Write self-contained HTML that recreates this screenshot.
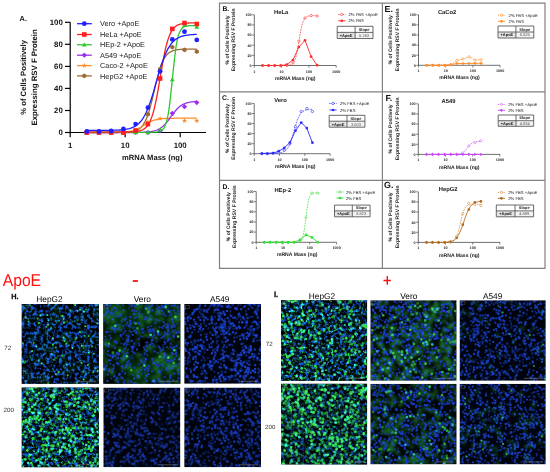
<!DOCTYPE html>
<html><head><meta charset="utf-8"><style>
html,body{margin:0;padding:0;background:#fff;width:550px;height:472px;overflow:hidden}
svg{display:block}
text{font-family:"Liberation Sans", sans-serif;text-rendering:geometricPrecision}
</style></head><body>
<svg width="550" height="472" viewBox="0 0 550 472">
<defs><filter id="bl" x="-5%" y="-5%" width="110%" height="110%"><feGaussianBlur stdDeviation="0.65"/></filter><filter id="tf0" x="0" y="0" width="100%" height="100%" color-interpolation-filters="sRGB"><feTurbulence type="fractalNoise" baseFrequency="0.32" numOctaves="2" seed="3"/><feColorMatrix type="matrix" values="3.6 0 0 0 -1.58 3.6 0 0 0 -1.58 3.6 0 0 0 -1.58 0 0 0 0 1"/><feColorMatrix type="matrix" values="0.08 0 0 0 0 0 0.34 0 0 0 0 0 0.85 0 0 0 0 0 0 1" result="L0"/><feTurbulence type="fractalNoise" baseFrequency="0.1" numOctaves="1" seed="4"/><feColorMatrix type="matrix" values="2 0 0 0 -0.8 2 0 0 0 -0.8 2 0 0 0 -0.8 0 0 0 0 1"/><feColorMatrix type="matrix" values="0.02 0 0 0 0 0 0.16 0 0 0 0 0 0.05 0 0 0 0 0 0 1" result="L1"/><feComposite in="L0" in2="L1" operator="arithmetic" k2="1" k3="1" result="C0"/><feGaussianBlur in="C0" stdDeviation="0.4"/></filter><filter id="tf1" x="0" y="0" width="100%" height="100%" color-interpolation-filters="sRGB"><feTurbulence type="fractalNoise" baseFrequency="0.04" numOctaves="1" seed="5"/><feColorMatrix type="matrix" values="1.4 0 0 0 -0.392 1.4 0 0 0 -0.392 1.4 0 0 0 -0.392 0 0 0 0 1"/><feColorMatrix type="matrix" values="0.04 0 0 0 0 0 0.3 0 0 0 0 0 0.08 0 0 0 0 0 0 1" result="L0"/><feGaussianBlur in="L0" stdDeviation="0.4"/></filter><filter id="tf3" x="0" y="0" width="100%" height="100%" color-interpolation-filters="sRGB"><feTurbulence type="fractalNoise" baseFrequency="0.32" numOctaves="2" seed="7"/><feColorMatrix type="matrix" values="3.6 0 0 0 -1.58 3.6 0 0 0 -1.58 3.6 0 0 0 -1.58 0 0 0 0 1"/><feColorMatrix type="matrix" values="0.08 0 0 0 0 0 0.34 0 0 0 0 0 0.85 0 0 0 0 0 0 1" result="L0"/><feTurbulence type="fractalNoise" baseFrequency="0.1" numOctaves="1" seed="8"/><feColorMatrix type="matrix" values="2 0 0 0 -0.8 2 0 0 0 -0.8 2 0 0 0 -0.8 0 0 0 0 1"/><feColorMatrix type="matrix" values="0.02 0 0 0 0 0 0.16 0 0 0 0 0 0.05 0 0 0 0 0 0 1" result="L1"/><feTurbulence type="fractalNoise" baseFrequency="0.3" numOctaves="2" seed="31"/><feColorMatrix type="matrix" values="4.5 0 0 0 -2.43 4.5 0 0 0 -2.43 4.5 0 0 0 -2.43 0 0 0 0 1"/><feColorMatrix type="matrix" values="0.12 0 0 0 0 0 0.8 0 0 0 0 0 0.18 0 0 0 0 0 0 1" result="L2"/><feComposite in="L0" in2="L1" operator="arithmetic" k2="1" k3="1" result="C0"/><feComposite in="C0" in2="L2" operator="arithmetic" k2="1" k3="1" result="C1"/><feGaussianBlur in="C1" stdDeviation="0.4"/></filter><filter id="tf6" x="0" y="0" width="100%" height="100%" color-interpolation-filters="sRGB"><feTurbulence type="fractalNoise" baseFrequency="0.32" numOctaves="2" seed="9"/><feColorMatrix type="matrix" values="3.6 0 0 0 -1.58 3.6 0 0 0 -1.58 3.6 0 0 0 -1.58 0 0 0 0 1"/><feColorMatrix type="matrix" values="0.08 0 0 0 0 0 0.34 0 0 0 0 0 0.85 0 0 0 0 0 0 1" result="L0"/><feTurbulence type="fractalNoise" baseFrequency="0.1" numOctaves="1" seed="10"/><feColorMatrix type="matrix" values="2 0 0 0 -0.8 2 0 0 0 -0.8 2 0 0 0 -0.8 0 0 0 0 1"/><feColorMatrix type="matrix" values="0.02 0 0 0 0 0 0.16 0 0 0 0 0 0.05 0 0 0 0 0 0 1" result="L1"/><feTurbulence type="fractalNoise" baseFrequency="0.3" numOctaves="2" seed="33"/><feColorMatrix type="matrix" values="4.5 0 0 0 -2.56 4.5 0 0 0 -2.56 4.5 0 0 0 -2.56 0 0 0 0 1"/><feColorMatrix type="matrix" values="0.12 0 0 0 0 0 0.8 0 0 0 0 0 0.18 0 0 0 0 0 0 1" result="L2"/><feComposite in="L0" in2="L1" operator="arithmetic" k2="1" k3="1" result="C0"/><feComposite in="C0" in2="L2" operator="arithmetic" k2="1" k3="1" result="C1"/><feGaussianBlur in="C1" stdDeviation="0.4"/></filter><filter id="tf9" x="0" y="0" width="100%" height="100%" color-interpolation-filters="sRGB"><feTurbulence type="fractalNoise" baseFrequency="0.3" numOctaves="2" seed="21"/><feColorMatrix type="matrix" values="3.4 0 0 0 -1.43 3.4 0 0 0 -1.43 3.4 0 0 0 -1.43 0 0 0 0 1"/><feColorMatrix type="matrix" values="0.06 0 0 0 0 0 0.25 0 0 0 0 0 0.6 0 0 0 0 0 0 1" result="L0"/><feTurbulence type="fractalNoise" baseFrequency="0.1" numOctaves="1" seed="22"/><feColorMatrix type="matrix" values="2 0 0 0 -0.8 2 0 0 0 -0.8 2 0 0 0 -0.8 0 0 0 0 1"/><feColorMatrix type="matrix" values="0.02 0 0 0 0 0 0.16 0 0 0 0 0 0.05 0 0 0 0 0 0 1" result="L1"/><feTurbulence type="fractalNoise" baseFrequency="0.25" numOctaves="2" seed="35"/><feColorMatrix type="matrix" values="4 0 0 0 -2.12 4 0 0 0 -2.12 4 0 0 0 -2.12 0 0 0 0 1"/><feColorMatrix type="matrix" values="0.1 0 0 0 0 0 0.65 0 0 0 0 0 0.15 0 0 0 0 0 0 1" result="L2"/><feComposite in="L0" in2="L1" operator="arithmetic" k2="1" k3="1" result="C0"/><feComposite in="C0" in2="L2" operator="arithmetic" k2="1" k3="1" result="C1"/><feGaussianBlur in="C1" stdDeviation="0.4"/></filter><filter id="bl2" x="-10%" y="-10%" width="120%" height="120%"><feGaussianBlur stdDeviation="1.6"/></filter></defs>
<rect width="550" height="472" fill="#fff"/>
<path d="M70.2 22.3V132.5H206.0" fill="none" stroke="#000" stroke-width="1.2"/>
<path d="M65.0 132.5H70.2" stroke="#000" stroke-width="1.2"/>
<text x="62.8" y="135.3" font-size="7.8" font-weight="bold" text-anchor="end" fill="#111">0</text>
<path d="M65.0 110.5H70.2" stroke="#000" stroke-width="1.2"/>
<text x="62.8" y="113.3" font-size="7.8" font-weight="bold" text-anchor="end" fill="#111">20</text>
<path d="M65.0 88.4H70.2" stroke="#000" stroke-width="1.2"/>
<text x="62.8" y="91.2" font-size="7.8" font-weight="bold" text-anchor="end" fill="#111">40</text>
<path d="M65.0 66.4H70.2" stroke="#000" stroke-width="1.2"/>
<text x="62.8" y="69.2" font-size="7.8" font-weight="bold" text-anchor="end" fill="#111">60</text>
<path d="M65.0 44.3H70.2" stroke="#000" stroke-width="1.2"/>
<text x="62.8" y="47.1" font-size="7.8" font-weight="bold" text-anchor="end" fill="#111">80</text>
<path d="M65.0 22.3H70.2" stroke="#000" stroke-width="1.2"/>
<text x="62.8" y="25.1" font-size="7.8" font-weight="bold" text-anchor="end" fill="#111">100</text>
<path d="M70.2 132.5V137.3" stroke="#000" stroke-width="1.2"/>
<text x="70.2" y="148" font-size="7.8" font-weight="bold" text-anchor="middle" fill="#111">1</text>
<path d="M125.2 132.5V137.3" stroke="#000" stroke-width="1.2"/>
<text x="125.2" y="148" font-size="7.8" font-weight="bold" text-anchor="middle" fill="#111">10</text>
<path d="M180.2 132.5V137.3" stroke="#000" stroke-width="1.2"/>
<text x="180.2" y="148" font-size="7.8" font-weight="bold" text-anchor="middle" fill="#111">100</text>
<text x="152.3" y="160.2" font-size="7.6" font-weight="bold" text-anchor="middle" fill="#111">mRNA Mass (ng)</text>
<g transform="translate(25.8 77.4) rotate(-90)"><text x="0" y="0" font-size="7.7" font-weight="bold" text-anchor="middle" fill="#111">% of Cells Positively</text></g>
<g transform="translate(36.6 77.4) rotate(-90)"><text x="0" y="0" font-size="7.8" font-weight="bold" text-anchor="middle" fill="#111">Expressing RSV F Protein</text></g>
<text x="19.6" y="21.2" font-size="7.4" font-weight="bold" text-anchor="start" fill="#111">A.</text>
<path d="M86.8 132.5L88.1 132.5L89.5 132.5L90.9 132.5L92.3 132.5L93.6 132.5L95.0 132.5L96.4 132.5L97.8 132.5L99.1 132.5L100.5 132.5L101.9 132.5L103.3 132.5L104.6 132.5L106.0 132.5L107.4 132.5L108.8 132.5L110.1 132.5L111.5 132.5L112.9 132.5L114.3 132.5L115.6 132.5L117.0 132.5L118.4 132.4L119.8 132.4L121.1 132.4L122.5 132.4L123.9 132.3L125.3 132.3L126.6 132.2L128.0 132.1L129.4 132.0L130.8 131.8L132.1 131.6L133.5 131.4L134.9 131.0L136.3 130.5L137.6 129.9L139.0 129.1L140.4 128.0L141.8 126.6L143.1 124.9L144.5 122.7L145.9 119.9L147.3 116.5L148.6 112.6L150.0 107.9L151.4 102.7L152.8 97.1L154.1 91.2L155.5 85.3L156.9 79.6L158.3 74.3L159.6 69.6L161.0 65.5L162.4 62.1L163.8 59.2L165.1 57.0L166.5 55.1L167.9 53.7L169.3 52.6L170.6 51.8L172.0 51.1L173.4 50.6L174.8 50.2L176.1 49.9L177.5 49.7L178.9 49.6L180.3 49.4L181.6 49.4L183.0 49.3L184.4 49.2L185.8 49.2L187.1 49.2L188.5 49.1L189.9 49.1L191.3 49.1L192.6 49.1L194.0 49.1L195.4 49.1L196.8 49.1" fill="none" stroke="#9c6a34" stroke-width="1.3"/>
<path d="M86.8 132.5L88.1 132.5L89.5 132.5L90.9 132.5L92.3 132.5L93.6 132.5L95.0 132.5L96.4 132.5L97.8 132.5L99.1 132.5L100.5 132.5L101.9 132.5L103.3 132.5L104.6 132.5L106.0 132.5L107.4 132.5L108.8 132.5L110.1 132.5L111.5 132.5L112.9 132.4L114.3 132.4L115.6 132.4L117.0 132.4L118.4 132.3L119.8 132.3L121.1 132.2L122.5 132.2L123.9 132.1L125.3 132.0L126.6 131.8L128.0 131.7L129.4 131.5L130.8 131.2L132.1 130.9L133.5 130.5L134.9 130.1L136.3 129.5L137.6 128.9L139.0 128.2L140.4 127.5L141.8 126.7L143.1 125.8L144.5 125.0L145.9 124.1L147.3 123.3L148.6 122.5L150.0 121.8L151.4 121.2L152.8 120.7L154.1 120.2L155.5 119.8L156.9 119.5L158.3 119.2L159.6 119.0L161.0 118.8L162.4 118.7L163.8 118.6L165.1 118.5L166.5 118.4L167.9 118.4L169.3 118.3L170.6 118.3L172.0 118.3L173.4 118.3L174.8 118.2L176.1 118.2L177.5 118.2L178.9 118.2L180.3 118.2L181.6 118.2L183.0 118.2L184.4 118.2L185.8 118.2L187.1 118.2L188.5 118.2L189.9 118.2L191.3 118.2L192.6 118.2L194.0 118.2L195.4 118.2L196.8 118.2" fill="none" stroke="#ff8c26" stroke-width="1.3"/>
<path d="M86.8 132.5L88.1 132.5L89.5 132.5L90.9 132.5L92.3 132.5L93.6 132.5L95.0 132.5L96.4 132.5L97.8 132.5L99.1 132.5L100.5 132.5L101.9 132.5L103.3 132.5L104.6 132.5L106.0 132.5L107.4 132.5L108.8 132.5L110.1 132.5L111.5 132.5L112.9 132.5L114.3 132.5L115.6 132.5L117.0 132.5L118.4 132.5L119.8 132.5L121.1 132.5L122.5 132.5L123.9 132.5L125.3 132.5L126.6 132.5L128.0 132.5L129.4 132.5L130.8 132.5L132.1 132.5L133.5 132.5L134.9 132.4L136.3 132.4L137.6 132.4L139.0 132.4L140.4 132.4L141.8 132.3L143.1 132.3L144.5 132.2L145.9 132.1L147.3 132.0L148.6 131.9L150.0 131.7L151.4 131.5L152.8 131.2L154.1 130.9L155.5 130.5L156.9 130.0L158.3 129.4L159.6 128.7L161.0 127.8L162.4 126.7L163.8 125.5L165.1 124.1L166.5 122.5L167.9 120.8L169.3 119.0L170.6 117.1L172.0 115.2L173.4 113.4L174.8 111.6L176.1 110.0L177.5 108.5L178.9 107.2L180.3 106.1L181.6 105.2L183.0 104.4L184.4 103.8L185.8 103.2L187.1 102.8L188.5 102.4L189.9 102.2L191.3 101.9L192.6 101.8L194.0 101.6L195.4 101.5L196.8 101.4" fill="none" stroke="#9a2ff0" stroke-width="1.3"/>
<path d="M86.8 132.3L88.1 132.3L89.5 132.3L90.9 132.3L92.3 132.3L93.6 132.3L95.0 132.3L96.4 132.3L97.8 132.3L99.1 132.3L100.5 132.3L101.9 132.3L103.3 132.3L104.6 132.3L106.0 132.3L107.4 132.3L108.8 132.3L110.1 132.3L111.5 132.3L112.9 132.3L114.3 132.3L115.6 132.3L117.0 132.3L118.4 132.3L119.8 132.3L121.1 132.3L122.5 132.3L123.9 132.3L125.3 132.3L126.6 132.3L128.0 132.3L129.4 132.3L130.8 132.3L132.1 132.3L133.5 132.3L134.9 132.3L136.3 132.3L137.6 132.3L139.0 132.3L140.4 132.3L141.8 132.3L143.1 132.3L144.5 132.3L145.9 132.3L147.3 132.3L148.6 132.2L150.0 132.2L151.4 132.2L152.8 132.2L154.1 132.2L155.5 132.1L156.9 132.0L158.3 131.8L159.6 131.4L161.0 130.9L162.4 129.9L163.8 128.4L165.1 125.8L166.5 121.9L167.9 115.8L169.3 107.2L170.6 95.9L172.0 82.6L173.4 68.8L174.8 56.3L176.1 46.2L177.5 38.9L178.9 33.9L180.3 30.7L181.6 28.7L183.0 27.4L184.4 26.7L185.8 26.3L187.1 26.0L188.5 25.8L189.9 25.7L191.3 25.7L192.6 25.7L194.0 25.6L195.4 25.6L196.8 25.6" fill="none" stroke="#2ec82e" stroke-width="1.3"/>
<path d="M86.8 132.1L88.1 132.1L89.5 132.1L90.9 132.1L92.3 132.1L93.6 132.1L95.0 132.1L96.4 132.1L97.8 132.1L99.1 132.1L100.5 132.1L101.9 132.1L103.3 132.1L104.6 132.1L106.0 132.1L107.4 132.1L108.8 132.1L110.1 132.1L111.5 132.1L112.9 132.1L114.3 132.1L115.6 132.1L117.0 132.1L118.4 132.1L119.8 132.1L121.1 132.0L122.5 132.0L123.9 132.0L125.3 132.0L126.6 132.0L128.0 132.0L129.4 131.9L130.8 131.9L132.1 131.8L133.5 131.7L134.9 131.6L136.3 131.5L137.6 131.3L139.0 131.0L140.4 130.6L141.8 130.1L143.1 129.5L144.5 128.6L145.9 127.5L147.3 125.9L148.6 124.0L150.0 121.4L151.4 118.1L152.8 114.0L154.1 109.1L155.5 103.1L156.9 96.3L158.3 88.8L159.6 80.7L161.0 72.5L162.4 64.5L163.8 57.1L165.1 50.5L166.5 44.7L167.9 39.9L169.3 36.0L170.6 32.9L172.0 30.4L173.4 28.6L174.8 27.1L176.1 26.0L177.5 25.2L178.9 24.6L180.3 24.1L181.6 23.8L183.0 23.5L184.4 23.3L185.8 23.2L187.1 23.1L188.5 23.0L189.9 22.9L191.3 22.9L192.6 22.9L194.0 22.8L195.4 22.8L196.8 22.8" fill="none" stroke="#ff1f1f" stroke-width="1.3"/>
<path d="M86.8 130.4L88.1 130.4L89.5 130.4L90.9 130.4L92.3 130.4L93.6 130.4L95.0 130.4L96.4 130.4L97.8 130.4L99.1 130.4L100.5 130.4L101.9 130.4L103.3 130.4L104.6 130.4L106.0 130.4L107.4 130.4L108.8 130.4L110.1 130.3L111.5 130.3L112.9 130.3L114.3 130.2L115.6 130.2L117.0 130.1L118.4 130.1L119.8 130.0L121.1 129.9L122.5 129.8L123.9 129.6L125.3 129.4L126.6 129.2L128.0 128.9L129.4 128.6L130.8 128.2L132.1 127.7L133.5 127.1L134.9 126.4L136.3 125.5L137.6 124.5L139.0 123.3L140.4 121.8L141.8 120.1L143.1 118.1L144.5 115.8L145.9 113.1L147.3 110.0L148.6 106.6L150.0 102.8L151.4 98.7L152.8 94.3L154.1 89.6L155.5 84.8L156.9 80.0L158.3 75.2L159.6 70.6L161.0 66.1L162.4 62.0L163.8 58.2L165.1 54.7L166.5 51.7L167.9 48.9L169.3 46.6L170.6 44.6L172.0 42.8L173.4 41.4L174.8 40.1L176.1 39.1L177.5 38.2L178.9 37.5L180.3 36.9L181.6 36.4L183.0 36.0L184.4 35.7L185.8 35.4L187.1 35.1L188.5 35.0L189.9 34.8L191.3 34.7L192.6 34.6L194.0 34.5L195.4 34.4L196.8 34.4" fill="none" stroke="#1f1fff" stroke-width="1.3"/>
<path d="M88.9 133.7L86.8 134.9L84.7 133.7L84.7 131.3L86.8 130.1L88.9 131.3Z" fill="#9c6a34"/>
<path d="M101.1 133.7L99.0 134.9L96.9 133.7L96.9 131.3L99.0 130.1L101.1 131.3Z" fill="#9c6a34"/>
<path d="M113.3 133.7L111.2 134.9L109.1 133.7L109.1 131.3L111.2 130.1L113.3 131.3Z" fill="#9c6a34"/>
<path d="M125.5 133.7L123.4 134.9L121.3 133.7L121.3 131.3L123.4 130.1L125.5 131.3Z" fill="#9c6a34"/>
<path d="M137.7 132.1L135.6 133.3L133.5 132.1L133.5 129.6L135.6 128.4L137.7 129.6Z" fill="#9c6a34"/>
<path d="M150.0 115.5L147.9 116.7L145.8 115.5L145.8 113.1L147.9 111.9L150.0 113.1Z" fill="#9c6a34"/>
<path d="M162.2 70.3L160.1 71.6L158.0 70.3L158.0 67.9L160.1 66.7L162.2 67.9Z" fill="#9c6a34"/>
<path d="M174.4 48.3L172.3 49.5L170.2 48.3L170.2 45.9L172.3 44.7L174.4 45.9Z" fill="#9c6a34"/>
<path d="M186.6 51.1L184.5 52.3L182.4 51.1L182.4 48.6L184.5 47.4L186.6 48.6Z" fill="#9c6a34"/>
<path d="M198.9 52.8L196.8 54.0L194.7 52.8L194.7 50.4L196.8 49.2L198.9 50.4Z" fill="#9c6a34"/>
<path d="M86.8 129.8L87.4 131.6L89.4 131.7L87.9 132.9L88.4 134.7L86.8 133.7L85.2 134.7L85.7 132.9L84.2 131.7L86.1 131.6Z" fill="#ff8c26"/>
<path d="M99.0 129.8L99.7 131.6L101.6 131.7L100.1 132.9L100.6 134.7L99.0 133.7L97.4 134.7L97.9 132.9L96.4 131.7L98.3 131.6Z" fill="#ff8c26"/>
<path d="M111.2 129.8L111.9 131.6L113.8 131.7L112.3 132.9L112.8 134.7L111.2 133.7L109.6 134.7L110.1 132.9L108.6 131.7L110.5 131.6Z" fill="#ff8c26"/>
<path d="M123.4 129.8L124.1 131.6L126.0 131.7L124.5 132.9L125.0 134.7L123.4 133.7L121.8 134.7L122.3 132.9L120.8 131.7L122.7 131.6Z" fill="#ff8c26"/>
<path d="M135.6 129.2L136.3 131.0L138.2 131.1L136.7 132.3L137.3 134.2L135.6 133.1L134.0 134.2L134.5 132.3L133.0 131.1L135.0 131.0Z" fill="#ff8c26"/>
<path d="M147.9 119.3L148.5 121.1L150.5 121.2L149.0 122.4L149.5 124.2L147.9 123.2L146.3 124.2L146.8 122.4L145.3 121.2L147.2 121.1Z" fill="#ff8c26"/>
<path d="M160.1 115.9L160.8 117.7L162.7 117.8L161.2 119.0L161.7 120.8L160.1 119.8L158.5 120.8L159.0 119.0L157.5 117.8L159.4 117.7Z" fill="#ff8c26"/>
<path d="M172.3 111.3L173.0 113.1L174.9 113.1L173.4 114.3L173.9 116.2L172.3 115.1L170.7 116.2L171.2 114.3L169.7 113.1L171.6 113.1Z" fill="#ff8c26"/>
<path d="M184.5 118.0L185.2 119.8L187.1 119.9L185.6 121.1L186.1 122.9L184.5 121.9L182.9 122.9L183.4 121.1L181.9 119.9L183.9 119.8Z" fill="#ff8c26"/>
<path d="M196.8 118.0L197.4 119.8L199.4 119.9L197.9 121.1L198.4 122.9L196.8 121.9L195.2 122.9L195.7 121.1L194.2 119.9L196.1 119.8Z" fill="#ff8c26"/>
<path d="M86.8 129.9L89.4 132.5L86.8 135.1L84.2 132.5Z" fill="#9a2ff0"/>
<path d="M99.0 129.9L101.6 132.5L99.0 135.1L96.4 132.5Z" fill="#9a2ff0"/>
<path d="M111.2 129.9L113.8 132.5L111.2 135.1L108.6 132.5Z" fill="#9a2ff0"/>
<path d="M123.4 129.9L126.0 132.5L123.4 135.1L120.8 132.5Z" fill="#9a2ff0"/>
<path d="M135.6 129.9L138.2 132.5L135.6 135.1L133.0 132.5Z" fill="#9a2ff0"/>
<path d="M147.9 129.9L150.5 132.5L147.9 135.1L145.3 132.5Z" fill="#9a2ff0"/>
<path d="M160.1 128.2L162.7 130.8L160.1 133.4L157.5 130.8Z" fill="#9a2ff0"/>
<path d="M172.3 110.7L174.9 113.3L172.3 115.9L169.7 113.3Z" fill="#9a2ff0"/>
<path d="M184.5 104.1L187.1 106.7L184.5 109.3L181.9 106.7Z" fill="#9a2ff0"/>
<path d="M196.8 100.0L199.4 102.6L196.8 105.2L194.2 102.6Z" fill="#9a2ff0"/>
<path d="M86.8 130.0L89.2 134.2L84.3 134.2Z" fill="#2ec82e"/>
<path d="M99.0 130.0L101.4 134.2L96.6 134.2Z" fill="#2ec82e"/>
<path d="M111.2 130.0L113.6 134.2L108.8 134.2Z" fill="#2ec82e"/>
<path d="M123.4 130.0L125.8 134.2L121.0 134.2Z" fill="#2ec82e"/>
<path d="M135.6 130.0L138.1 134.2L133.2 134.2Z" fill="#2ec82e"/>
<path d="M147.9 130.0L150.3 134.2L145.4 134.2Z" fill="#2ec82e"/>
<path d="M160.1 127.2L162.5 131.4L157.7 131.4Z" fill="#2ec82e"/>
<path d="M172.3 77.1L174.7 81.3L169.9 81.3Z" fill="#2ec82e"/>
<path d="M184.5 22.6L187.0 26.8L182.1 26.8Z" fill="#2ec82e"/>
<path d="M196.8 24.5L199.2 28.7L194.3 28.7Z" fill="#2ec82e"/>
<rect x="84.5" y="130.2" width="4.6" height="4.6" fill="#ff1f1f"/>
<rect x="96.7" y="130.2" width="4.6" height="4.6" fill="#ff1f1f"/>
<rect x="108.9" y="130.2" width="4.6" height="4.6" fill="#ff1f1f"/>
<rect x="121.1" y="130.2" width="4.6" height="4.6" fill="#ff1f1f"/>
<rect x="133.3" y="128.2" width="4.6" height="4.6" fill="#ff1f1f"/>
<rect x="145.6" y="121.8" width="4.6" height="4.6" fill="#ff1f1f"/>
<rect x="157.8" y="76.2" width="4.6" height="4.6" fill="#ff1f1f"/>
<rect x="170.0" y="26.6" width="4.6" height="4.6" fill="#ff1f1f"/>
<rect x="182.2" y="20.7" width="4.6" height="4.6" fill="#ff1f1f"/>
<rect x="194.5" y="21.7" width="4.6" height="4.6" fill="#ff1f1f"/>
<circle cx="86.8" cy="131.4" r="2.40" fill="#1f1fff"/>
<circle cx="99.0" cy="131.4" r="2.40" fill="#1f1fff"/>
<circle cx="111.2" cy="131.0" r="2.40" fill="#1f1fff"/>
<circle cx="123.4" cy="129.0" r="2.40" fill="#1f1fff"/>
<circle cx="135.6" cy="124.1" r="2.40" fill="#1f1fff"/>
<circle cx="147.9" cy="107.7" r="2.40" fill="#1f1fff"/>
<circle cx="160.1" cy="71.3" r="2.40" fill="#1f1fff"/>
<circle cx="172.3" cy="39.4" r="2.40" fill="#1f1fff"/>
<circle cx="184.5" cy="31.7" r="2.40" fill="#1f1fff"/>
<circle cx="196.8" cy="39.9" r="2.40" fill="#1f1fff"/>
<path d="M77 23.7H91.8" stroke="#1f1fff" stroke-width="1.3"/>
<circle cx="84.3" cy="23.7" r="2.40" fill="#1f1fff"/>
<text x="100.1" y="26.3" font-size="7.3" text-anchor="start" fill="#1a1a1a">Vero +ApoE</text>
<path d="M77 34.5H91.8" stroke="#ff1f1f" stroke-width="1.3"/>
<rect x="82.0" y="32.2" width="4.6" height="4.6" fill="#ff1f1f"/>
<text x="100.1" y="37.1" font-size="7.3" text-anchor="start" fill="#1a1a1a">HeLa +ApoE</text>
<path d="M77 44.8H91.8" stroke="#2ec82e" stroke-width="1.3"/>
<path d="M84.3 42.3L86.7 46.4L81.9 46.4Z" fill="#2ec82e"/>
<text x="100.1" y="47.4" font-size="7.3" text-anchor="start" fill="#1a1a1a">HEp-2 +ApoE</text>
<path d="M77 55.2H91.8" stroke="#9a2ff0" stroke-width="1.3"/>
<path d="M84.3 52.6L86.9 55.2L84.3 57.8L81.7 55.2Z" fill="#9a2ff0"/>
<text x="100.1" y="57.8" font-size="7.3" text-anchor="start" fill="#1a1a1a">A549 +ApoE</text>
<path d="M77 65.6H91.8" stroke="#ff8c26" stroke-width="1.3"/>
<path d="M84.3 62.9L85.0 64.7L86.9 64.8L85.4 66.0L85.9 67.8L84.3 66.8L82.7 67.8L83.2 66.0L81.7 64.8L83.6 64.7Z" fill="#ff8c26"/>
<text x="100.1" y="68.2" font-size="7.3" text-anchor="start" fill="#1a1a1a">Caco-2 +ApoE</text>
<path d="M77 75.9H91.8" stroke="#9c6a34" stroke-width="1.3"/>
<path d="M86.4 77.1L84.3 78.3L82.2 77.1L82.2 74.7L84.3 73.5L86.4 74.7Z" fill="#9c6a34"/>
<text x="100.1" y="78.5" font-size="7.3" text-anchor="start" fill="#1a1a1a">HepG2 +ApoE</text>
<path d="M219.5 3.2H545V268.3H219.5ZM382.4 3.2V268.3M219.5 91.8H545M219.5 180.3H545" fill="none" stroke="#808080" stroke-width="1.2"/>
<path d="M254.3 14.8V65.5H336.2" fill="none" stroke="#333" stroke-width="0.7"/>
<path d="M252.1 65.5H254.3" stroke="#333" stroke-width="0.6"/>
<text x="251.6" y="66.8" font-size="3.7" font-weight="bold" text-anchor="end" fill="#222">0</text>
<path d="M252.1 55.4H254.3" stroke="#333" stroke-width="0.6"/>
<text x="251.6" y="56.7" font-size="3.7" font-weight="bold" text-anchor="end" fill="#222">20</text>
<path d="M252.1 45.2H254.3" stroke="#333" stroke-width="0.6"/>
<text x="251.6" y="46.5" font-size="3.7" font-weight="bold" text-anchor="end" fill="#222">40</text>
<path d="M252.1 35.1H254.3" stroke="#333" stroke-width="0.6"/>
<text x="251.6" y="36.4" font-size="3.7" font-weight="bold" text-anchor="end" fill="#222">60</text>
<path d="M252.1 24.9H254.3" stroke="#333" stroke-width="0.6"/>
<text x="251.6" y="26.2" font-size="3.7" font-weight="bold" text-anchor="end" fill="#222">80</text>
<path d="M252.1 14.8H254.3" stroke="#333" stroke-width="0.6"/>
<text x="251.6" y="16.1" font-size="3.7" font-weight="bold" text-anchor="end" fill="#222">100</text>
<path d="M254.3 65.5V67.7" stroke="#333" stroke-width="0.6"/>
<text x="254.3" y="72.5" font-size="3.7" font-weight="bold" text-anchor="middle" fill="#222">1</text>
<path d="M281.6 65.5V67.7" stroke="#333" stroke-width="0.6"/>
<text x="281.6" y="72.5" font-size="3.7" font-weight="bold" text-anchor="middle" fill="#222">10</text>
<path d="M308.9 65.5V67.7" stroke="#333" stroke-width="0.6"/>
<text x="308.9" y="72.5" font-size="3.7" font-weight="bold" text-anchor="middle" fill="#222">100</text>
<path d="M336.2 65.5V67.7" stroke="#333" stroke-width="0.6"/>
<text x="336.2" y="72.5" font-size="3.7" font-weight="bold" text-anchor="middle" fill="#222">1000</text>
<text x="295.3" y="79.6" font-size="5.1" font-weight="bold" text-anchor="middle" fill="#222">mRNA Mass (ng)</text>
<g transform="translate(229.0 39.9) rotate(-90)"><text x="0" y="0" font-size="5.05" font-weight="bold" text-anchor="middle" fill="#222">% of Cells Positively</text></g>
<g transform="translate(234.9 39.9) rotate(-90)"><text x="0" y="0" font-size="5.1" font-weight="bold" text-anchor="middle" fill="#222">Expressing RSV F Protein</text></g>
<text x="222.4" y="10.6" font-size="6.8" font-weight="bold" text-anchor="start" fill="#111">B.</text>
<text x="281.2" y="13.5" font-size="5.8" font-weight="bold" text-anchor="middle" fill="#1a1a1a">HeLa</text>
<path d="M262.5 65.5L263.2 65.5L263.9 65.5L264.6 65.5L265.2 65.5L265.9 65.5L266.6 65.5L267.3 65.5L268.0 65.5L268.7 65.5L269.3 65.5L270.0 65.5L270.7 65.5L271.4 65.5L272.1 65.5L272.8 65.5L273.4 65.5L274.1 65.5L274.8 65.5L275.5 65.5L276.2 65.5L276.9 65.5L277.5 65.5L278.2 65.5L278.9 65.5L279.6 65.5L280.3 65.5L280.9 65.5L281.6 65.5L282.3 65.5L283.0 65.5L283.7 65.5L284.4 65.5L285.0 65.4L285.7 65.4L286.4 65.4L287.1 65.3L287.8 65.3L288.5 65.2L289.1 65.1L289.8 65.0L290.5 64.7L291.2 64.4L291.9 64.0L292.5 63.5L293.2 62.7L293.9 61.7L294.6 60.4L295.3 58.6L296.0 56.4L296.6 53.6L297.3 50.3L298.0 46.5L298.7 42.5L299.4 38.3L300.1 34.3L300.7 30.5L301.4 27.3L302.1 24.6L302.8 22.4L303.5 20.7L304.2 19.3L304.8 18.3L305.5 17.6L306.2 17.1L306.9 16.7L307.6 16.4L308.2 16.2L308.9 16.0L309.6 15.9L310.3 15.8L311.0 15.8L311.7 15.8L312.3 15.7L313.0 15.7L313.7 15.7L314.4 15.7L315.1 15.7L315.8 15.7L316.4 15.7L317.1 15.7" fill="none" stroke="#ff2a2a" stroke-width="0.8" stroke-dasharray="1.6 1.1"/>
<path d="M262.5 65.5L268.6 65.5L274.7 65.5L280.7 65.5L286.8 64.6L292.9 60.0L298.9 47.0L305.0 40.3L311.1 56.6L317.1 65.2" fill="none" stroke="#ff2a2a" stroke-width="0.9"/>
<circle cx="262.5" cy="65.5" r="1.15" fill="#fff" stroke="#ff2a2a" stroke-width="0.6"/>
<circle cx="268.6" cy="65.5" r="1.15" fill="#fff" stroke="#ff2a2a" stroke-width="0.6"/>
<circle cx="274.7" cy="65.5" r="1.15" fill="#fff" stroke="#ff2a2a" stroke-width="0.6"/>
<circle cx="280.7" cy="65.5" r="1.15" fill="#fff" stroke="#ff2a2a" stroke-width="0.6"/>
<circle cx="286.8" cy="65.5" r="1.15" fill="#fff" stroke="#ff2a2a" stroke-width="0.6"/>
<circle cx="292.9" cy="63.0" r="1.15" fill="#fff" stroke="#ff2a2a" stroke-width="0.6"/>
<circle cx="298.9" cy="41.2" r="1.15" fill="#fff" stroke="#ff2a2a" stroke-width="0.6"/>
<circle cx="305.0" cy="18.0" r="1.15" fill="#fff" stroke="#ff2a2a" stroke-width="0.6"/>
<circle cx="311.1" cy="15.6" r="1.15" fill="#fff" stroke="#ff2a2a" stroke-width="0.6"/>
<circle cx="317.1" cy="16.0" r="1.15" fill="#fff" stroke="#ff2a2a" stroke-width="0.6"/>
<circle cx="262.5" cy="65.5" r="1.35" fill="#ff2a2a"/>
<circle cx="268.6" cy="65.5" r="1.35" fill="#ff2a2a"/>
<circle cx="274.7" cy="65.5" r="1.35" fill="#ff2a2a"/>
<circle cx="280.7" cy="65.5" r="1.35" fill="#ff2a2a"/>
<circle cx="286.8" cy="64.6" r="1.35" fill="#ff2a2a"/>
<circle cx="292.9" cy="60.0" r="1.35" fill="#ff2a2a"/>
<circle cx="298.9" cy="47.0" r="1.35" fill="#ff2a2a"/>
<circle cx="305.0" cy="40.3" r="1.35" fill="#ff2a2a"/>
<circle cx="311.1" cy="56.6" r="1.35" fill="#ff2a2a"/>
<circle cx="317.1" cy="65.2" r="1.35" fill="#ff2a2a"/>
<path d="M338.2 14.5H345.4" stroke="#ff2a2a" stroke-width="0.8" stroke-dasharray="1.3 0.9"/>
<circle cx="341.8" cy="14.5" r="1.15" fill="#fff" stroke="#ff2a2a" stroke-width="0.6"/>
<path d="M338.2 20.8H345.4" stroke="#ff2a2a" stroke-width="0.9"/>
<circle cx="341.8" cy="20.8" r="1.35" fill="#ff2a2a"/>
<text x="348.5" y="16" font-size="4.2" text-anchor="start" fill="#222">2% FBS +ApoE</text>
<text x="348.5" y="22.3" font-size="4.2" text-anchor="start" fill="#222">2% FBS</text>
<rect x="337.7" y="32.4" width="17.4" height="6.1" fill="#e4e4e4"/>
<rect x="355.1" y="32.4" width="17.4" height="6.1" fill="#f2f2f2"/>
<path d="M337.2 26.3H373.0V38.5H337.2ZM337.2 32.4H373.0M355.1 26.3V38.5" fill="none" stroke="#444" stroke-width="0.8"/>
<text x="364.1" y="30.9" font-size="4.0" font-weight="bold" text-anchor="middle" fill="#222">Slope</text>
<text x="346.1" y="36.9" font-size="4.0" font-weight="bold" text-anchor="middle" fill="#111">+ApoE</text>
<text x="364.1" y="36.9" font-size="4.0" text-anchor="middle" fill="#555">5.263</text>
<path d="M254.2 103.5V153.7H330.1" fill="none" stroke="#333" stroke-width="0.7"/>
<path d="M252.0 153.7H254.2" stroke="#333" stroke-width="0.6"/>
<text x="251.5" y="155" font-size="3.7" font-weight="bold" text-anchor="end" fill="#222">0</text>
<path d="M252.0 143.7H254.2" stroke="#333" stroke-width="0.6"/>
<text x="251.5" y="145" font-size="3.7" font-weight="bold" text-anchor="end" fill="#222">20</text>
<path d="M252.0 133.6H254.2" stroke="#333" stroke-width="0.6"/>
<text x="251.5" y="134.9" font-size="3.7" font-weight="bold" text-anchor="end" fill="#222">40</text>
<path d="M252.0 123.6H254.2" stroke="#333" stroke-width="0.6"/>
<text x="251.5" y="124.9" font-size="3.7" font-weight="bold" text-anchor="end" fill="#222">60</text>
<path d="M252.0 113.5H254.2" stroke="#333" stroke-width="0.6"/>
<text x="251.5" y="114.8" font-size="3.7" font-weight="bold" text-anchor="end" fill="#222">80</text>
<path d="M252.0 103.5H254.2" stroke="#333" stroke-width="0.6"/>
<text x="251.5" y="104.8" font-size="3.7" font-weight="bold" text-anchor="end" fill="#222">100</text>
<path d="M254.2 153.7V155.9" stroke="#333" stroke-width="0.6"/>
<text x="254.2" y="160.7" font-size="3.7" font-weight="bold" text-anchor="middle" fill="#222">1</text>
<path d="M279.5 153.7V155.9" stroke="#333" stroke-width="0.6"/>
<text x="279.5" y="160.7" font-size="3.7" font-weight="bold" text-anchor="middle" fill="#222">10</text>
<path d="M304.8 153.7V155.9" stroke="#333" stroke-width="0.6"/>
<text x="304.8" y="160.7" font-size="3.7" font-weight="bold" text-anchor="middle" fill="#222">100</text>
<path d="M330.1 153.7V155.9" stroke="#333" stroke-width="0.6"/>
<text x="330.1" y="160.7" font-size="3.7" font-weight="bold" text-anchor="middle" fill="#222">1000</text>
<text x="295.2" y="167.8" font-size="5.1" font-weight="bold" text-anchor="middle" fill="#222">mRNA Mass (ng)</text>
<g transform="translate(228.7 128.4) rotate(-90)"><text x="0" y="0" font-size="5.05" font-weight="bold" text-anchor="middle" fill="#222">% of Cells Positively</text></g>
<g transform="translate(234.7 128.4) rotate(-90)"><text x="0" y="0" font-size="5.1" font-weight="bold" text-anchor="middle" fill="#222">Expressing RSV F Protein</text></g>
<text x="222" y="99.8" font-size="6.8" font-weight="bold" text-anchor="start" fill="#111">C.</text>
<text x="280.5" y="101.6" font-size="5.8" font-weight="bold" text-anchor="middle" fill="#1a1a1a">Vero</text>
<path d="M261.8 153.2L262.4 153.2L263.1 153.2L263.7 153.2L264.3 153.2L265.0 153.2L265.6 153.2L266.2 153.2L266.9 153.2L267.5 153.2L268.1 153.2L268.8 153.2L269.4 153.2L270.0 153.2L270.7 153.2L271.3 153.1L271.9 153.1L272.6 153.1L273.2 153.1L273.8 153.1L274.5 153.1L275.1 153.1L275.7 153.1L276.4 153.0L277.0 153.0L277.6 153.0L278.3 152.9L278.9 152.9L279.5 152.8L280.2 152.7L280.8 152.6L281.4 152.5L282.1 152.3L282.7 152.1L283.3 151.9L284.0 151.6L284.6 151.2L285.2 150.8L285.9 150.3L286.5 149.7L287.1 149.0L287.7 148.1L288.4 147.1L289.0 145.9L289.6 144.6L290.3 143.1L290.9 141.4L291.5 139.5L292.2 137.5L292.8 135.3L293.4 133.1L294.1 130.8L294.7 128.6L295.3 126.3L296.0 124.2L296.6 122.3L297.2 120.4L297.9 118.8L298.5 117.3L299.1 116.1L299.8 114.9L300.4 114.0L301.0 113.2L301.7 112.5L302.3 111.9L302.9 111.4L303.6 111.0L304.2 110.7L304.8 110.4L305.5 110.2L306.1 110.0L306.7 109.9L307.4 109.8L308.0 109.7L308.6 109.6L309.3 109.5L309.9 109.5L310.5 109.4L311.2 109.4L311.8 109.4L312.4 109.3" fill="none" stroke="#2a2aff" stroke-width="0.8" stroke-dasharray="1.6 1.1"/>
<path d="M261.8 153.5L267.4 153.5L273.1 153.0L278.7 151.2L284.3 147.9L289.9 142.5L295.5 130.7L301.2 122.6L306.8 128.1L312.4 142.7" fill="none" stroke="#2a2aff" stroke-width="0.9"/>
<circle cx="261.8" cy="153.7" r="1.15" fill="#fff" stroke="#2a2aff" stroke-width="0.6"/>
<circle cx="267.4" cy="153.7" r="1.15" fill="#fff" stroke="#2a2aff" stroke-width="0.6"/>
<circle cx="273.1" cy="153.4" r="1.15" fill="#fff" stroke="#2a2aff" stroke-width="0.6"/>
<circle cx="278.7" cy="152.7" r="1.15" fill="#fff" stroke="#2a2aff" stroke-width="0.6"/>
<circle cx="284.3" cy="150.2" r="1.15" fill="#fff" stroke="#2a2aff" stroke-width="0.6"/>
<circle cx="289.9" cy="143.7" r="1.15" fill="#fff" stroke="#2a2aff" stroke-width="0.6"/>
<circle cx="295.5" cy="126.6" r="1.15" fill="#fff" stroke="#2a2aff" stroke-width="0.6"/>
<circle cx="301.2" cy="111.5" r="1.15" fill="#fff" stroke="#2a2aff" stroke-width="0.6"/>
<circle cx="306.8" cy="108.5" r="1.15" fill="#fff" stroke="#2a2aff" stroke-width="0.6"/>
<circle cx="312.4" cy="111.5" r="1.15" fill="#fff" stroke="#2a2aff" stroke-width="0.6"/>
<circle cx="261.8" cy="153.5" r="1.35" fill="#2a2aff"/>
<circle cx="267.4" cy="153.5" r="1.35" fill="#2a2aff"/>
<circle cx="273.1" cy="153.0" r="1.35" fill="#2a2aff"/>
<circle cx="278.7" cy="151.2" r="1.35" fill="#2a2aff"/>
<circle cx="284.3" cy="147.9" r="1.35" fill="#2a2aff"/>
<circle cx="289.9" cy="142.5" r="1.35" fill="#2a2aff"/>
<circle cx="295.5" cy="130.7" r="1.35" fill="#2a2aff"/>
<circle cx="301.2" cy="122.6" r="1.35" fill="#2a2aff"/>
<circle cx="306.8" cy="128.1" r="1.35" fill="#2a2aff"/>
<circle cx="312.4" cy="142.7" r="1.35" fill="#2a2aff"/>
<path d="M329.4 103.5H336.6" stroke="#2a2aff" stroke-width="0.8" stroke-dasharray="1.3 0.9"/>
<circle cx="333.0" cy="103.5" r="1.15" fill="#fff" stroke="#2a2aff" stroke-width="0.6"/>
<path d="M329.4 110.0H336.6" stroke="#2a2aff" stroke-width="0.9"/>
<circle cx="333.0" cy="110.0" r="1.35" fill="#2a2aff"/>
<text x="340.1" y="105" font-size="4.2" text-anchor="start" fill="#222">2% FBS +ApoE</text>
<text x="340.1" y="111.5" font-size="4.2" text-anchor="start" fill="#222">2% FBS</text>
<rect x="329.7" y="121.2" width="17.3" height="6.0" fill="#e4e4e4"/>
<rect x="347.0" y="121.2" width="17.4" height="6.0" fill="#f2f2f2"/>
<path d="M329.2 115.3H364.9V127.2H329.2ZM329.2 121.2H364.9M347.0 115.3V127.2" fill="none" stroke="#444" stroke-width="0.8"/>
<text x="356" y="119.8" font-size="4.0" font-weight="bold" text-anchor="middle" fill="#222">Slope</text>
<text x="338.1" y="125.6" font-size="4.0" font-weight="bold" text-anchor="middle" fill="#111">+ApoE</text>
<text x="356" y="125.6" font-size="4.0" text-anchor="middle" fill="#555">3.503</text>
<path d="M256.2 191.5V242.3H336.6" fill="none" stroke="#333" stroke-width="0.7"/>
<path d="M254.0 242.3H256.2" stroke="#333" stroke-width="0.6"/>
<text x="253.5" y="243.6" font-size="3.7" font-weight="bold" text-anchor="end" fill="#222">0</text>
<path d="M254.0 232.1H256.2" stroke="#333" stroke-width="0.6"/>
<text x="253.5" y="233.4" font-size="3.7" font-weight="bold" text-anchor="end" fill="#222">20</text>
<path d="M254.0 222.0H256.2" stroke="#333" stroke-width="0.6"/>
<text x="253.5" y="223.3" font-size="3.7" font-weight="bold" text-anchor="end" fill="#222">40</text>
<path d="M254.0 211.8H256.2" stroke="#333" stroke-width="0.6"/>
<text x="253.5" y="213.1" font-size="3.7" font-weight="bold" text-anchor="end" fill="#222">60</text>
<path d="M254.0 201.7H256.2" stroke="#333" stroke-width="0.6"/>
<text x="253.5" y="203" font-size="3.7" font-weight="bold" text-anchor="end" fill="#222">80</text>
<path d="M254.0 191.5H256.2" stroke="#333" stroke-width="0.6"/>
<text x="253.5" y="192.8" font-size="3.7" font-weight="bold" text-anchor="end" fill="#222">100</text>
<path d="M256.2 242.3V244.5" stroke="#333" stroke-width="0.6"/>
<text x="256.2" y="249.3" font-size="3.7" font-weight="bold" text-anchor="middle" fill="#222">1</text>
<path d="M283.0 242.3V244.5" stroke="#333" stroke-width="0.6"/>
<text x="283" y="249.3" font-size="3.7" font-weight="bold" text-anchor="middle" fill="#222">10</text>
<path d="M309.8 242.3V244.5" stroke="#333" stroke-width="0.6"/>
<text x="309.8" y="249.3" font-size="3.7" font-weight="bold" text-anchor="middle" fill="#222">100</text>
<path d="M336.6 242.3V244.5" stroke="#333" stroke-width="0.6"/>
<text x="336.6" y="249.3" font-size="3.7" font-weight="bold" text-anchor="middle" fill="#222">1000</text>
<text x="297.2" y="256.4" font-size="5.1" font-weight="bold" text-anchor="middle" fill="#222">mRNA Mass (ng)</text>
<g transform="translate(229.7 216.7) rotate(-90)"><text x="0" y="0" font-size="5.05" font-weight="bold" text-anchor="middle" fill="#222">% of Cells Positively</text></g>
<g transform="translate(235.7 216.7) rotate(-90)"><text x="0" y="0" font-size="5.1" font-weight="bold" text-anchor="middle" fill="#222">Expressing RSV F Protein</text></g>
<text x="222.6" y="188.6" font-size="6.8" font-weight="bold" text-anchor="start" fill="#111">D.</text>
<text x="282.8" y="191.5" font-size="5.8" font-weight="bold" text-anchor="middle" fill="#1a1a1a">HEp-2</text>
<path d="M264.3 242.2L264.9 242.2L265.6 242.2L266.3 242.2L266.9 242.2L267.6 242.2L268.3 242.2L269.0 242.2L269.6 242.2L270.3 242.2L271.0 242.2L271.6 242.2L272.3 242.2L273.0 242.2L273.6 242.2L274.3 242.2L275.0 242.2L275.7 242.2L276.3 242.2L277.0 242.2L277.7 242.2L278.3 242.2L279.0 242.2L279.7 242.2L280.3 242.2L281.0 242.2L281.7 242.2L282.4 242.2L283.0 242.2L283.7 242.2L284.4 242.2L285.0 242.2L285.7 242.2L286.4 242.2L287.0 242.2L287.7 242.2L288.4 242.2L289.1 242.2L289.7 242.2L290.4 242.2L291.1 242.2L291.7 242.2L292.4 242.2L293.1 242.2L293.7 242.2L294.4 242.2L295.1 242.2L295.8 242.2L296.4 242.1L297.1 242.1L297.8 242.0L298.4 241.9L299.1 241.7L299.8 241.4L300.4 241.0L301.1 240.3L301.8 239.3L302.5 237.8L303.1 235.6L303.8 232.7L304.5 228.8L305.1 224.1L305.8 218.8L306.5 213.4L307.1 208.4L307.8 204.1L308.5 200.7L309.2 198.2L309.8 196.4L310.5 195.2L311.2 194.3L311.8 193.8L312.5 193.4L313.2 193.2L313.8 193.0L314.5 192.9L315.2 192.9L315.9 192.8L316.5 192.8L317.2 192.8L317.9 192.8" fill="none" stroke="#33dd33" stroke-width="0.8" stroke-dasharray="1.6 1.1"/>
<path d="M264.3 242.3L270.2 242.3L276.2 242.3L282.1 242.3L288.1 242.3L294.0 242.3L300.0 239.8L306.0 234.9L311.9 237.4L317.9 242.3" fill="none" stroke="#33dd33" stroke-width="0.9"/>
<circle cx="264.3" cy="242.3" r="1.15" fill="#fff" stroke="#33dd33" stroke-width="0.6"/>
<circle cx="270.2" cy="242.3" r="1.15" fill="#fff" stroke="#33dd33" stroke-width="0.6"/>
<circle cx="276.2" cy="242.3" r="1.15" fill="#fff" stroke="#33dd33" stroke-width="0.6"/>
<circle cx="282.1" cy="242.3" r="1.15" fill="#fff" stroke="#33dd33" stroke-width="0.6"/>
<circle cx="288.1" cy="242.3" r="1.15" fill="#fff" stroke="#33dd33" stroke-width="0.6"/>
<circle cx="294.0" cy="242.3" r="1.15" fill="#fff" stroke="#33dd33" stroke-width="0.6"/>
<circle cx="300.0" cy="240.8" r="1.15" fill="#fff" stroke="#33dd33" stroke-width="0.6"/>
<circle cx="306.0" cy="217.7" r="1.15" fill="#fff" stroke="#33dd33" stroke-width="0.6"/>
<circle cx="311.9" cy="193.2" r="1.15" fill="#fff" stroke="#33dd33" stroke-width="0.6"/>
<circle cx="317.9" cy="193.2" r="1.15" fill="#fff" stroke="#33dd33" stroke-width="0.6"/>
<circle cx="264.3" cy="242.3" r="1.35" fill="#33dd33"/>
<circle cx="270.2" cy="242.3" r="1.35" fill="#33dd33"/>
<circle cx="276.2" cy="242.3" r="1.35" fill="#33dd33"/>
<circle cx="282.1" cy="242.3" r="1.35" fill="#33dd33"/>
<circle cx="288.1" cy="242.3" r="1.35" fill="#33dd33"/>
<circle cx="294.0" cy="242.3" r="1.35" fill="#33dd33"/>
<circle cx="300.0" cy="239.8" r="1.35" fill="#33dd33"/>
<circle cx="306.0" cy="234.9" r="1.35" fill="#33dd33"/>
<circle cx="311.9" cy="237.4" r="1.35" fill="#33dd33"/>
<circle cx="317.9" cy="242.3" r="1.35" fill="#33dd33"/>
<path d="M336.4 192.0H343.6" stroke="#33dd33" stroke-width="0.8" stroke-dasharray="1.3 0.9"/>
<circle cx="340.0" cy="192.0" r="1.15" fill="#fff" stroke="#33dd33" stroke-width="0.6"/>
<path d="M336.4 198.0H343.6" stroke="#33dd33" stroke-width="0.9"/>
<circle cx="340.0" cy="198.0" r="1.35" fill="#33dd33"/>
<text x="346" y="193.5" font-size="4.2" text-anchor="start" fill="#222">2% FBS +ApoE</text>
<text x="346" y="199.5" font-size="4.2" text-anchor="start" fill="#222">2% FBS</text>
<rect x="335.0" y="210.9" width="17.3" height="5.9" fill="#e4e4e4"/>
<rect x="352.3" y="210.9" width="17.3" height="5.9" fill="#f2f2f2"/>
<path d="M334.5 205.1H370.1V216.8H334.5ZM334.5 210.9H370.1M352.3 205.1V216.8" fill="none" stroke="#444" stroke-width="0.8"/>
<text x="361.2" y="209.4" font-size="4.0" font-weight="bold" text-anchor="middle" fill="#222">Slope</text>
<text x="343.4" y="215.2" font-size="4.0" font-weight="bold" text-anchor="middle" fill="#111">+ApoE</text>
<text x="361.2" y="215.2" font-size="4.0" text-anchor="middle" fill="#555">8.823</text>
<path d="M418.5 14.8V65.3H500.1" fill="none" stroke="#333" stroke-width="0.7"/>
<path d="M416.3 65.3H418.5" stroke="#333" stroke-width="0.6"/>
<text x="415.8" y="66.6" font-size="3.7" font-weight="bold" text-anchor="end" fill="#222">0</text>
<path d="M416.3 55.2H418.5" stroke="#333" stroke-width="0.6"/>
<text x="415.8" y="56.5" font-size="3.7" font-weight="bold" text-anchor="end" fill="#222">20</text>
<path d="M416.3 45.1H418.5" stroke="#333" stroke-width="0.6"/>
<text x="415.8" y="46.4" font-size="3.7" font-weight="bold" text-anchor="end" fill="#222">40</text>
<path d="M416.3 35.0H418.5" stroke="#333" stroke-width="0.6"/>
<text x="415.8" y="36.3" font-size="3.7" font-weight="bold" text-anchor="end" fill="#222">60</text>
<path d="M416.3 24.9H418.5" stroke="#333" stroke-width="0.6"/>
<text x="415.8" y="26.2" font-size="3.7" font-weight="bold" text-anchor="end" fill="#222">80</text>
<path d="M416.3 14.8H418.5" stroke="#333" stroke-width="0.6"/>
<text x="415.8" y="16.1" font-size="3.7" font-weight="bold" text-anchor="end" fill="#222">100</text>
<path d="M418.5 65.3V67.5" stroke="#333" stroke-width="0.6"/>
<text x="418.5" y="72.3" font-size="3.7" font-weight="bold" text-anchor="middle" fill="#222">1</text>
<path d="M445.7 65.3V67.5" stroke="#333" stroke-width="0.6"/>
<text x="445.7" y="72.3" font-size="3.7" font-weight="bold" text-anchor="middle" fill="#222">10</text>
<path d="M472.9 65.3V67.5" stroke="#333" stroke-width="0.6"/>
<text x="472.9" y="72.3" font-size="3.7" font-weight="bold" text-anchor="middle" fill="#222">100</text>
<path d="M500.1 65.3V67.5" stroke="#333" stroke-width="0.6"/>
<text x="500.1" y="72.3" font-size="3.7" font-weight="bold" text-anchor="middle" fill="#222">1000</text>
<text x="459.5" y="79.4" font-size="5.1" font-weight="bold" text-anchor="middle" fill="#222">mRNA Mass (ng)</text>
<g transform="translate(392.2 39.8) rotate(-90)"><text x="0" y="0" font-size="5.05" font-weight="bold" text-anchor="middle" fill="#222">% of Cells Positively</text></g>
<g transform="translate(398.8 39.8) rotate(-90)"><text x="0" y="0" font-size="5.1" font-weight="bold" text-anchor="middle" fill="#222">Expressing RSV F Protein</text></g>
<text x="384.5" y="11.8" font-size="8.9" font-weight="bold" text-anchor="start" fill="#111">E.</text>
<text x="447.1" y="13.8" font-size="5.8" font-weight="bold" text-anchor="middle" fill="#1a1a1a">CaCo2</text>
<path d="M426.7 65.3L432.7 65.3L438.8 65.3L444.8 65.3L450.9 65.0L456.9 60.5L463.0 59.0L469.0 56.8L475.0 60.0L481.1 59.8" fill="none" stroke="#ff8c26" stroke-width="0.8" stroke-dasharray="1.6 1.1"/>
<path d="M426.7 65.3L432.7 65.3L438.8 65.3L444.8 65.3L450.9 64.5L456.9 63.5L463.0 63.5L469.0 63.5L475.0 63.3L481.1 63.3" fill="none" stroke="#ff8c26" stroke-width="0.9"/>
<circle cx="426.7" cy="65.3" r="1.15" fill="#fff" stroke="#ff8c26" stroke-width="0.6"/>
<circle cx="432.7" cy="65.3" r="1.15" fill="#fff" stroke="#ff8c26" stroke-width="0.6"/>
<circle cx="438.8" cy="65.3" r="1.15" fill="#fff" stroke="#ff8c26" stroke-width="0.6"/>
<circle cx="444.8" cy="65.3" r="1.15" fill="#fff" stroke="#ff8c26" stroke-width="0.6"/>
<circle cx="450.9" cy="65.0" r="1.15" fill="#fff" stroke="#ff8c26" stroke-width="0.6"/>
<circle cx="456.9" cy="60.5" r="1.15" fill="#fff" stroke="#ff8c26" stroke-width="0.6"/>
<circle cx="463.0" cy="59.0" r="1.15" fill="#fff" stroke="#ff8c26" stroke-width="0.6"/>
<circle cx="469.0" cy="56.8" r="1.15" fill="#fff" stroke="#ff8c26" stroke-width="0.6"/>
<circle cx="475.0" cy="60.0" r="1.15" fill="#fff" stroke="#ff8c26" stroke-width="0.6"/>
<circle cx="481.1" cy="59.8" r="1.15" fill="#fff" stroke="#ff8c26" stroke-width="0.6"/>
<circle cx="426.7" cy="65.3" r="1.35" fill="#ff8c26"/>
<circle cx="432.7" cy="65.3" r="1.35" fill="#ff8c26"/>
<circle cx="438.8" cy="65.3" r="1.35" fill="#ff8c26"/>
<circle cx="444.8" cy="65.3" r="1.35" fill="#ff8c26"/>
<circle cx="450.9" cy="64.5" r="1.35" fill="#ff8c26"/>
<circle cx="456.9" cy="63.5" r="1.35" fill="#ff8c26"/>
<circle cx="463.0" cy="63.5" r="1.35" fill="#ff8c26"/>
<circle cx="469.0" cy="63.5" r="1.35" fill="#ff8c26"/>
<circle cx="475.0" cy="63.3" r="1.35" fill="#ff8c26"/>
<circle cx="481.1" cy="63.3" r="1.35" fill="#ff8c26"/>
<path d="M497.9 15.2H505.1" stroke="#ff8c26" stroke-width="0.8" stroke-dasharray="1.3 0.9"/>
<circle cx="501.5" cy="15.2" r="1.15" fill="#fff" stroke="#ff8c26" stroke-width="0.6"/>
<path d="M497.9 21.3H505.1" stroke="#ff8c26" stroke-width="0.9"/>
<circle cx="501.5" cy="21.3" r="1.35" fill="#ff8c26"/>
<text x="508.6" y="16.7" font-size="4.2" text-anchor="start" fill="#222">2% FBS +ApoE</text>
<text x="508.6" y="22.8" font-size="4.2" text-anchor="start" fill="#222">2% FBS</text>
<rect x="498.5" y="32.0" width="17.4" height="6.0" fill="#e4e4e4"/>
<rect x="515.9" y="32.0" width="17.4" height="6.0" fill="#f2f2f2"/>
<path d="M498.0 26.0H533.8V38.0H498.0ZM498.0 32.0H533.8M515.9 26.0V38.0" fill="none" stroke="#444" stroke-width="0.8"/>
<text x="524.8" y="30.5" font-size="4.0" font-weight="bold" text-anchor="middle" fill="#222">Slope</text>
<text x="506.9" y="36.4" font-size="4.0" font-weight="bold" text-anchor="middle" fill="#111">+ApoE</text>
<text x="524.8" y="36.4" font-size="4.0" text-anchor="middle" fill="#555">5.026</text>
<path d="M418.3 103.8V154.4H499.9" fill="none" stroke="#333" stroke-width="0.7"/>
<path d="M416.1 154.4H418.3" stroke="#333" stroke-width="0.6"/>
<text x="415.6" y="155.7" font-size="3.7" font-weight="bold" text-anchor="end" fill="#222">0</text>
<path d="M416.1 144.3H418.3" stroke="#333" stroke-width="0.6"/>
<text x="415.6" y="145.6" font-size="3.7" font-weight="bold" text-anchor="end" fill="#222">20</text>
<path d="M416.1 134.2H418.3" stroke="#333" stroke-width="0.6"/>
<text x="415.6" y="135.5" font-size="3.7" font-weight="bold" text-anchor="end" fill="#222">40</text>
<path d="M416.1 124.0H418.3" stroke="#333" stroke-width="0.6"/>
<text x="415.6" y="125.3" font-size="3.7" font-weight="bold" text-anchor="end" fill="#222">60</text>
<path d="M416.1 113.9H418.3" stroke="#333" stroke-width="0.6"/>
<text x="415.6" y="115.2" font-size="3.7" font-weight="bold" text-anchor="end" fill="#222">80</text>
<path d="M416.1 103.8H418.3" stroke="#333" stroke-width="0.6"/>
<text x="415.6" y="105.1" font-size="3.7" font-weight="bold" text-anchor="end" fill="#222">100</text>
<path d="M418.3 154.4V156.6" stroke="#333" stroke-width="0.6"/>
<text x="418.3" y="161.4" font-size="3.7" font-weight="bold" text-anchor="middle" fill="#222">1</text>
<path d="M445.5 154.4V156.6" stroke="#333" stroke-width="0.6"/>
<text x="445.5" y="161.4" font-size="3.7" font-weight="bold" text-anchor="middle" fill="#222">10</text>
<path d="M472.7 154.4V156.6" stroke="#333" stroke-width="0.6"/>
<text x="472.7" y="161.4" font-size="3.7" font-weight="bold" text-anchor="middle" fill="#222">100</text>
<path d="M499.9 154.4V156.6" stroke="#333" stroke-width="0.6"/>
<text x="499.9" y="161.4" font-size="3.7" font-weight="bold" text-anchor="middle" fill="#222">1000</text>
<text x="459.3" y="168.5" font-size="5.1" font-weight="bold" text-anchor="middle" fill="#222">mRNA Mass (ng)</text>
<g transform="translate(392.0 128.9) rotate(-90)"><text x="0" y="0" font-size="5.05" font-weight="bold" text-anchor="middle" fill="#222">% of Cells Positively</text></g>
<g transform="translate(398.6 128.9) rotate(-90)"><text x="0" y="0" font-size="5.1" font-weight="bold" text-anchor="middle" fill="#222">Expressing RSV F Protein</text></g>
<text x="385.4" y="100.7" font-size="8.9" font-weight="bold" text-anchor="start" fill="#111">F.</text>
<text x="448.5" y="102.8" font-size="5.8" font-weight="bold" text-anchor="middle" fill="#1a1a1a">A549</text>
<path d="M426.5 154.5L427.2 154.5L427.8 154.5L428.5 154.5L429.2 154.5L429.9 154.5L430.6 154.5L431.2 154.5L431.9 154.5L432.6 154.5L433.3 154.5L434.0 154.5L434.6 154.5L435.3 154.5L436.0 154.5L436.7 154.5L437.4 154.5L438.0 154.5L438.7 154.5L439.4 154.5L440.1 154.5L440.8 154.5L441.4 154.5L442.1 154.5L442.8 154.5L443.5 154.5L444.2 154.5L444.8 154.5L445.5 154.5L446.2 154.5L446.9 154.5L447.6 154.5L448.2 154.5L448.9 154.4L449.6 154.4L450.3 154.4L451.0 154.4L451.6 154.4L452.3 154.4L453.0 154.4L453.7 154.4L454.4 154.4L455.0 154.4L455.7 154.3L456.4 154.3L457.1 154.2L457.8 154.2L458.4 154.1L459.1 154.0L459.8 153.8L460.5 153.7L461.2 153.4L461.8 153.1L462.5 152.8L463.2 152.3L463.9 151.8L464.6 151.2L465.2 150.5L465.9 149.7L466.6 148.9L467.3 148.0L468.0 147.1L468.6 146.3L469.3 145.5L470.0 144.7L470.7 144.1L471.4 143.6L472.0 143.1L472.7 142.7L473.4 142.4L474.1 142.2L474.8 142.0L475.4 141.8L476.1 141.7L476.8 141.6L477.5 141.5L478.2 141.5L478.8 141.4L479.5 141.4L480.2 141.4L480.9 141.4" fill="none" stroke="#cc44ff" stroke-width="0.8" stroke-dasharray="1.6 1.1"/>
<path d="M426.5 154.4L432.5 154.4L438.6 154.4L444.6 154.4L450.7 154.4L456.7 154.4L462.8 154.4L468.8 154.4L474.8 154.4L480.9 154.4" fill="none" stroke="#cc44ff" stroke-width="0.9"/>
<path d="M426.5 153.1L427.8 154.4L426.5 155.7L425.2 154.4Z" fill="#fff" stroke="#cc44ff" stroke-width="0.6"/>
<path d="M432.5 153.1L433.9 154.4L432.5 155.7L431.2 154.4Z" fill="#fff" stroke="#cc44ff" stroke-width="0.6"/>
<path d="M438.6 153.1L439.9 154.4L438.6 155.7L437.3 154.4Z" fill="#fff" stroke="#cc44ff" stroke-width="0.6"/>
<path d="M444.6 153.1L445.9 154.4L444.6 155.7L443.3 154.4Z" fill="#fff" stroke="#cc44ff" stroke-width="0.6"/>
<path d="M450.7 153.1L452.0 154.4L450.7 155.7L449.3 154.4Z" fill="#fff" stroke="#cc44ff" stroke-width="0.6"/>
<path d="M456.7 153.1L458.0 154.4L456.7 155.7L455.4 154.4Z" fill="#fff" stroke="#cc44ff" stroke-width="0.6"/>
<path d="M462.8 151.6L464.1 152.9L462.8 154.2L461.4 152.9Z" fill="#fff" stroke="#cc44ff" stroke-width="0.6"/>
<path d="M468.8 144.5L470.1 145.8L468.8 147.1L467.5 145.8Z" fill="#fff" stroke="#cc44ff" stroke-width="0.6"/>
<path d="M474.8 141.4L476.2 142.8L474.8 144.1L473.5 142.8Z" fill="#fff" stroke="#cc44ff" stroke-width="0.6"/>
<path d="M480.9 139.4L482.2 140.7L480.9 142.1L479.6 140.7Z" fill="#fff" stroke="#cc44ff" stroke-width="0.6"/>
<path d="M426.5 152.8L428.0 154.4L426.5 156.0L424.9 154.4Z" fill="#cc44ff"/>
<path d="M432.5 152.8L434.1 154.4L432.5 156.0L431.0 154.4Z" fill="#cc44ff"/>
<path d="M438.6 152.8L440.1 154.4L438.6 156.0L437.0 154.4Z" fill="#cc44ff"/>
<path d="M444.6 152.8L446.2 154.4L444.6 156.0L443.1 154.4Z" fill="#cc44ff"/>
<path d="M450.7 152.8L452.2 154.4L450.7 156.0L449.1 154.4Z" fill="#cc44ff"/>
<path d="M456.7 152.8L458.3 154.4L456.7 156.0L455.2 154.4Z" fill="#cc44ff"/>
<path d="M462.8 152.8L464.3 154.4L462.8 156.0L461.2 154.4Z" fill="#cc44ff"/>
<path d="M468.8 152.8L470.4 154.4L468.8 156.0L467.2 154.4Z" fill="#cc44ff"/>
<path d="M474.8 152.8L476.4 154.4L474.8 156.0L473.3 154.4Z" fill="#cc44ff"/>
<path d="M480.9 152.8L482.4 154.4L480.9 156.0L479.3 154.4Z" fill="#cc44ff"/>
<path d="M497.8 104.4H505.0" stroke="#cc44ff" stroke-width="0.8" stroke-dasharray="1.3 0.9"/>
<path d="M501.4 103.1L502.7 104.4L501.4 105.7L500.1 104.4Z" fill="#fff" stroke="#cc44ff" stroke-width="0.6"/>
<path d="M497.8 110.3H505.0" stroke="#cc44ff" stroke-width="0.9"/>
<path d="M501.4 108.7L503.0 110.3L501.4 111.9L499.8 110.3Z" fill="#cc44ff"/>
<text x="508.2" y="105.9" font-size="4.2" text-anchor="start" fill="#222">2% FBS +ApoE</text>
<text x="508.2" y="111.8" font-size="4.2" text-anchor="start" fill="#222">2% FBS</text>
<rect x="498.7" y="120.7" width="17.3" height="5.6" fill="#e4e4e4"/>
<rect x="516.0" y="120.7" width="17.2" height="5.6" fill="#f2f2f2"/>
<path d="M498.2 115.0H533.7V126.3H498.2ZM498.2 120.7H533.7M516.0 115.0V126.3" fill="none" stroke="#444" stroke-width="0.8"/>
<text x="524.8" y="119.2" font-size="4.0" font-weight="bold" text-anchor="middle" fill="#222">Slope</text>
<text x="507.1" y="124.7" font-size="4.0" font-weight="bold" text-anchor="middle" fill="#111">+ApoE</text>
<text x="524.8" y="124.7" font-size="4.0" text-anchor="middle" fill="#555">4.934</text>
<path d="M418.3 191.8V242.4H499.9" fill="none" stroke="#333" stroke-width="0.7"/>
<path d="M416.1 242.4H418.3" stroke="#333" stroke-width="0.6"/>
<text x="415.6" y="243.7" font-size="3.7" font-weight="bold" text-anchor="end" fill="#222">0</text>
<path d="M416.1 232.3H418.3" stroke="#333" stroke-width="0.6"/>
<text x="415.6" y="233.6" font-size="3.7" font-weight="bold" text-anchor="end" fill="#222">20</text>
<path d="M416.1 222.2H418.3" stroke="#333" stroke-width="0.6"/>
<text x="415.6" y="223.5" font-size="3.7" font-weight="bold" text-anchor="end" fill="#222">40</text>
<path d="M416.1 212.0H418.3" stroke="#333" stroke-width="0.6"/>
<text x="415.6" y="213.3" font-size="3.7" font-weight="bold" text-anchor="end" fill="#222">60</text>
<path d="M416.1 201.9H418.3" stroke="#333" stroke-width="0.6"/>
<text x="415.6" y="203.2" font-size="3.7" font-weight="bold" text-anchor="end" fill="#222">80</text>
<path d="M416.1 191.8H418.3" stroke="#333" stroke-width="0.6"/>
<text x="415.6" y="193.1" font-size="3.7" font-weight="bold" text-anchor="end" fill="#222">100</text>
<path d="M418.3 242.4V244.6" stroke="#333" stroke-width="0.6"/>
<text x="418.3" y="249.4" font-size="3.7" font-weight="bold" text-anchor="middle" fill="#222">1</text>
<path d="M445.5 242.4V244.6" stroke="#333" stroke-width="0.6"/>
<text x="445.5" y="249.4" font-size="3.7" font-weight="bold" text-anchor="middle" fill="#222">10</text>
<path d="M472.7 242.4V244.6" stroke="#333" stroke-width="0.6"/>
<text x="472.7" y="249.4" font-size="3.7" font-weight="bold" text-anchor="middle" fill="#222">100</text>
<path d="M499.9 242.4V244.6" stroke="#333" stroke-width="0.6"/>
<text x="499.9" y="249.4" font-size="3.7" font-weight="bold" text-anchor="middle" fill="#222">1000</text>
<text x="459.3" y="256.5" font-size="5.1" font-weight="bold" text-anchor="middle" fill="#222">mRNA Mass (ng)</text>
<g transform="translate(392.0 216.9) rotate(-90)"><text x="0" y="0" font-size="5.05" font-weight="bold" text-anchor="middle" fill="#222">% of Cells Positively</text></g>
<g transform="translate(398.6 216.9) rotate(-90)"><text x="0" y="0" font-size="5.1" font-weight="bold" text-anchor="middle" fill="#222">Expressing RSV F Protein</text></g>
<text x="384.1" y="187.9" font-size="8.9" font-weight="bold" text-anchor="start" fill="#111">G.</text>
<text x="448.2" y="190.6" font-size="5.8" font-weight="bold" text-anchor="middle" fill="#1a1a1a">HepG2</text>
<path d="M426.5 242.4L427.2 242.4L427.8 242.4L428.5 242.4L429.2 242.4L429.9 242.4L430.6 242.4L431.2 242.4L431.9 242.4L432.6 242.4L433.3 242.4L434.0 242.4L434.6 242.4L435.3 242.4L436.0 242.4L436.7 242.4L437.4 242.4L438.0 242.4L438.7 242.4L439.4 242.4L440.1 242.4L440.8 242.4L441.4 242.4L442.1 242.4L442.8 242.3L443.5 242.3L444.2 242.3L444.8 242.3L445.5 242.3L446.2 242.3L446.9 242.3L447.6 242.3L448.2 242.2L448.9 242.2L449.6 242.1L450.3 242.0L451.0 241.9L451.6 241.7L452.3 241.5L453.0 241.2L453.7 240.8L454.4 240.2L455.0 239.5L455.7 238.5L456.4 237.2L457.1 235.6L457.8 233.6L458.4 231.2L459.1 228.5L459.8 225.5L460.5 222.4L461.2 219.4L461.8 216.6L462.5 214.0L463.2 211.9L463.9 210.1L464.6 208.7L465.2 207.6L465.9 206.7L466.6 206.1L467.3 205.6L468.0 205.2L468.6 205.0L469.3 204.8L470.0 204.7L470.7 204.6L471.4 204.5L472.0 204.4L472.7 204.4L473.4 204.4L474.1 204.3L474.8 204.3L475.4 204.3L476.1 204.3L476.8 204.3L477.5 204.3L478.2 204.3L478.8 204.3L479.5 204.3L480.2 204.3L480.9 204.3" fill="none" stroke="#d98a30" stroke-width="0.8" stroke-dasharray="1.6 1.1"/>
<path d="M426.5 242.5L427.2 242.5L427.8 242.5L428.5 242.5L429.2 242.5L429.9 242.5L430.6 242.5L431.2 242.5L431.9 242.5L432.6 242.5L433.3 242.5L434.0 242.5L434.6 242.5L435.3 242.5L436.0 242.5L436.7 242.5L437.4 242.5L438.0 242.5L438.7 242.5L439.4 242.5L440.1 242.5L440.8 242.5L441.4 242.5L442.1 242.5L442.8 242.4L443.5 242.4L444.2 242.4L444.8 242.4L445.5 242.3L446.2 242.3L446.9 242.2L447.6 242.1L448.2 242.0L448.9 241.9L449.6 241.8L450.3 241.7L451.0 241.5L451.6 241.3L452.3 241.0L453.0 240.7L453.7 240.3L454.4 239.9L455.0 239.4L455.7 238.8L456.4 238.0L457.1 237.2L457.8 236.2L458.4 235.1L459.1 233.9L459.8 232.5L460.5 231.0L461.2 229.3L461.8 227.5L462.5 225.6L463.2 223.6L463.9 221.6L464.6 219.6L465.2 217.7L465.9 215.8L466.6 214.0L467.3 212.4L468.0 210.8L468.6 209.5L469.3 208.2L470.0 207.1L470.7 206.2L471.4 205.4L472.0 204.7L472.7 204.1L473.4 203.6L474.1 203.1L474.8 202.8L475.4 202.5L476.1 202.2L476.8 202.0L477.5 201.8L478.2 201.7L478.8 201.6L479.5 201.5L480.2 201.4L480.9 201.3" fill="none" stroke="#b06a20" stroke-width="0.9"/>
<circle cx="426.5" cy="242.4" r="1.15" fill="#fff" stroke="#d98a30" stroke-width="0.6"/>
<circle cx="432.5" cy="242.4" r="1.15" fill="#fff" stroke="#d98a30" stroke-width="0.6"/>
<circle cx="438.6" cy="242.4" r="1.15" fill="#fff" stroke="#d98a30" stroke-width="0.6"/>
<circle cx="444.6" cy="242.4" r="1.15" fill="#fff" stroke="#d98a30" stroke-width="0.6"/>
<circle cx="450.7" cy="241.9" r="1.15" fill="#fff" stroke="#d98a30" stroke-width="0.6"/>
<circle cx="456.7" cy="236.3" r="1.15" fill="#fff" stroke="#d98a30" stroke-width="0.6"/>
<circle cx="462.8" cy="213.6" r="1.15" fill="#fff" stroke="#d98a30" stroke-width="0.6"/>
<circle cx="468.8" cy="203.4" r="1.15" fill="#fff" stroke="#d98a30" stroke-width="0.6"/>
<circle cx="474.8" cy="204.5" r="1.15" fill="#fff" stroke="#d98a30" stroke-width="0.6"/>
<circle cx="480.9" cy="205.5" r="1.15" fill="#fff" stroke="#d98a30" stroke-width="0.6"/>
<circle cx="426.5" cy="242.4" r="1.35" fill="#b06a20"/>
<circle cx="432.5" cy="242.4" r="1.35" fill="#b06a20"/>
<circle cx="438.6" cy="242.4" r="1.35" fill="#b06a20"/>
<circle cx="444.6" cy="242.4" r="1.35" fill="#b06a20"/>
<circle cx="450.7" cy="241.9" r="1.35" fill="#b06a20"/>
<circle cx="456.7" cy="237.8" r="1.35" fill="#b06a20"/>
<circle cx="462.8" cy="224.7" r="1.35" fill="#b06a20"/>
<circle cx="468.8" cy="209.5" r="1.35" fill="#b06a20"/>
<circle cx="474.8" cy="202.4" r="1.35" fill="#b06a20"/>
<circle cx="480.9" cy="201.4" r="1.35" fill="#b06a20"/>
<path d="M497.8 192.4H505.0" stroke="#d98a30" stroke-width="0.8" stroke-dasharray="1.3 0.9"/>
<circle cx="501.4" cy="192.4" r="1.15" fill="#fff" stroke="#d98a30" stroke-width="0.6"/>
<path d="M497.8 198.3H505.0" stroke="#b06a20" stroke-width="0.9"/>
<circle cx="501.4" cy="198.3" r="1.35" fill="#b06a20"/>
<text x="508.2" y="193.9" font-size="4.2" text-anchor="start" fill="#222">2% FBS +ApoE</text>
<text x="508.2" y="199.8" font-size="4.2" text-anchor="start" fill="#222">2% FBS</text>
<rect x="496.8" y="210.9" width="18.2" height="5.9" fill="#e4e4e4"/>
<rect x="515.0" y="210.9" width="18.1" height="5.9" fill="#f2f2f2"/>
<path d="M496.3 205.0H533.6V216.8H496.3ZM496.3 210.9H533.6M515.0 205.0V216.8" fill="none" stroke="#444" stroke-width="0.8"/>
<text x="524.3" y="209.4" font-size="4.0" font-weight="bold" text-anchor="middle" fill="#222">Slope</text>
<text x="505.6" y="215.2" font-size="4.0" font-weight="bold" text-anchor="middle" fill="#111">+ApoE</text>
<text x="524.3" y="215.2" font-size="4.0" text-anchor="middle" fill="#555">4.889</text>
<text x="2.7" y="285.7" font-size="17" text-anchor="start" fill="#ff0d0d" textLength="38.4" lengthAdjust="spacingAndGlyphs">ApoE</text>
<rect x="132.8" y="280.1" width="5.1" height="1.8" fill="#ff1010"/>
<path d="M383.5 280.5H390.9M387.3 276V284.7" stroke="#ff1010" stroke-width="1.4"/>
<text x="11.3" y="299.3" font-size="7.3" font-weight="bold" text-anchor="start" fill="#111" stroke="#111" stroke-width="0.25">H.</text>
<text x="274" y="297.1" font-size="7.6" font-weight="bold" text-anchor="start" fill="#111" stroke="#111" stroke-width="0.35">I.</text>
<text x="36.3" y="302.2" font-size="8.3" text-anchor="start" fill="#000">HepG2</text>
<text x="133.8" y="302.4" font-size="8.3" text-anchor="start" fill="#000">Vero</text>
<text x="210" y="302.4" font-size="8.3" text-anchor="start" fill="#000">A549</text>
<text x="308.8" y="299" font-size="8.3" text-anchor="start" fill="#000">HepG2</text>
<text x="400.2" y="299.1" font-size="8.3" text-anchor="start" fill="#000">Vero</text>
<text x="482.9" y="299" font-size="8.3" text-anchor="start" fill="#000">A549</text>
<text x="4.2" y="350.3" font-size="6.2" text-anchor="start" fill="#333">72</text>
<text x="3.5" y="411.5" font-size="6.2" text-anchor="start" fill="#333">200</text>
<text x="265.7" y="346.3" font-size="6.2" text-anchor="start" fill="#333">72</text>
<text x="265.1" y="428.7" font-size="6.2" text-anchor="start" fill="#333">200</text>
<svg x="21.7" y="304.0" width="77.2" height="79.8" viewBox="0 0 77.2 79.8" overflow="hidden"><rect width="77.2" height="79.8" fill="#01040c"/><rect width="77.2" height="79.8" filter="url(#tf0)"/><g filter="url(#bl)" style="mix-blend-mode:screen"><path d="M58.4 56.9h0M25.5 35.3h0M76.2 5.5h0M23.1 40.5h0M50.7 17.5h0M3.7 76.9h0M34.6 54.0h0M78.1 12.1h0M6.5 15.1h0M27.1 0.1h0M14.4 28.5h0M45.5 17.4h0M69.1 76.4h0M34.9 39.4h0M22.4 80.6h0M8.9 53.5h0M29.2 14.2h0M47.3 41.2h0M29.3 23.4h0M37.2 16.9h0M29.4 24.5h0M39.2 11.5h0M69.6 37.5h0M3.7 67.6h0M27.7 73.6h0M7.0 17.6h0M48.0 13.4h0M55.8 16.2h0M43.5 18.3h0M61.9 44.3h0M31.5 65.5h0M52.2 0.6h0M81.5 60.7h0" stroke="#34e444" stroke-width="2.1" stroke-linecap="round" stroke-opacity="0.45"/><path d="M3.6 57.4h0M33.9 43.5h0M65.4 79.3h0M55.4 78.9h0M72.2 49.6h0M8.2 1.4h0M30.2 49.9h0M86.1 38.2h0M16.0 14.6h0M63.0 32.0h0M46.1 71.2h0M71.4 68.4h0M73.7 64.4h0M26.9 16.2h0M12.0 39.1h0M44.7 39.4h0M64.4 5.5h0M61.5 68.0h0M48.7 6.3h0M26.4 79.2h0M70.3 42.6h0M74.5 1.2h0M2.8 58.8h0M16.9 56.6h0M1.2 39.3h0M24.5 22.8h0M32.2 55.8h0M41.9 14.8h0M53.6 35.6h0M55.0 34.1h0M67.0 32.0h0M55.9 6.8h0M40.9 51.9h0" stroke="#34e444" stroke-width="2.1" stroke-linecap="round" stroke-opacity="0.7"/><path d="M66.2 61.0h0M25.6 11.0h0M53.4 1.3h0M31.2 40.7h0M50.8 44.1h0M62.1 75.5h0M41.9 33.6h0M18.6 11.2h0M75.6 19.2h0M63.6 22.2h0M46.2 -1.0h0M58.3 28.1h0M14.6 42.5h0M34.1 70.0h0M40.8 11.9h0M42.3 18.6h0M3.9 13.4h0M60.1 41.9h0M76.0 66.9h0M17.2 19.0h0M31.3 34.3h0M62.4 7.5h0M19.9 59.4h0M58.3 5.7h0M59.9 59.0h0M10.5 47.0h0M75.6 -0.5h0M26.4 20.8h0M42.7 37.0h0M1.3 57.4h0M67.1 48.7h0M44.9 60.5h0M37.2 68.0h0" stroke="#34e444" stroke-width="2.1" stroke-linecap="round" stroke-opacity="0.95"/></g><path d="M55.2 77.3h19" stroke="#999" stroke-width="0.5"/><rect x="1.5" y="1.5" width="4" height="3" fill="none" stroke="#666" stroke-width="0.4"/></svg>
<svg x="103.3" y="304.0" width="77.1" height="79.8" viewBox="0 0 77.1 79.8" overflow="hidden"><rect width="77.1" height="79.8" fill="#05180c"/><rect width="77.1" height="79.8" filter="url(#tf1)"/><g filter="url(#bl2)" style="mix-blend-mode:screen"><path d="M62.0 3.8h0M61.2 32.3h0M50.3 31.8h0M47.1 3.1h0M50.9 59.3h0M0.5 70.8h0M31.2 9.6h0M19.1 47.5h0M43.0 31.1h0M12.1 1.9h0M47.1 -0.5h0M16.2 2.1h0M13.4 76.4h0M26.9 69.6h0M6.1 41.4h0M3.3 9.5h0M36.6 52.2h0M16.7 8.5h0M43.1 72.2h0M47.3 42.2h0M25.1 31.0h0M70.9 9.3h0M59.8 63.1h0M68.8 70.0h0M8.1 6.8h0M14.9 37.2h0M44.6 9.0h0M69.4 63.0h0M51.3 64.2h0M18.1 57.7h0M34.0 10.5h0M21.2 49.5h0M49.1 74.8h0M35.9 73.1h0M53.5 16.4h0M75.1 51.8h0M37.2 12.7h0M29.9 68.1h0M8.4 70.1h0M23.0 48.3h0M43.4 71.7h0M55.2 35.5h0M46.0 16.9h0M69.5 59.3h0M8.8 2.9h0M15.1 33.6h0M58.1 8.8h0M34.2 4.2h0M69.6 37.5h0M2.7 7.6h0M45.9 1.7h0M12.4 25.8h0M69.8 54.2h0M22.1 45.1h0M19.9 15.5h0M36.5 65.1h0M24.3 62.2h0M38.0 0.6h0M5.7 66.7h0M47.9 47.0h0M31.6 0.1h0M69.2 35.4h0M21.1 55.1h0M20.6 7.7h0M41.6 47.2h0M26.9 22.0h0M73.3 43.1h0M54.4 5.1h0M57.1 55.2h0M51.5 35.3h0M31.5 2.7h0M32.8 79.5h0M38.0 17.7h0M34.3 26.8h0M2.0 60.3h0M53.7 17.0h0M70.6 28.2h0M7.2 23.1h0M76.3 5.5h0M0.6 48.2h0M11.1 36.7h0M45.5 42.2h0M18.4 75.0h0M6.7 11.6h0M53.4 16.1h0M47.1 45.0h0M65.2 67.4h0M57.0 55.9h0M0.6 39.6h0M65.2 0.1h0M36.2 51.8h0M31.9 40.5h0M62.6 31.7h0M55.0 56.8h0M75.8 38.4h0M66.0 53.0h0M55.1 6.1h0M65.8 44.3h0M24.0 35.8h0M66.5 67.2h0" stroke="#1e8a30" stroke-width="4.5" stroke-linecap="round" stroke-opacity="0.35"/><path d="M0.4 11.4h0M34.1 50.8h0M41.2 79.2h0M47.8 14.1h0M64.9 60.8h0M26.1 63.8h0M55.5 71.3h0M63.5 22.2h0M17.1 23.5h0M4.3 16.7h0M38.6 22.0h0M75.6 23.9h0M64.4 30.0h0M76.3 68.5h0M57.4 51.4h0M76.8 10.6h0M51.5 42.3h0M0.8 64.9h0M58.3 47.9h0M72.6 14.5h0M64.8 33.3h0M57.4 51.0h0M13.5 10.0h0M24.5 77.1h0M52.0 32.9h0M68.8 20.2h0M16.6 44.4h0M-0.9 13.9h0M7.9 65.6h0M34.3 35.8h0M52.4 25.2h0M58.6 15.2h0M2.6 41.1h0M16.2 23.6h0M38.2 12.9h0M64.8 34.6h0M55.9 8.6h0M33.6 66.8h0M77.2 61.3h0M16.5 25.8h0M38.3 57.1h0M3.6 13.2h0M68.7 62.9h0M72.4 61.9h0M46.0 31.8h0M60.3 58.5h0M45.4 16.3h0M24.8 37.7h0M8.9 13.7h0M65.2 25.8h0M41.2 31.6h0M3.7 37.5h0M55.1 57.1h0M73.2 17.5h0M44.9 5.5h0M53.2 64.7h0M65.5 32.9h0M54.7 67.7h0M53.4 8.7h0M19.6 55.1h0M71.2 29.2h0M36.4 3.0h0M16.4 22.0h0M10.8 41.4h0M74.4 12.3h0M75.2 15.9h0M74.2 78.7h0M51.2 73.3h0M44.0 44.4h0M3.6 56.9h0M22.4 53.2h0M8.0 66.7h0M52.3 55.9h0M9.8 69.0h0M14.2 9.3h0M46.3 42.4h0M10.3 17.9h0M76.3 12.5h0M65.3 78.5h0M59.3 79.9h0M8.7 24.2h0M66.1 16.3h0M68.7 14.5h0M13.8 75.8h0M34.3 71.7h0M75.6 64.9h0M57.3 77.2h0M60.2 54.0h0M44.8 17.5h0M61.8 50.7h0M0.4 5.3h0M20.2 63.9h0M55.2 74.7h0M35.9 29.4h0M67.6 51.9h0M58.3 29.4h0M10.5 52.0h0M-0.5 53.3h0M71.7 2.8h0M65.1 63.2h0" stroke="#1e8a30" stroke-width="4.5" stroke-linecap="round" stroke-opacity="0.5"/></g><g filter="url(#bl)" style="mix-blend-mode:screen"><path d="M76.3 55.1h0M56.4 52.8h0M28.0 66.2h0M32.5 19.7h0M45.2 8.1h0M70.4 58.9h0M34.2 24.3h0M65.7 7.4h0M5.6 39.6h0M3.5 0.0h0M43.2 4.8h0M9.6 48.7h0M50.3 77.1h0" stroke="#30d040" stroke-width="2.8" stroke-linecap="round" stroke-opacity="0.6"/><path d="M54.7 27.5h0M74.9 32.6h0M62.5 3.0h0M23.7 52.3h0M65.1 53.7h0M71.1 46.3h0M16.3 46.6h0M34.2 0.0h0M-0.0 65.3h0M41.1 61.6h0M11.9 21.9h0M47.3 30.8h0M72.1 12.9h0" stroke="#30d040" stroke-width="2.8" stroke-linecap="round" stroke-opacity="0.9"/></g><g filter="url(#bl)" style="mix-blend-mode:lighten"><path d="M74.1 19.9h0M45.5 70.2h0M24.5 37.7h0M3.3 10.0h0M27.1 62.7h0M37.2 55.8h0M50.9 47.2h0M42.8 55.1h0M64.4 30.8h0M-0.1 77.1h0M29.7 24.0h0M5.6 51.2h0M41.7 74.7h0M12.3 24.2h0M13.1 12.2h0M38.4 50.9h0M35.1 80.4h0M55.6 66.4h0M4.3 25.1h0M46.8 11.7h0M37.8 25.3h0M36.6 7.2h0M22.5 42.6h0M41.7 54.7h0M6.7 11.3h0M-0.7 18.2h0M20.1 28.3h0M21.7 16.2h0M35.7 12.7h0M46.6 5.2h0M28.1 19.3h0M25.7 4.4h0M64.7 4.6h0M10.7 8.8h0M30.4 10.1h0M64.3 -0.1h0M47.1 31.3h0M6.7 35.9h0M63.3 37.6h0M40.5 53.8h0M10.7 62.9h0M2.1 66.1h0M17.1 12.0h0M29.1 42.3h0M45.4 33.2h0M4.0 7.0h0M1.0 1.1h0M36.4 50.2h0M4.6 51.7h0M73.1 14.9h0M44.9 13.9h0M29.2 36.4h0M49.0 34.0h0M60.7 50.4h0M26.7 1.8h0M-0.9 48.9h0M36.9 0.4h0M67.8 9.0h0M59.6 77.8h0M42.2 66.0h0M64.4 20.4h0M35.2 60.4h0M5.2 -0.5h0M9.4 25.1h0M41.7 68.4h0M46.8 26.6h0M53.6 33.8h0M54.4 3.0h0M20.5 55.4h0M43.4 15.2h0M60.5 79.2h0M63.4 80.5h0M48.3 22.3h0M5.3 13.3h0M43.7 -0.6h0M65.4 76.6h0M21.8 80.8h0M61.2 35.3h0M4.3 18.8h0M0.1 74.8h0M24.6 48.6h0M47.0 22.1h0M18.9 64.4h0M74.7 26.6h0M64.9 35.4h0M67.3 57.7h0M13.2 55.3h0M20.9 79.6h0M18.8 74.4h0M69.8 61.6h0M40.8 27.7h0M39.7 33.1h0M33.9 71.7h0M62.6 58.7h0M68.1 1.9h0M36.2 8.6h0M14.5 13.4h0M8.8 5.9h0M47.3 11.3h0M60.0 44.0h0M-0.7 12.6h0M25.2 52.7h0M20.4 41.2h0M68.3 21.6h0M67.4 34.7h0M59.6 41.1h0M48.8 26.0h0M61.7 0.6h0M5.0 13.1h0M56.3 43.7h0M49.1 36.7h0M3.9 3.2h0M27.4 53.7h0M8.6 42.1h0M48.8 33.1h0M40.4 60.6h0M56.6 23.6h0M60.0 62.3h0M29.4 54.3h0M15.5 24.2h0M59.4 24.5h0M32.1 3.3h0M7.3 27.8h0M20.6 24.2h0M48.7 32.9h0M66.0 11.8h0M68.5 40.9h0M28.8 6.7h0M42.5 15.4h0M65.5 60.2h0M17.3 73.0h0M61.4 -0.3h0M60.4 43.5h0M60.6 11.2h0M71.8 22.9h0M42.4 38.6h0M75.1 9.7h0M41.2 50.7h0M21.3 54.7h0M17.2 73.3h0M56.0 29.6h0M26.2 76.8h0M4.7 28.2h0M50.3 15.8h0M56.9 70.2h0M25.0 78.7h0M55.3 59.4h0M19.8 34.7h0M73.0 29.0h0M75.6 29.2h0M33.6 2.0h0M14.9 59.2h0M44.6 9.6h0M0.5 46.6h0M11.4 12.0h0M71.7 26.2h0M29.1 45.0h0M53.5 10.4h0M13.2 20.8h0M74.5 68.7h0M56.4 31.3h0M63.2 53.3h0M25.9 40.7h0M18.3 53.8h0M7.7 8.7h0M55.0 77.3h0M22.6 12.6h0M47.2 44.3h0M0.1 70.3h0M16.9 70.2h0M30.6 18.9h0M27.2 23.2h0M22.2 51.8h0M37.2 59.3h0M74.2 -0.4h0M64.7 66.3h0M59.3 2.3h0M28.7 51.6h0M67.9 64.1h0M12.2 50.7h0M65.1 57.0h0M24.8 45.6h0M25.7 56.3h0M77.3 7.8h0M8.6 53.9h0M30.9 40.6h0M65.9 52.0h0M16.3 20.6h0M43.4 41.5h0M74.3 32.4h0M31.0 23.5h0M22.6 43.0h0M5.6 65.3h0M21.3 28.9h0M12.6 51.9h0M1.7 1.3h0M53.2 37.8h0M35.9 19.8h0M43.1 76.4h0M42.6 71.0h0M29.4 43.0h0M24.5 61.2h0M54.7 4.0h0M23.8 38.6h0M53.8 1.2h0M49.4 26.9h0" stroke="#1a3cc8" stroke-width="2.3" stroke-linecap="round" stroke-opacity="0.5"/><path d="M66.2 64.7h0M13.1 21.5h0M45.4 -0.6h0M17.9 26.0h0M63.9 77.3h0M30.6 49.2h0M46.0 64.7h0M77.1 64.1h0M49.0 56.2h0M64.1 5.6h0M61.5 27.9h0M70.8 33.3h0M4.4 2.2h0M69.6 18.2h0M30.8 10.6h0M32.5 13.3h0M10.7 52.1h0M56.1 6.4h0M73.1 52.0h0M19.6 30.3h0M62.5 11.8h0M66.4 30.4h0M38.2 56.4h0M3.5 2.8h0M22.1 27.0h0M50.3 42.4h0M47.8 27.3h0M56.5 10.3h0M56.3 23.1h0M53.0 15.9h0M54.7 8.0h0M38.7 63.7h0M20.2 15.0h0M9.4 9.9h0M26.3 26.9h0M72.6 46.2h0M33.5 6.9h0M65.2 80.6h0M68.8 1.7h0M70.2 20.4h0M16.0 50.2h0M65.5 62.3h0M69.8 22.9h0M12.0 7.6h0M58.1 76.9h0M18.2 39.6h0M29.8 47.8h0M12.7 38.0h0M65.5 35.1h0M23.1 31.6h0M75.0 1.8h0M28.6 6.3h0M21.0 40.3h0M19.8 1.2h0M28.1 28.1h0M19.0 61.8h0M22.7 14.7h0M62.0 39.6h0M37.7 66.1h0M39.8 58.3h0M50.6 29.1h0M68.7 44.6h0M38.7 69.6h0M44.5 26.3h0M0.2 60.4h0M7.0 59.8h0M60.7 53.7h0M70.0 26.7h0M7.7 33.9h0M23.9 48.9h0M30.5 42.9h0M17.8 32.3h0M57.9 34.1h0M67.2 39.6h0M49.9 39.9h0M51.5 78.7h0M76.6 53.7h0M59.0 23.4h0M58.5 66.0h0M8.2 74.5h0M11.4 72.2h0M72.4 9.2h0M58.2 52.8h0M35.8 -0.2h0M39.4 28.4h0M31.0 14.2h0M61.7 39.9h0M49.7 59.0h0M35.5 39.3h0M18.8 67.4h0M6.1 40.4h0M59.3 33.4h0M35.2 72.1h0M30.7 10.0h0M62.0 51.0h0M16.0 12.1h0M20.1 22.0h0M66.8 74.5h0M50.8 26.4h0M48.4 39.6h0M54.3 58.1h0M56.7 44.3h0M69.7 56.6h0M12.4 25.1h0M41.5 49.4h0M28.7 47.3h0M15.6 49.0h0M31.0 63.5h0M47.9 2.5h0M63.7 43.1h0M58.0 4.1h0M56.4 61.6h0M66.1 56.8h0M60.7 51.0h0M23.6 40.7h0M68.9 49.8h0M54.0 28.9h0M31.5 49.3h0M42.8 63.7h0M31.3 1.6h0M1.2 63.2h0M74.3 77.0h0M54.3 48.8h0M0.5 16.3h0M50.9 31.0h0M58.2 80.6h0M3.8 41.7h0M42.1 56.2h0M41.8 4.2h0M35.5 68.3h0M2.9 64.3h0M50.3 27.9h0M61.2 3.8h0M18.9 73.6h0M52.0 19.3h0M44.9 62.0h0M1.7 65.9h0M56.2 61.2h0M13.6 74.4h0M68.0 22.6h0M16.7 70.3h0M75.3 70.2h0M35.7 34.8h0M48.2 38.7h0M61.4 73.1h0M29.9 70.9h0M19.3 74.2h0M56.2 16.6h0M5.6 67.3h0M77.5 60.5h0M67.4 43.1h0M38.6 10.4h0M50.3 27.4h0M69.3 15.7h0M63.9 29.5h0M55.4 42.4h0M57.6 80.3h0M64.9 27.5h0M70.6 1.7h0M31.0 38.8h0M41.8 58.1h0M21.1 76.6h0M52.2 19.2h0M38.8 25.5h0M51.8 47.7h0M2.4 35.6h0M69.0 64.4h0M46.2 62.3h0M68.0 6.6h0M75.4 55.9h0M17.7 10.3h0M6.3 31.7h0M5.8 66.2h0M56.4 44.2h0M-0.1 49.7h0M15.5 -0.7h0M61.9 20.3h0M32.4 -0.5h0M59.3 3.2h0M69.7 44.2h0M31.8 78.8h0M17.8 12.0h0M59.7 45.7h0M69.0 28.0h0M22.9 21.0h0M2.0 32.7h0M22.1 15.3h0M62.3 51.4h0M44.1 51.1h0M4.1 50.1h0M62.1 30.0h0M52.5 78.3h0M61.2 2.6h0M3.7 27.8h0M32.4 26.3h0M14.2 25.3h0M11.7 28.2h0M32.9 28.2h0M29.9 79.0h0M22.2 50.2h0M43.3 -0.7h0M17.2 10.2h0M37.8 32.3h0M64.7 37.1h0M18.2 17.5h0M26.6 16.7h0" stroke="#1a3cc8" stroke-width="2.3" stroke-linecap="round" stroke-opacity="0.75"/><path d="M58.7 6.9h0M5.7 56.2h0M41.2 60.2h0M27.2 17.7h0M40.6 43.4h0M60.3 18.2h0M28.1 77.5h0M31.1 18.5h0M18.3 54.4h0M78.1 44.4h0M15.0 60.2h0M10.8 25.7h0M36.3 19.8h0M60.4 32.3h0M70.0 31.7h0M43.8 64.3h0M3.3 -0.7h0M20.7 52.0h0M8.6 23.8h0M21.5 44.8h0M31.1 6.7h0M27.0 20.2h0M39.6 25.0h0M18.4 62.6h0M70.7 43.2h0M55.2 28.3h0M20.3 78.6h0M13.3 5.5h0M43.9 38.4h0M50.7 59.4h0M14.7 77.9h0M68.5 48.7h0M60.6 79.7h0M20.7 78.9h0M73.4 28.5h0M71.4 54.9h0M74.5 66.0h0M30.6 74.5h0M24.1 58.7h0M63.3 -0.2h0M3.4 61.6h0M0.2 79.9h0M64.7 22.7h0M14.5 54.0h0M41.3 65.6h0M51.9 76.8h0M17.4 31.2h0M56.1 3.0h0M64.9 25.6h0M11.4 37.4h0M43.2 72.1h0M42.0 45.7h0M67.7 10.6h0M12.4 76.6h0M2.2 40.2h0M43.0 13.4h0M45.9 28.1h0M24.1 18.7h0M9.6 15.3h0M50.5 77.9h0M28.3 2.1h0M2.5 8.6h0M24.8 36.7h0M43.9 77.1h0M28.2 37.1h0M74.3 3.7h0M29.3 44.9h0M65.3 8.1h0M11.7 43.8h0M5.3 42.6h0M65.2 56.8h0M71.0 21.4h0M73.2 41.9h0M7.0 51.7h0M58.4 60.4h0M60.4 9.7h0M31.0 74.3h0M63.2 23.3h0M77.8 64.8h0M1.2 66.1h0M15.8 70.9h0M54.6 62.6h0M20.2 6.2h0M55.9 67.9h0M19.5 47.7h0M49.0 1.1h0M28.8 0.2h0M62.7 65.6h0M74.9 6.8h0M4.7 7.2h0M42.7 54.9h0M76.6 44.4h0M23.0 61.0h0M63.7 56.1h0M67.1 71.6h0M22.4 63.4h0M48.8 67.4h0M7.3 56.3h0M31.0 27.1h0M33.8 45.5h0M44.5 23.5h0M70.5 6.6h0M10.2 61.2h0M-0.4 46.5h0M68.7 15.1h0M49.7 25.5h0M11.5 25.6h0M50.6 76.0h0M70.0 32.6h0M45.9 3.4h0M1.1 65.2h0M67.9 56.2h0M71.1 69.6h0M35.2 73.1h0M26.0 -0.1h0M61.2 38.1h0M46.5 41.0h0M27.4 17.4h0M43.3 41.9h0M13.5 59.2h0M71.5 1.3h0M69.9 76.4h0M54.2 5.0h0M13.4 38.9h0M11.5 4.0h0M27.2 13.0h0M55.3 75.5h0M21.5 39.5h0M47.7 31.4h0M52.9 60.9h0M25.3 32.5h0M48.4 36.3h0M63.3 64.4h0M35.9 9.6h0M61.0 49.1h0M48.9 6.5h0M21.8 69.4h0M44.8 70.1h0M29.4 30.8h0M13.6 74.0h0M34.7 18.8h0M23.3 36.6h0M13.6 49.0h0M33.1 29.0h0M49.0 54.9h0M10.0 64.9h0M7.9 9.1h0M76.3 28.0h0M65.7 -0.6h0M72.8 61.1h0M0.3 80.8h0M70.0 45.6h0M72.6 49.8h0M54.7 30.5h0M4.6 47.1h0M42.4 2.3h0M64.4 20.3h0M3.8 0.0h0M29.5 42.9h0M36.0 41.3h0M0.7 11.1h0M70.1 62.2h0M15.9 69.6h0M4.2 77.0h0M56.8 67.8h0M47.3 15.4h0M27.0 60.1h0M68.5 23.7h0M41.4 15.2h0M9.9 23.3h0M70.0 50.0h0M48.9 36.0h0M28.1 42.8h0M46.7 25.5h0M-1.0 33.4h0M15.0 50.5h0M14.2 0.3h0M46.2 6.6h0M7.1 1.1h0M61.8 2.1h0M44.7 66.8h0M66.0 79.5h0M76.1 59.4h0M9.7 53.2h0M8.8 67.5h0M24.7 34.7h0M72.9 48.4h0M25.5 22.0h0M25.2 57.7h0M58.5 1.6h0M75.3 74.1h0M77.4 15.3h0M42.2 13.2h0M49.0 77.4h0M57.5 46.4h0M10.7 72.4h0M9.7 51.7h0M61.8 30.4h0M67.0 72.8h0M43.4 47.1h0M4.3 5.4h0M60.3 21.8h0M4.4 70.7h0M14.2 20.8h0M2.8 28.1h0M4.7 8.1h0" stroke="#1a3cc8" stroke-width="2.3" stroke-linecap="round" stroke-opacity="0.95"/></g><path d="M55.1 77.3h19" stroke="#999" stroke-width="0.5"/><rect x="1.5" y="1.5" width="4" height="3" fill="none" stroke="#666" stroke-width="0.4"/></svg>
<svg x="184.2" y="304.0" width="76.8" height="79.8" viewBox="0 0 76.8 79.8" overflow="hidden"><rect width="76.8" height="79.8" fill="#01040c"/><g filter="url(#bl)" style="mix-blend-mode:screen"><path d="M40.1 33.5h0M16.4 9.7h0M37.1 50.2h0M47.9 56.9h0M33.3 2.9h0M16.8 63.5h0M32.2 45.2h0M52.3 60.9h0M11.8 37.1h0M50.4 75.5h0M21.1 72.7h0M65.9 41.9h0M44.6 75.5h0M33.7 22.7h0M61.8 7.3h0M55.6 51.8h0M29.8 75.8h0M47.0 11.7h0M31.8 77.1h0M5.7 65.3h0M42.3 64.2h0M71.6 5.9h0M32.7 38.5h0M37.8 67.6h0M3.9 13.7h0M58.2 66.1h0M73.7 6.5h0M64.2 -0.2h0M61.4 17.9h0M71.3 50.8h0M36.2 11.8h0M69.2 31.2h0M73.4 1.2h0M32.9 2.3h0M20.7 77.2h0M25.5 2.8h0M28.6 57.1h0M55.7 66.0h0M8.2 40.9h0M32.3 33.6h0M46.1 7.2h0M67.3 66.6h0M45.4 23.7h0M1.5 46.1h0M74.2 77.9h0M65.3 78.0h0M54.5 23.8h0M58.6 59.3h0M51.7 64.6h0M65.4 74.5h0M30.6 73.0h0M5.6 57.8h0M49.3 24.6h0M41.2 30.0h0M59.7 49.6h0M51.2 66.3h0M16.8 5.4h0M69.1 67.0h0M17.4 12.8h0M62.9 13.6h0M30.3 20.4h0M12.4 48.2h0M59.6 34.6h0M51.6 23.1h0M15.8 41.9h0M7.0 76.8h0M17.8 67.5h0M30.2 45.3h0M20.0 18.9h0M33.2 37.0h0M-0.8 54.6h0M23.7 54.1h0M60.3 75.5h0M36.6 26.7h0M9.1 46.4h0M32.7 37.0h0M31.0 13.0h0M33.5 9.3h0M75.9 0.5h0M24.2 24.3h0M12.3 45.5h0M16.5 -0.8h0M10.6 35.9h0M26.5 2.1h0M14.8 4.2h0M66.0 28.9h0M66.1 60.5h0M20.8 56.3h0M39.0 51.5h0M73.1 24.0h0M50.1 21.5h0M22.8 30.5h0M74.2 78.6h0M51.3 75.1h0M16.5 40.7h0M75.2 18.4h0M46.2 30.5h0M15.5 7.8h0M3.8 47.7h0M5.3 76.2h0M19.1 61.5h0M40.0 77.0h0M13.4 72.7h0M60.4 71.5h0M47.1 19.6h0M32.5 1.4h0M4.0 56.6h0M1.4 35.7h0M3.3 57.0h0M56.9 15.5h0M8.6 -0.8h0M36.2 2.4h0M10.4 25.7h0M69.6 55.6h0M66.0 68.1h0M8.6 40.1h0M66.4 2.3h0M61.2 57.2h0M50.5 58.0h0M37.5 67.5h0M46.2 75.2h0M33.1 43.1h0M44.6 22.5h0M51.8 24.0h0M39.4 30.4h0M69.5 50.1h0M64.4 56.8h0M76.6 79.1h0M5.1 12.3h0M65.6 43.5h0M40.9 52.2h0M25.1 62.1h0M10.9 38.4h0M74.3 5.9h0M5.0 52.7h0M68.8 28.7h0M44.6 54.0h0M56.6 64.5h0M73.5 20.6h0M2.6 71.3h0M48.0 41.3h0M26.6 16.1h0M0.0 28.8h0M21.9 7.2h0M73.1 36.6h0M72.8 32.4h0M48.6 50.1h0M26.3 59.3h0M25.9 79.9h0M1.5 39.6h0M21.1 44.9h0M18.6 52.8h0M20.4 48.4h0M76.4 43.0h0M29.8 1.8h0M40.5 15.1h0M42.1 1.8h0M51.0 4.4h0M68.7 37.5h0M47.9 72.3h0M50.5 71.9h0M31.5 57.8h0M35.5 9.4h0M45.5 52.3h0M19.1 69.5h0M54.5 12.5h0M52.8 32.7h0M4.9 49.2h0M39.3 53.8h0M38.5 2.8h0M37.4 10.3h0M56.5 0.5h0M30.2 67.6h0M45.4 65.4h0M62.7 48.3h0M42.4 72.7h0M35.3 25.0h0M19.7 53.9h0M75.0 22.8h0M11.2 80.3h0M46.1 40.4h0M38.5 38.6h0M45.9 10.8h0M34.4 55.6h0M54.0 1.3h0M17.4 26.7h0M70.1 8.8h0M50.1 61.9h0M19.5 65.2h0M71.7 8.4h0M2.8 41.2h0M24.7 40.7h0M38.1 37.4h0M52.3 63.0h0M21.3 30.1h0M45.3 30.2h0M76.5 46.1h0M34.5 10.9h0M14.4 14.0h0M64.0 44.5h0M47.4 49.4h0M43.1 37.0h0M68.3 12.8h0M73.5 12.4h0M7.4 10.5h0M1.6 9.9h0M31.4 49.2h0M60.1 29.8h0M47.0 22.4h0M45.1 23.7h0M42.1 37.4h0M17.5 56.2h0M1.1 69.0h0M16.2 76.7h0M37.9 68.7h0M-0.9 61.4h0M68.2 18.5h0M65.9 13.1h0M73.3 24.8h0M30.2 8.0h0M50.6 47.1h0M65.2 57.3h0M52.7 14.7h0M74.3 21.7h0M58.5 43.4h0M77.4 53.8h0M55.7 54.3h0M21.2 13.1h0M36.8 60.0h0M49.0 47.9h0M64.0 25.0h0M11.7 55.3h0M41.0 47.8h0M21.0 13.3h0M52.0 69.4h0M20.0 42.6h0M45.1 16.1h0M54.9 79.1h0M73.3 4.2h0M9.6 37.0h0" stroke="#1a40d0" stroke-width="2.4" stroke-linecap="round" stroke-opacity="0.45"/><path d="M77.2 27.4h0M52.6 24.8h0M76.4 60.2h0M32.1 19.5h0M74.9 49.7h0M43.6 3.1h0M4.8 49.0h0M74.4 2.3h0M66.5 69.0h0M50.0 21.0h0M29.9 59.1h0M29.6 25.0h0M38.0 25.3h0M56.1 12.3h0M59.8 34.2h0M39.4 53.4h0M77.6 48.6h0M72.5 53.8h0M63.6 14.2h0M41.5 37.7h0M68.2 3.9h0M0.8 56.8h0M67.5 52.3h0M59.3 72.5h0M28.6 79.3h0M53.7 59.2h0M71.7 32.9h0M33.9 58.3h0M69.6 37.1h0M13.0 43.9h0M69.7 35.0h0M72.3 8.7h0M38.8 49.9h0M4.3 54.3h0M27.2 39.4h0M48.4 0.8h0M21.8 21.7h0M38.3 45.9h0M30.0 52.9h0M39.5 54.3h0M13.4 41.3h0M18.7 10.8h0M10.8 47.7h0M31.8 29.3h0M60.0 47.8h0M5.6 21.1h0M75.5 72.7h0M41.1 17.7h0M5.6 45.4h0M64.3 47.6h0M13.6 5.1h0M27.6 43.0h0M38.3 20.7h0M47.6 54.1h0M42.1 51.5h0M14.4 13.1h0M59.1 14.0h0M66.3 79.5h0M46.4 72.3h0M37.8 70.9h0M66.4 22.7h0M37.2 63.6h0M63.4 64.1h0M60.7 74.7h0M14.4 21.9h0M3.8 72.2h0M61.1 62.8h0M9.6 73.1h0M16.1 -0.3h0M9.5 52.9h0M19.3 37.2h0M26.1 58.1h0M30.1 2.2h0M5.8 50.8h0M18.4 77.4h0M56.5 71.8h0M28.9 46.4h0M70.6 67.9h0M45.3 40.9h0M23.1 8.2h0M26.1 28.6h0M51.1 29.6h0M69.7 73.9h0M54.9 18.3h0M28.5 15.5h0M27.7 16.8h0M66.3 25.4h0M17.4 69.9h0M47.3 71.6h0M23.5 15.2h0M1.0 36.3h0M69.8 17.6h0M7.9 28.5h0M30.8 48.2h0M44.4 26.5h0M16.8 20.5h0M30.3 6.1h0M41.4 24.3h0M55.2 9.5h0M16.4 79.5h0M-0.8 26.5h0M67.7 22.3h0M55.6 32.1h0M65.1 30.3h0M7.1 38.1h0M35.6 8.5h0M42.3 64.3h0M4.5 33.2h0M61.2 1.8h0M42.6 43.1h0M52.5 23.8h0M60.9 72.4h0M76.2 46.9h0M62.2 21.6h0M13.5 78.1h0M8.8 10.3h0M11.0 17.9h0M3.7 17.0h0M14.9 46.9h0M66.5 26.5h0M28.6 23.5h0M6.4 77.2h0M47.2 72.9h0M59.8 74.0h0M36.2 13.7h0M47.4 65.2h0M34.2 32.5h0M53.3 52.6h0M23.1 6.3h0M46.9 56.2h0M28.7 76.2h0M14.1 36.5h0M6.9 67.0h0M3.8 73.6h0M75.7 36.1h0M54.2 69.8h0M-0.8 19.4h0M34.4 15.0h0M34.0 69.3h0M34.2 41.5h0M56.8 49.3h0M59.3 46.1h0M73.1 75.8h0M73.6 13.9h0M30.7 25.8h0M73.3 55.8h0M31.4 30.8h0M45.4 24.4h0M69.4 26.4h0M58.6 39.7h0M39.6 56.9h0M24.5 5.1h0M41.0 21.9h0M19.6 5.9h0M39.9 29.7h0M37.2 30.2h0M44.8 17.8h0M37.9 23.8h0M54.2 68.0h0M16.7 31.0h0M46.1 3.2h0M62.9 59.0h0M46.6 55.8h0M77.0 44.1h0M8.2 21.7h0M74.3 64.8h0M54.5 76.6h0M69.1 25.1h0M60.5 68.4h0M45.0 3.0h0M14.4 27.6h0M26.5 34.7h0M39.3 47.5h0M48.8 13.8h0M51.8 66.8h0M77.8 69.1h0M19.5 38.2h0M58.1 47.1h0M12.5 19.8h0M70.5 0.7h0M64.6 60.8h0M10.0 60.5h0M62.1 51.6h0M0.7 44.5h0M5.3 32.9h0M22.2 69.3h0M27.1 0.7h0M46.6 12.1h0M31.0 51.3h0M56.7 56.9h0M37.1 9.0h0M75.6 66.9h0M39.6 52.4h0M21.5 13.9h0M21.2 6.4h0M37.6 1.7h0M42.6 28.2h0M57.2 39.9h0M57.8 17.9h0M51.8 71.4h0M27.3 62.7h0M25.2 20.0h0M25.3 63.6h0M39.0 25.8h0M64.4 5.0h0M55.7 58.6h0M51.6 56.4h0M60.9 48.4h0M58.8 46.8h0M6.8 68.1h0M74.1 69.0h0M19.9 13.0h0M40.1 41.3h0M35.1 15.8h0M44.8 30.0h0M30.4 25.1h0M53.4 50.7h0M36.5 20.5h0M41.2 68.1h0M62.1 33.2h0M45.3 18.4h0M38.2 24.7h0M69.0 25.5h0M39.3 43.3h0M77.4 1.0h0M75.2 72.2h0M3.4 59.5h0M50.1 33.6h0M63.6 70.0h0M21.0 74.3h0M19.6 7.2h0M18.8 45.2h0M21.6 14.1h0M59.0 73.6h0M60.0 15.3h0M53.3 75.1h0M1.0 44.6h0M51.9 28.7h0M41.3 63.0h0M38.9 20.2h0" stroke="#1a40d0" stroke-width="2.4" stroke-linecap="round" stroke-opacity="0.65"/><path d="M76.0 56.2h0M57.2 51.1h0M72.4 10.2h0M-0.7 19.9h0M11.4 20.0h0M50.2 65.8h0M31.9 23.7h0M32.7 28.2h0M26.1 57.2h0M49.4 50.1h0M39.6 17.3h0M38.2 23.2h0M22.1 32.9h0M32.4 75.7h0M71.6 78.2h0M36.7 71.2h0M42.2 63.4h0M35.2 0.9h0M61.9 71.8h0M59.2 31.7h0M1.4 38.6h0M1.2 45.5h0M56.1 35.4h0M10.6 72.5h0M55.8 72.4h0M50.1 37.5h0M58.8 13.2h0M39.2 73.0h0M21.0 1.8h0M12.6 5.3h0M38.4 53.9h0M3.1 24.5h0M66.6 42.1h0M56.8 59.6h0M62.3 10.5h0M3.4 27.3h0M12.2 43.1h0M16.6 35.8h0M52.6 5.2h0M29.6 54.9h0M25.5 43.3h0M27.2 65.3h0M15.5 76.9h0M-0.8 67.0h0M57.0 5.2h0M41.4 33.8h0M65.3 30.4h0M9.8 15.6h0M34.3 15.8h0M35.5 63.2h0M27.5 12.7h0M59.4 46.1h0M19.4 62.6h0M29.0 76.2h0M2.3 72.8h0M64.9 48.6h0M62.5 19.0h0M16.1 16.1h0M63.1 29.0h0M0.2 59.7h0M34.8 12.2h0M57.2 79.7h0M66.0 0.5h0M77.2 17.4h0M1.4 20.1h0M14.6 80.2h0M27.5 14.8h0M43.5 13.9h0M39.2 23.1h0M23.3 45.9h0M33.9 5.8h0M9.5 70.9h0M28.4 30.9h0M12.9 73.2h0M9.0 54.7h0M19.9 16.3h0M52.4 58.8h0M72.6 31.1h0M3.9 13.1h0M64.7 65.8h0M22.8 35.8h0M65.2 46.1h0M27.1 61.6h0M70.6 30.9h0M53.6 55.4h0M57.7 30.6h0M-0.7 7.3h0M28.3 61.8h0M59.3 58.4h0M24.0 60.4h0M47.6 66.2h0M10.1 65.8h0M31.7 5.5h0M13.8 59.0h0M77.1 33.5h0M23.7 79.8h0M33.6 -0.8h0M43.5 52.2h0M20.8 66.9h0M51.5 60.5h0M55.9 23.9h0M3.6 39.3h0M71.7 76.9h0M62.9 17.5h0M27.6 19.0h0M8.4 45.3h0M38.4 22.7h0M61.2 42.2h0M29.0 0.3h0M64.4 0.2h0M40.5 17.6h0M68.0 49.9h0M2.4 64.5h0M48.7 28.3h0M71.1 7.6h0M54.5 54.7h0M8.5 9.0h0M40.6 20.1h0M33.2 46.4h0M67.9 80.1h0M56.4 66.9h0M62.1 66.2h0M0.6 14.5h0M35.5 74.7h0M70.9 64.9h0M6.2 32.6h0M40.2 9.8h0M60.1 2.8h0M70.9 68.2h0M18.0 41.8h0M49.0 45.7h0M69.6 52.9h0M49.4 21.7h0M31.1 27.3h0M44.4 1.5h0M41.4 75.3h0M33.5 43.6h0M12.7 62.9h0M42.9 6.9h0M70.1 52.1h0M53.9 69.4h0M38.5 27.4h0M17.8 43.9h0M11.5 58.0h0M70.7 17.6h0M36.7 77.1h0M37.8 15.4h0M62.0 68.1h0M60.9 63.1h0M6.7 77.4h0M14.3 49.7h0M61.8 44.0h0M52.1 61.6h0M20.3 60.8h0M58.3 61.7h0M39.2 7.6h0M54.4 10.3h0M63.6 64.3h0M10.1 23.0h0M54.9 22.5h0M15.5 24.9h0M58.1 77.7h0M36.7 55.2h0M48.2 19.3h0M58.1 18.6h0M39.1 53.6h0M19.0 25.1h0M15.5 2.0h0M65.0 53.6h0M15.4 50.6h0M43.6 36.0h0M39.9 27.0h0M44.9 73.1h0M33.0 79.0h0M26.2 61.7h0M10.4 5.9h0M11.3 63.7h0M10.1 7.5h0M50.6 13.6h0M16.5 41.8h0M40.8 10.8h0M39.9 74.7h0M16.1 47.2h0M0.5 17.9h0M1.9 46.9h0M3.4 14.5h0M72.9 20.2h0M42.1 28.9h0M67.3 73.3h0M64.7 64.4h0M40.0 61.3h0M46.6 19.9h0M75.9 80.1h0M30.6 0.3h0M6.3 31.8h0M62.8 35.0h0M31.7 57.0h0M36.7 22.6h0M50.6 64.8h0M8.6 77.1h0M55.4 50.9h0M66.9 46.5h0M52.3 4.1h0M69.2 -0.1h0M74.2 1.6h0M34.4 0.8h0M77.3 37.6h0M6.4 14.2h0M60.4 23.6h0M66.8 44.2h0M43.0 2.9h0M0.6 4.7h0M71.8 18.2h0M70.9 61.1h0M10.5 44.6h0M0.5 53.7h0M13.8 80.7h0M59.8 48.5h0M10.8 42.9h0M51.0 4.3h0M22.7 74.1h0M35.3 72.7h0M66.5 53.3h0M49.2 56.6h0M57.1 60.8h0M11.6 52.7h0M70.6 45.6h0M75.6 45.5h0M27.8 49.3h0M64.1 64.2h0M36.0 23.4h0M28.7 37.5h0M6.3 24.1h0M70.1 25.3h0M63.2 79.7h0M64.2 32.0h0M68.8 66.6h0M64.1 68.0h0M16.5 23.1h0M73.5 53.9h0" stroke="#1a40d0" stroke-width="2.4" stroke-linecap="round" stroke-opacity="0.9"/></g><path d="M54.8 77.3h19" stroke="#999" stroke-width="0.5"/><rect x="1.5" y="1.5" width="4" height="3" fill="none" stroke="#666" stroke-width="0.4"/></svg>
<svg x="21.7" y="387.5" width="77.2" height="79.8" viewBox="0 0 77.2 79.8" overflow="hidden"><rect width="77.2" height="79.8" fill="#01040c"/><rect width="77.2" height="79.8" filter="url(#tf3)"/><g filter="url(#bl)" style="mix-blend-mode:screen"><path d="M34.6 27.1h0M34.2 32.9h0M22.5 38.2h0M4.5 24.4h0M0.4 12.5h0M1.7 19.2h0M-4.9 35.1h0M17.0 72.5h0M16.5 25.1h0M59.6 35.6h0M58.4 11.1h0M64.4 70.3h0M73.1 13.9h0M49.7 15.9h0M35.0 6.3h0M37.8 45.6h0M55.8 23.5h0M30.8 44.8h0M2.2 53.5h0M5.0 81.4h0M12.7 42.0h0M35.8 58.4h0M59.8 47.5h0M24.1 64.6h0M32.3 2.2h0M34.2 2.7h0M61.1 74.0h0M14.3 34.7h0M40.6 42.7h0M34.2 45.2h0M25.1 58.1h0M59.4 40.5h0M5.3 1.8h0M19.6 29.1h0M2.0 35.9h0M53.0 14.1h0M19.7 21.7h0M69.5 62.5h0M22.4 63.1h0M9.4 45.0h0M27.4 66.9h0M53.6 14.5h0M28.9 62.5h0M29.7 9.4h0M13.6 9.8h0M18.3 23.9h0M32.8 65.9h0M57.2 7.0h0M74.1 73.3h0M29.6 36.7h0M32.8 74.0h0M58.3 66.9h0M28.6 33.3h0M74.4 70.0h0M43.6 76.6h0M47.7 41.6h0M58.0 24.1h0M70.3 20.8h0M2.8 49.1h0M26.2 27.8h0M38.9 27.7h0M35.1 30.0h0M24.6 35.3h0M6.7 22.9h0M6.3 17.5h0M0.6 17.1h0M-2.2 33.2h0M18.5 71.2h0M21.0 36.5h0M59.1 39.0h0M55.0 4.1h0M57.0 71.8h0M71.1 13.2h0M53.7 8.6h0M32.0 8.7h0M29.4 40.8h0M54.5 25.5h0M33.8 47.5h0M-3.3 58.5h0M-1.4 86.5h0M19.8 39.1h0M36.3 54.7h0M64.1 42.8h0M24.2 69.1h0M39.8 3.4h0M33.8 1.1h0M61.7 72.9h0M12.9 30.4h0M39.7 38.8h0M27.2 50.7h0M32.9 54.6h0M66.0 40.9h0M5.3 7.5h0M16.5 29.5h0M-0.6 36.6h0M45.1 18.4h0M18.2 17.0h0M71.3 60.0h0M27.2 64.1h0M12.1 40.3h0" stroke="#32e040" stroke-width="2.7" stroke-linecap="round" stroke-opacity="0.45"/><path d="M10.5 46.4h0M19.6 71.3h0M47.7 58.8h0M47.2 45.6h0M71.0 16.6h0M48.4 15.9h0M4.8 48.1h0M56.9 40.1h0M37.8 42.9h0M20.1 75.7h0M67.7 58.8h0M25.1 61.3h0M59.6 3.9h0M73.6 71.9h0M24.9 20.0h0M59.8 50.9h0M9.0 33.7h0M62.0 17.6h0M13.5 21.9h0M73.0 22.1h0M15.6 13.5h0M54.1 11.3h0M-1.5 8.9h0M76.5 49.7h0M47.1 18.0h0M2.1 14.2h0M52.0 58.2h0M57.2 64.5h0M26.2 12.8h0M74.9 40.3h0M61.7 18.9h0M49.9 48.7h0M50.4 80.6h0M61.1 40.8h0M55.0 28.4h0M42.2 56.6h0M69.7 12.2h0M39.9 38.3h0M25.9 51.3h0M22.1 57.6h0M67.5 47.8h0M73.3 53.8h0M9.5 13.0h0M51.5 7.6h0M41.3 42.1h0M17.1 -4.0h0M52.9 73.8h0M52.2 48.5h0M78.4 70.9h0M12.6 28.9h0M47.5 7.0h0M18.6 47.4h0M5.4 34.4h0M69.6 33.3h0M44.6 26.3h0M7.5 31.0h0M26.4 -0.8h0M29.5 58.3h0M69.4 47.4h0M41.6 34.4h0M2.9 44.3h0M19.3 71.8h0M43.9 56.6h0M44.1 42.2h0M65.7 14.8h0M44.9 19.3h0M4.3 49.2h0M51.1 40.2h0M38.7 42.9h0M23.1 75.0h0M60.1 62.6h0M29.8 61.4h0M58.2 -2.6h0M75.4 67.1h0M24.8 25.4h0M65.5 47.3h0M8.5 37.0h0M56.7 19.1h0M12.6 25.0h0M68.4 20.5h0M10.2 12.1h0M46.8 17.8h0M-4.5 10.6h0M76.3 44.6h0M43.3 14.6h0M8.0 11.6h0M47.2 63.8h0M53.2 63.7h0M29.5 9.2h0M74.9 36.6h0M61.2 20.1h0M53.3 50.7h0M47.5 75.1h0M56.9 40.5h0M58.8 28.3h0M41.2 59.4h0M72.5 14.3h0M40.7 43.2h0M26.2 49.4h0M21.6 60.8h0" stroke="#32e040" stroke-width="2.7" stroke-linecap="round" stroke-opacity="0.7"/><path d="M64.5 57.5h0M65.2 82.1h0M16.2 28.3h0M42.8 46.0h0M28.4 20.6h0M68.5 75.1h0M63.4 65.4h0M12.7 17.3h0M36.3 21.4h0M46.5 41.2h0M24.8 57.8h0M53.7 62.2h0M32.9 3.8h0M49.4 53.6h0M13.0 -1.2h0M33.6 45.0h0M17.4 5.7h0M74.7 53.6h0M50.4 48.3h0M76.4 21.6h0M56.8 10.9h0M4.4 32.7h0M73.9 57.3h0M39.8 63.1h0M0.3 36.9h0M3.8 14.7h0M31.8 7.4h0M6.6 75.4h0M45.2 41.1h0M-0.0 72.6h0M16.1 28.6h0M49.7 5.7h0M27.3 68.4h0M7.9 0.3h0M40.4 59.5h0M56.3 15.1h0M-5.4 66.9h0M10.7 31.3h0M1.4 59.6h0M24.7 34.7h0M64.6 0.7h0M44.5 31.4h0M71.5 44.5h0M8.2 43.8h0M47.5 57.9h0M-0.2 22.2h0M76.2 76.2h0M9.6 75.6h0M29.2 8.3h0M19.7 11.5h0M5.6 5.9h0M19.1 43.0h0M69.8 80.9h0M67.4 17.1h0M19.9 41.3h0M7.1 35.1h0M70.1 41.3h0M-0.3 76.6h0M36.2 56.5h0M13.8 0.0h0M67.7 61.1h0M60.7 80.0h0M8.0 21.6h0M42.1 50.7h0M33.3 19.8h0M70.1 78.3h0M69.5 63.3h0M10.6 19.4h0M34.5 24.1h0M49.2 42.6h0M24.9 62.9h0M56.8 67.0h0M32.2 9.5h0M52.9 54.8h0M10.7 1.2h0M34.2 44.6h0M14.8 7.6h0M71.2 59.3h0M52.8 40.7h0M73.3 24.3h0M53.4 11.6h0M1.9 33.8h0M76.9 56.6h0M38.4 64.4h0M5.7 39.1h0M3.6 15.0h0M30.4 7.6h0M14.8 72.8h0M45.9 42.3h0M-0.1 75.3h0M17.9 25.4h0M50.8 4.4h0M27.2 68.5h0M8.4 1.5h0M43.3 60.1h0M52.6 17.9h0M3.8 71.9h0M8.4 29.8h0M5.6 62.9h0M17.4 32.4h0" stroke="#32e040" stroke-width="2.7" stroke-linecap="round"/></g><path d="M55.2 77.3h19" stroke="#999" stroke-width="0.5"/><rect x="1.5" y="1.5" width="4" height="3" fill="none" stroke="#666" stroke-width="0.4"/></svg>
<svg x="103.3" y="387.5" width="77.1" height="79.8" viewBox="0 0 77.1 79.8" overflow="hidden"><rect width="77.1" height="79.8" fill="#01040c"/><g filter="url(#bl)" style="mix-blend-mode:screen"><path d="M32.3 78.8h0M47.5 55.7h0M39.3 14.4h0M64.7 68.1h0M15.6 52.2h0M54.4 57.5h0M63.0 68.1h0M28.2 40.4h0M56.0 10.7h0M1.1 11.5h0M65.2 25.6h0M23.0 8.6h0M8.6 78.2h0M3.0 79.5h0M42.7 19.2h0M0.3 71.1h0M29.8 76.6h0M3.6 64.2h0M51.3 65.2h0M37.8 57.8h0M33.8 18.2h0M9.4 37.6h0M57.3 0.7h0M11.2 74.1h0M41.1 44.4h0M47.0 11.1h0M33.8 30.9h0M56.0 39.1h0M50.9 74.2h0M37.5 64.2h0M43.6 77.6h0M36.7 19.4h0M74.1 59.7h0M10.3 28.3h0M38.0 3.4h0M16.3 8.0h0M7.7 5.8h0M66.6 67.5h0M38.3 26.7h0M69.0 62.2h0M33.6 28.7h0M78.0 -0.1h0M53.1 46.3h0M21.1 42.0h0M14.5 55.7h0M52.3 55.2h0M46.8 2.1h0M-0.4 60.3h0M77.8 54.2h0M75.2 71.2h0M33.3 46.8h0M74.1 1.6h0M15.9 65.5h0M75.9 7.7h0M42.8 76.8h0M56.4 69.4h0M18.1 30.7h0M58.0 19.3h0M25.7 73.3h0M70.5 42.8h0M48.5 71.5h0M-0.1 14.5h0M23.9 67.3h0M69.4 41.7h0M63.4 0.4h0M41.4 35.9h0M51.9 7.4h0M16.7 21.0h0M47.8 18.5h0M31.4 45.6h0M47.6 79.1h0M22.9 1.6h0M72.0 50.0h0M66.3 35.1h0M47.2 18.7h0M59.8 51.8h0M35.7 47.9h0M40.0 7.7h0M28.6 27.2h0M68.8 40.4h0M6.8 24.4h0M6.6 9.7h0M48.8 35.8h0M43.5 10.2h0M37.4 80.4h0M69.8 55.2h0M73.8 13.9h0M19.6 59.2h0M73.4 3.7h0M57.0 58.9h0M38.3 14.5h0M53.0 75.1h0M75.6 24.2h0M44.9 44.0h0M65.2 23.3h0M22.0 1.3h0M16.1 62.6h0M66.8 80.1h0M3.1 23.1h0M45.5 6.3h0M44.4 57.0h0M43.7 40.7h0M30.4 43.8h0M73.1 28.8h0M36.1 66.3h0M35.6 1.8h0M0.2 11.9h0M66.2 70.8h0M31.2 30.7h0M77.7 25.2h0M13.0 15.6h0M14.6 22.0h0M37.4 45.8h0M59.5 9.7h0M63.7 15.2h0M43.3 80.3h0M31.6 61.5h0M45.4 15.4h0M43.9 5.6h0M63.9 72.9h0M69.2 80.5h0M35.4 0.9h0M42.6 42.9h0M75.6 65.6h0M41.0 34.2h0M34.2 1.3h0M43.1 27.9h0M61.5 4.5h0M30.5 5.2h0M77.9 32.4h0M13.8 47.0h0M18.2 6.1h0M58.4 77.8h0M-0.2 17.4h0M14.6 18.8h0M31.0 1.1h0M67.4 5.4h0M66.0 10.0h0M70.0 34.6h0M59.3 57.1h0M39.3 37.6h0M67.9 66.9h0M9.6 76.3h0M24.4 36.8h0M46.5 65.9h0M15.7 38.1h0M67.6 32.7h0M33.3 38.2h0M71.5 76.7h0M59.4 55.4h0M33.8 34.3h0M64.1 36.7h0M69.7 60.3h0M62.5 34.7h0M26.6 51.3h0M53.6 35.9h0M30.1 76.7h0M69.3 -0.2h0M12.7 1.7h0M70.5 14.8h0M36.6 55.1h0M33.1 13.6h0M18.6 30.9h0M11.1 28.3h0M39.5 16.5h0M66.3 53.6h0M54.6 7.4h0M48.5 49.4h0M3.1 49.1h0M18.5 41.2h0M40.6 26.4h0M11.8 68.4h0M24.1 50.6h0M20.2 74.7h0M50.1 11.8h0M33.8 67.3h0M69.2 41.0h0M43.3 60.9h0M33.5 12.3h0M57.1 28.1h0M6.6 72.3h0M7.7 77.1h0M28.2 34.2h0M65.6 72.1h0M46.5 4.5h0M11.6 42.2h0M20.9 76.0h0M16.7 38.3h0M20.6 17.0h0M68.2 53.3h0M40.1 75.9h0M24.9 57.5h0M37.9 67.9h0M48.2 71.4h0M57.4 51.8h0M56.7 59.5h0M57.9 55.1h0M50.9 73.5h0M13.6 1.1h0M43.3 62.6h0M8.2 32.4h0M9.2 43.4h0M75.3 54.9h0M59.5 57.2h0M62.5 -0.8h0M69.2 3.5h0M69.9 63.7h0M28.1 7.7h0M65.8 20.8h0M58.5 36.8h0M39.1 11.8h0M10.7 17.0h0M56.0 12.9h0" stroke="#1a3ab8" stroke-width="2.6" stroke-linecap="round" stroke-opacity="0.28"/><path d="M50.4 26.7h0M2.8 79.6h0M5.1 68.8h0M12.9 25.5h0M31.2 53.7h0M73.4 14.2h0M37.5 38.7h0M23.0 37.8h0M15.0 45.8h0M72.9 39.4h0M2.9 73.5h0M55.0 7.8h0M22.6 11.3h0M77.3 13.2h0M40.2 48.1h0M25.6 80.6h0M9.5 78.7h0M40.2 11.5h0M50.4 73.6h0M38.2 33.4h0M54.5 77.1h0M24.5 55.4h0M73.1 80.0h0M73.0 53.0h0M59.7 59.1h0M27.4 48.4h0M27.2 11.2h0M49.3 6.5h0M48.1 65.3h0M74.9 49.2h0M60.3 41.4h0M75.0 74.3h0M22.2 46.3h0M22.6 71.0h0M33.0 36.4h0M31.5 18.5h0M39.5 51.2h0M77.5 67.8h0M24.9 16.4h0M63.2 72.8h0M28.2 69.5h0M15.6 43.5h0M74.1 58.3h0M70.3 30.0h0M73.2 6.6h0M30.0 23.1h0M55.2 53.6h0M1.1 15.0h0M6.9 6.0h0M18.4 0.2h0M27.8 43.6h0M17.6 78.9h0M27.6 30.0h0M14.6 3.7h0M14.3 55.2h0M76.5 48.8h0M72.5 57.4h0M46.2 17.8h0M48.7 56.3h0M18.5 39.2h0M22.5 15.0h0M43.2 54.2h0M62.6 42.4h0M72.2 30.0h0M56.2 51.1h0M25.7 29.6h0M36.4 55.7h0M47.0 53.6h0M59.4 23.5h0M22.0 55.4h0M57.5 51.1h0M-0.6 64.1h0M36.2 6.6h0M24.3 32.9h0M50.1 11.9h0M76.0 11.3h0M8.6 10.0h0M31.2 20.7h0M56.6 47.7h0M59.9 15.5h0M48.9 15.1h0M73.6 60.4h0M66.3 30.3h0M50.6 46.4h0M10.8 41.0h0M72.7 4.7h0M77.7 9.8h0M51.6 76.6h0M34.6 46.4h0M73.1 69.0h0M62.8 0.2h0M70.9 29.0h0M7.7 77.3h0M41.5 36.8h0M60.9 15.6h0M35.2 66.9h0M16.7 10.0h0M1.2 3.9h0M6.5 68.0h0M29.5 40.8h0M22.4 73.8h0M15.9 58.1h0M13.8 42.1h0M74.7 67.6h0M35.8 20.2h0M39.6 66.1h0M63.2 69.3h0M-0.0 10.1h0M52.8 56.5h0M50.7 15.3h0M8.1 27.7h0M23.5 68.5h0M64.1 31.9h0M66.3 61.7h0M40.5 23.5h0M70.3 44.3h0M58.3 2.6h0M42.1 40.5h0M31.3 74.8h0M32.0 70.2h0M55.2 16.1h0M17.7 10.9h0M18.3 63.0h0M15.7 64.0h0M9.5 75.4h0M23.2 22.1h0M39.3 19.9h0M22.6 48.3h0M24.6 47.4h0M-0.1 36.7h0M14.4 44.1h0M67.4 41.6h0M2.3 22.3h0M22.1 12.2h0M47.9 30.4h0M64.9 71.6h0M5.9 11.4h0M46.6 55.2h0M19.9 73.9h0M76.8 54.7h0M39.8 68.7h0M41.9 59.9h0M45.0 50.3h0M60.3 59.9h0M71.2 35.2h0M5.1 45.7h0M68.8 29.3h0M12.4 65.4h0M21.1 42.2h0M41.0 69.6h0M5.1 7.9h0M71.9 1.7h0M20.8 54.5h0M24.0 56.6h0M51.8 34.5h0M21.6 22.4h0M23.7 4.4h0M74.0 64.5h0M-0.9 64.5h0M73.8 69.9h0M37.3 61.8h0M48.8 59.3h0M32.7 46.6h0M25.7 18.3h0M74.0 77.1h0M12.1 57.8h0M10.0 46.0h0M70.2 25.0h0M6.9 65.4h0M35.6 29.1h0M55.6 22.2h0M73.3 -0.7h0M75.8 76.7h0M8.3 76.1h0M33.8 20.2h0M25.8 53.5h0M60.7 70.6h0M24.3 47.2h0M4.7 10.0h0M60.9 3.2h0M55.3 50.4h0M13.7 58.4h0M7.6 62.3h0M22.0 59.8h0M5.3 6.8h0M50.5 9.0h0M17.3 3.4h0M27.8 30.2h0M70.8 9.3h0M27.5 12.0h0M56.2 31.5h0M77.0 60.0h0M26.0 48.8h0M70.7 51.0h0M-0.4 6.4h0M46.3 46.0h0M18.8 27.1h0M5.6 24.9h0M14.4 1.5h0M55.2 56.5h0M10.8 12.3h0M34.4 57.2h0M7.6 29.9h0M32.7 80.7h0M50.6 25.6h0M11.4 47.7h0M33.7 18.5h0M47.7 4.1h0M77.3 73.3h0M14.0 12.0h0M28.2 80.5h0M20.8 28.0h0M35.5 25.2h0" stroke="#1a3ab8" stroke-width="2.6" stroke-linecap="round" stroke-opacity="0.45"/><path d="M44.1 43.1h0M44.6 46.6h0M0.6 39.7h0M10.1 30.4h0M30.2 71.0h0M5.0 45.9h0M77.9 22.3h0M60.8 60.1h0M49.5 60.2h0M49.3 32.0h0M20.4 1.5h0M39.4 67.3h0M36.4 64.2h0M34.6 73.7h0M27.1 35.0h0M4.3 56.0h0M70.1 80.1h0M56.5 19.8h0M17.3 20.2h0M62.1 65.3h0M37.1 69.8h0M9.9 49.4h0M27.4 54.1h0M26.2 58.0h0M51.5 62.8h0M22.5 49.2h0M29.2 68.0h0M28.8 54.1h0M47.0 80.8h0M30.6 15.4h0M8.7 78.1h0M11.2 55.2h0M23.1 15.9h0M49.4 33.9h0M29.1 62.0h0M0.1 76.7h0M66.1 35.7h0M21.8 59.9h0M22.6 0.7h0M11.7 29.9h0M7.6 63.0h0M72.7 63.6h0M13.0 5.1h0M11.3 48.6h0M16.4 49.1h0M55.6 26.6h0M3.5 55.2h0M32.0 58.5h0M10.4 70.9h0M20.0 15.0h0M57.3 74.2h0M11.2 10.5h0M31.1 76.5h0M3.8 9.6h0M50.8 72.4h0M51.6 50.9h0M54.5 25.2h0M55.2 67.9h0M42.3 53.5h0M5.0 79.1h0M58.1 50.9h0M68.2 67.5h0M69.2 48.9h0M8.2 35.4h0M24.5 45.4h0M72.4 2.1h0M46.3 54.0h0M76.0 33.7h0M24.7 71.9h0M52.1 75.2h0M8.9 13.7h0M66.6 23.9h0M-0.1 54.2h0M2.4 64.2h0M0.1 39.4h0M7.6 20.6h0M63.3 49.9h0M30.9 36.1h0M15.8 17.9h0M69.9 17.2h0M10.3 2.3h0M77.8 51.3h0M61.9 58.2h0M5.2 54.1h0M1.5 18.3h0M1.0 44.2h0M49.7 73.1h0M40.2 13.0h0M40.7 5.6h0M9.9 61.5h0M37.8 23.1h0M62.8 68.7h0M13.0 58.0h0M36.1 62.8h0M29.7 38.7h0M9.6 60.5h0M27.3 5.8h0M17.1 1.7h0M53.4 71.5h0M40.5 40.6h0M6.3 75.3h0M66.3 74.7h0M20.6 1.1h0M19.7 60.4h0M64.3 31.0h0M35.9 52.3h0M9.2 74.2h0M25.3 69.1h0M0.5 59.0h0M72.0 11.9h0M59.0 78.9h0M28.9 76.3h0M53.9 11.2h0M27.3 69.6h0M26.1 74.7h0M12.8 48.1h0M37.2 72.8h0M77.6 40.5h0M41.5 43.8h0M53.0 37.0h0M42.1 71.3h0M31.7 80.8h0M69.1 27.2h0M58.9 19.5h0M3.6 28.7h0M28.6 38.3h0M43.8 3.6h0M47.5 30.2h0M72.2 34.0h0M58.3 41.2h0M57.2 3.7h0M54.1 11.4h0M48.9 25.0h0M35.4 19.9h0M10.9 46.4h0M58.2 58.4h0M46.6 46.1h0M14.3 64.4h0M11.8 10.4h0M70.2 74.3h0M17.5 16.8h0M11.2 12.1h0M37.7 15.6h0M20.1 18.3h0M58.7 46.0h0M24.5 68.6h0M3.3 71.6h0M37.1 47.6h0M28.8 27.4h0M63.3 56.9h0M32.6 73.4h0M67.3 54.7h0M21.9 32.8h0M24.0 -0.1h0M7.1 2.4h0M62.9 58.9h0M51.7 62.9h0M17.9 49.9h0M56.2 63.6h0M75.2 4.2h0M19.7 60.7h0M48.4 34.5h0M25.3 66.1h0M8.9 30.7h0M31.2 63.6h0M20.7 69.7h0M36.7 26.5h0M76.7 41.6h0M33.7 42.2h0M8.9 18.3h0M20.0 23.6h0M11.3 7.0h0M66.8 65.8h0M15.3 59.6h0M44.7 7.8h0M17.5 74.1h0M42.7 32.2h0M40.6 68.5h0M56.8 5.3h0M35.3 9.9h0M12.5 55.5h0M2.3 51.7h0M65.2 49.0h0M2.4 69.0h0M71.3 77.7h0M38.9 48.0h0M47.9 73.1h0M29.9 18.9h0M16.9 21.5h0M28.8 2.4h0M61.9 70.7h0M17.5 41.2h0M9.3 18.0h0M40.2 73.3h0M34.6 32.5h0M66.0 71.8h0M14.4 47.0h0M33.0 44.9h0M70.0 70.9h0M4.9 75.7h0M59.5 72.2h0M36.2 13.7h0M38.4 40.9h0M3.0 76.1h0M24.5 43.7h0M25.0 41.1h0M74.3 26.4h0M70.5 54.7h0M65.8 18.0h0M4.6 18.0h0M62.3 1.8h0M6.0 17.3h0M34.3 27.8h0" stroke="#1a3ab8" stroke-width="2.6" stroke-linecap="round" stroke-opacity="0.68"/></g><path d="M55.1 77.3h19" stroke="#999" stroke-width="0.5"/><rect x="1.5" y="1.5" width="4" height="3" fill="none" stroke="#666" stroke-width="0.4"/></svg>
<svg x="184.2" y="387.5" width="76.8" height="79.8" viewBox="0 0 76.8 79.8" overflow="hidden"><rect width="76.8" height="79.8" fill="#01040c"/><g filter="url(#bl)" style="mix-blend-mode:screen"><path d="M37.1 72.8h0M41.4 70.7h0M44.2 80.4h0M27.2 53.1h0M37.5 45.8h0M24.5 65.0h0M62.7 53.1h0M44.7 2.6h0M59.9 26.8h0M6.5 18.0h0M22.3 9.0h0M36.3 70.5h0M45.8 31.2h0M27.1 68.1h0M55.2 43.3h0M19.9 75.1h0M51.4 68.4h0M20.6 48.0h0M35.0 26.2h0M63.0 47.8h0M77.4 66.8h0M0.4 48.9h0M21.7 64.3h0M63.4 14.5h0M71.9 43.0h0M64.9 50.7h0M11.0 42.2h0M35.1 2.5h0M8.9 4.4h0M69.7 37.7h0M14.0 27.0h0M16.7 23.0h0M28.6 36.6h0M36.8 77.4h0M1.6 34.6h0M18.6 75.4h0M27.2 17.3h0M67.3 15.8h0M46.2 54.5h0M72.9 30.8h0M48.6 29.0h0M2.7 68.5h0M69.1 73.9h0M7.9 62.6h0M1.4 2.2h0M56.5 52.5h0M46.2 79.2h0M28.7 50.3h0M63.9 37.6h0M33.0 70.2h0M24.8 55.2h0M13.0 57.5h0M63.6 24.4h0M56.0 79.8h0M42.4 5.2h0M40.1 71.7h0M46.2 11.7h0M49.6 25.4h0M72.2 8.2h0M62.6 20.7h0M49.9 54.4h0M5.6 20.4h0M53.6 49.7h0M32.8 31.6h0M40.9 67.8h0M4.3 51.9h0M29.1 51.9h0M-0.8 43.4h0M29.7 5.6h0M2.5 26.4h0M37.1 36.1h0M49.2 49.9h0M52.4 71.7h0M68.3 7.6h0M53.3 8.8h0M64.6 80.4h0M44.8 25.6h0M45.6 45.4h0M64.3 11.6h0M44.5 34.5h0M14.4 31.1h0M41.2 26.1h0M65.6 55.6h0M77.8 74.8h0M32.1 71.7h0M30.3 27.1h0M51.3 10.3h0M4.9 76.4h0M15.9 43.8h0M35.2 44.3h0M66.9 69.3h0M13.9 0.9h0M40.0 46.7h0M52.5 62.4h0M74.7 33.4h0M31.1 15.2h0M57.7 0.1h0M16.6 38.7h0M6.9 9.0h0M44.7 55.7h0M46.9 43.1h0M73.6 -0.3h0M41.6 22.4h0M65.9 19.0h0M26.3 56.0h0M-0.5 2.1h0M10.4 56.6h0M49.2 34.2h0M3.9 42.2h0M12.2 38.9h0M66.2 47.5h0M76.6 67.6h0M72.9 49.8h0M76.1 43.5h0M57.1 20.3h0M68.5 34.5h0M77.3 58.9h0M35.6 41.2h0M44.5 22.7h0M72.0 20.5h0M67.0 25.5h0M2.8 5.5h0M50.9 70.3h0M47.3 20.5h0M36.1 33.9h0M29.5 44.9h0M4.3 43.1h0M24.0 40.4h0M62.1 75.5h0M48.2 24.7h0M32.8 51.5h0M18.6 39.8h0M51.5 65.6h0M77.1 9.1h0M18.6 32.9h0M19.4 15.5h0M58.3 14.2h0M4.3 39.9h0M17.3 78.1h0M25.9 79.2h0M51.6 5.0h0M1.9 26.2h0M70.7 13.5h0M7.8 -0.2h0M71.8 68.0h0M69.3 66.1h0M76.8 4.3h0M46.1 16.8h0M19.5 35.4h0M9.1 32.0h0M27.4 4.6h0M74.1 80.1h0M66.0 69.0h0M63.7 48.3h0M27.9 9.1h0M16.3 49.0h0M37.1 41.9h0M10.2 59.8h0M39.5 52.5h0M56.7 4.2h0M30.1 61.7h0M48.3 39.7h0M48.2 0.8h0M4.7 53.0h0M10.3 6.6h0M64.6 42.8h0M55.8 61.1h0M16.5 20.3h0M30.8 22.4h0M72.9 56.7h0M7.7 2.6h0M42.1 49.7h0M35.4 20.6h0M53.9 9.1h0M8.0 26.5h0M41.5 33.2h0M55.9 38.2h0M64.9 76.4h0M68.2 0.6h0M13.8 71.2h0M3.7 40.6h0M41.8 78.8h0M33.9 78.9h0M29.9 61.6h0M67.5 4.3h0M40.0 80.6h0M74.8 0.3h0M74.6 45.6h0M21.0 42.9h0M68.1 56.3h0M70.1 12.4h0M45.9 3.1h0M23.4 1.0h0M54.1 65.8h0M36.5 56.3h0M20.9 75.9h0M70.8 79.9h0M71.2 56.6h0M47.6 57.9h0M1.9 17.4h0M38.6 35.7h0M75.7 63.8h0M25.3 54.6h0M36.3 63.3h0M42.6 61.2h0M32.1 12.2h0M43.7 62.4h0M2.9 35.6h0M62.1 46.6h0M4.7 72.6h0M18.4 36.4h0M31.4 25.4h0M53.6 18.3h0M10.8 29.4h0M71.3 15.0h0M17.1 27.7h0M36.7 29.4h0M46.5 62.1h0M43.2 34.8h0M31.4 69.1h0M23.4 -0.0h0M15.3 54.7h0M42.5 59.2h0M73.2 5.2h0M36.9 53.6h0M47.7 15.7h0M68.2 60.5h0M9.8 43.3h0M34.0 79.8h0M58.1 61.3h0M36.8 68.8h0M46.8 8.8h0M62.5 54.7h0M26.0 24.3h0M14.2 32.7h0M4.9 74.9h0M38.5 28.9h0M37.0 64.4h0M65.9 70.5h0M71.1 1.1h0" stroke="#1a3cc4" stroke-width="2.4" stroke-linecap="round" stroke-opacity="0.35"/><path d="M39.7 71.4h0M76.9 15.2h0M8.5 24.0h0M53.1 0.4h0M75.3 39.2h0M57.7 10.0h0M11.6 40.6h0M72.1 3.8h0M45.3 60.1h0M47.6 78.9h0M66.6 57.9h0M52.0 44.3h0M74.1 57.7h0M2.5 12.5h0M4.7 80.3h0M72.5 55.2h0M20.4 72.6h0M65.7 13.3h0M48.7 30.9h0M53.8 39.0h0M67.9 47.3h0M70.7 28.7h0M1.7 56.3h0M64.2 52.4h0M27.6 31.0h0M71.2 52.0h0M74.6 74.6h0M35.4 79.0h0M16.3 68.4h0M38.1 20.5h0M43.4 41.0h0M16.9 22.9h0M16.7 -0.9h0M58.9 76.3h0M19.3 29.4h0M25.1 73.2h0M76.5 31.6h0M0.9 58.3h0M56.0 11.5h0M27.8 50.4h0M62.9 -0.2h0M33.1 50.7h0M9.1 24.6h0M33.5 63.5h0M67.3 44.5h0M69.0 64.9h0M10.6 58.0h0M58.7 58.0h0M66.1 57.2h0M38.4 45.8h0M72.0 69.1h0M51.4 2.4h0M30.9 47.3h0M66.1 15.2h0M43.5 59.3h0M35.7 0.9h0M27.2 14.1h0M45.1 37.0h0M1.1 -0.9h0M61.4 9.6h0M61.8 69.5h0M50.7 43.6h0M10.3 43.2h0M9.6 4.0h0M20.9 20.4h0M8.6 66.9h0M43.4 13.5h0M67.9 -0.9h0M68.1 38.1h0M31.9 32.7h0M34.6 13.7h0M23.8 14.9h0M35.6 41.0h0M40.0 37.5h0M45.5 80.0h0M68.4 10.7h0M39.4 60.0h0M8.8 72.6h0M7.7 45.4h0M59.3 79.8h0M44.5 4.3h0M9.2 66.1h0M7.3 71.5h0M33.1 8.9h0M39.6 35.5h0M14.0 75.5h0M73.8 44.8h0M63.4 47.0h0M55.2 55.7h0M73.4 68.4h0M41.6 2.0h0M63.4 57.9h0M37.5 29.7h0M54.8 47.8h0M67.8 71.1h0M3.8 52.8h0M47.5 47.9h0M14.7 23.2h0M49.1 37.3h0M14.0 47.3h0M74.4 5.7h0M51.5 70.6h0M75.4 28.2h0M61.8 75.7h0M12.8 60.1h0M70.3 65.0h0M59.6 50.1h0M46.8 5.0h0M6.9 76.7h0M53.0 64.2h0M67.8 37.9h0M9.2 66.5h0M8.3 31.0h0M57.3 2.9h0M61.4 42.0h0M22.7 40.6h0M64.3 65.5h0M64.5 60.1h0M3.2 50.2h0M24.8 18.4h0M12.7 63.2h0M31.9 63.0h0M8.7 28.1h0M56.9 -0.6h0M38.8 -0.9h0M19.5 44.6h0M47.5 77.0h0M50.4 45.5h0M18.7 10.8h0M68.1 45.1h0M70.0 35.9h0M15.1 22.8h0M13.0 20.7h0M32.8 6.3h0M75.2 77.6h0M34.0 32.0h0M66.5 33.9h0M24.1 69.2h0M74.2 39.4h0M-0.8 63.5h0M67.4 71.0h0M14.7 75.1h0M6.5 31.5h0M32.7 29.3h0M61.5 17.7h0M53.0 12.0h0M47.0 67.4h0M19.4 66.0h0M12.9 17.6h0M62.2 72.8h0M71.4 15.4h0M19.1 20.2h0M15.5 25.6h0M7.2 69.5h0M42.3 65.7h0M38.9 33.9h0M4.5 21.2h0M38.6 7.3h0M39.1 66.3h0M3.5 4.2h0M67.1 50.7h0M5.6 0.2h0M42.0 9.7h0M71.6 25.9h0M63.7 31.6h0M13.0 6.3h0M50.0 24.1h0M56.6 4.0h0M39.9 20.7h0M25.9 5.3h0M0.3 23.7h0M77.3 53.3h0M50.4 9.4h0M41.9 50.7h0M61.3 73.0h0M4.0 55.2h0M9.9 21.5h0M1.9 41.8h0M51.5 35.8h0M11.4 20.9h0M62.8 65.8h0M47.5 76.2h0M40.9 43.4h0M74.4 67.6h0M63.3 70.7h0M53.2 45.5h0M59.8 50.0h0M55.8 5.4h0M5.8 72.2h0M2.9 12.9h0M8.7 -0.9h0M12.8 58.9h0M4.7 19.4h0M8.0 46.9h0M66.3 42.9h0M33.2 16.9h0M19.2 41.6h0M52.8 48.3h0M33.9 12.1h0M45.3 15.9h0M33.5 46.8h0M33.7 78.5h0M16.0 77.3h0M22.0 16.5h0M6.5 80.3h0M21.9 78.9h0M42.5 73.7h0M5.2 39.1h0M66.2 2.0h0M19.0 32.8h0M52.2 64.8h0M20.0 79.2h0M74.3 68.8h0M42.1 20.0h0M52.7 12.8h0M30.7 54.3h0M2.0 76.4h0M49.3 37.2h0M55.9 54.3h0M73.7 35.8h0M29.1 76.2h0M14.5 30.6h0M11.6 73.2h0M25.0 39.9h0M45.5 34.5h0M57.5 65.1h0M71.0 55.8h0M69.4 35.8h0M28.2 56.1h0M27.5 49.1h0M0.5 52.0h0M42.3 43.7h0M58.9 32.1h0M22.0 8.0h0M77.8 51.4h0M3.1 3.8h0M69.2 65.1h0M30.7 38.3h0M39.5 47.4h0M73.2 25.6h0" stroke="#1a3cc4" stroke-width="2.4" stroke-linecap="round" stroke-opacity="0.55"/><path d="M30.6 37.9h0M68.2 36.4h0M46.2 9.5h0M0.1 18.1h0M76.1 51.1h0M64.2 25.8h0M74.2 48.8h0M21.3 31.0h0M57.4 67.6h0M56.4 42.4h0M69.0 78.9h0M5.2 62.5h0M63.3 13.0h0M27.3 46.7h0M1.7 49.0h0M40.8 20.1h0M73.3 73.7h0M61.5 26.6h0M27.8 41.3h0M14.0 56.7h0M15.0 73.6h0M51.8 45.2h0M39.4 50.3h0M30.9 40.3h0M23.1 29.9h0M-0.8 0.5h0M-0.6 29.8h0M48.0 29.7h0M76.8 52.2h0M51.8 7.6h0M64.2 55.4h0M30.3 1.2h0M33.5 15.1h0M37.0 36.7h0M65.4 78.1h0M44.1 16.3h0M2.1 56.9h0M51.7 36.4h0M70.5 6.4h0M62.9 2.9h0M56.9 37.6h0M35.4 6.1h0M53.4 39.0h0M8.9 15.4h0M39.3 22.4h0M47.0 58.4h0M2.5 49.9h0M40.9 53.5h0M49.0 6.7h0M11.9 57.0h0M49.4 61.7h0M36.6 22.3h0M75.6 35.4h0M4.9 16.9h0M16.1 33.6h0M37.4 33.4h0M49.7 40.4h0M76.5 0.2h0M52.0 77.7h0M35.7 17.8h0M72.7 75.8h0M0.6 50.7h0M20.1 1.3h0M63.8 24.4h0M55.1 51.0h0M53.0 28.9h0M54.7 69.8h0M37.7 55.8h0M68.3 44.7h0M4.2 14.1h0M39.0 29.2h0M77.6 63.7h0M43.5 74.0h0M41.5 3.3h0M36.8 27.0h0M1.1 70.4h0M73.5 33.7h0M8.3 6.9h0M25.8 34.0h0M71.7 29.9h0M67.7 54.0h0M57.3 21.9h0M10.9 67.9h0M27.9 34.3h0M11.3 2.0h0M64.5 68.9h0M17.3 42.5h0M47.0 45.9h0M31.3 26.0h0M7.1 18.6h0M2.3 23.0h0M1.0 26.8h0M9.8 21.8h0M49.3 6.4h0M30.2 5.0h0M53.6 54.1h0M17.7 58.7h0M7.7 5.7h0M42.2 48.2h0M30.1 64.9h0M49.8 39.2h0M11.5 18.6h0M61.5 33.1h0M3.1 34.4h0M4.8 7.6h0M40.8 0.9h0M5.6 17.6h0M-0.7 46.7h0M40.7 6.5h0M14.0 10.3h0M17.4 38.1h0M37.1 12.1h0M57.1 69.0h0M3.7 13.6h0M30.9 77.4h0M35.3 52.2h0M19.9 1.5h0M61.1 4.6h0M17.9 58.1h0M40.9 63.3h0M33.6 40.6h0M11.5 70.4h0M52.3 23.9h0M8.1 51.4h0M20.4 51.2h0M74.5 61.0h0M62.0 26.5h0M60.6 7.6h0M25.8 58.5h0M27.4 61.4h0M47.3 44.2h0M49.9 30.2h0M16.4 28.1h0M4.7 56.0h0M53.2 32.7h0M24.4 4.5h0M70.8 75.1h0M32.7 24.0h0M3.6 17.5h0M77.3 33.9h0M20.1 6.4h0M14.1 74.1h0M13.3 73.7h0M44.1 52.1h0M20.2 -0.9h0M60.6 63.2h0M68.3 35.0h0M53.1 14.6h0M74.5 8.9h0M-0.1 12.9h0M69.4 24.8h0M63.2 9.8h0M21.9 17.1h0M70.3 80.7h0M56.7 15.4h0M50.2 53.9h0M2.9 43.1h0M6.8 16.7h0M17.3 59.7h0M10.7 19.2h0M65.0 31.1h0M47.2 46.0h0M46.9 3.4h0M65.0 12.6h0M30.1 22.2h0M41.7 40.8h0M9.3 27.1h0M41.4 63.4h0M19.5 38.6h0M13.4 50.7h0M72.0 14.7h0M25.1 58.1h0M40.0 21.9h0M61.5 54.2h0M33.8 4.5h0M2.4 1.5h0M20.1 29.4h0M50.4 65.3h0M64.1 78.3h0M15.0 53.7h0M2.5 50.7h0M49.5 45.8h0M54.7 11.0h0M1.2 67.4h0M27.3 59.4h0M-0.3 34.7h0M59.4 75.3h0M54.4 78.0h0M20.9 24.9h0M25.6 35.6h0M28.7 28.8h0M2.5 64.5h0M49.9 20.9h0M19.8 39.0h0M33.1 63.3h0M71.7 41.7h0M57.4 37.5h0M36.8 78.4h0M10.8 1.8h0M28.3 29.8h0M77.1 9.2h0M29.0 16.4h0M56.7 66.5h0M74.0 24.3h0M29.8 74.5h0M62.1 10.2h0M31.5 38.0h0M6.8 69.2h0M62.7 62.7h0M37.2 43.9h0M44.4 27.4h0M13.3 3.7h0M65.9 71.2h0M1.4 63.5h0M53.8 41.0h0M75.9 18.6h0M34.0 61.7h0M37.4 45.6h0M67.9 52.4h0M65.0 67.2h0M59.9 5.3h0M35.9 75.7h0M65.1 26.2h0M14.1 42.7h0M23.7 47.8h0M7.8 74.8h0M76.6 79.0h0M38.1 33.1h0M46.9 59.1h0M13.6 9.7h0M37.5 33.3h0M66.3 32.7h0M76.7 14.2h0M1.7 51.2h0M-0.9 0.6h0M3.2 46.5h0M44.5 25.0h0M11.6 16.7h0M56.7 17.9h0M51.4 11.9h0" stroke="#1a3cc4" stroke-width="2.4" stroke-linecap="round" stroke-opacity="0.8"/></g><path d="M54.8 77.3h19" stroke="#999" stroke-width="0.5"/><rect x="1.5" y="1.5" width="4" height="3" fill="none" stroke="#666" stroke-width="0.4"/></svg>
<svg x="281.0" y="300.2" width="86.1" height="80.6" viewBox="0 0 86.1 80.6" overflow="hidden"><rect width="86.1" height="80.6" fill="#01040c"/><rect width="86.1" height="80.6" filter="url(#tf6)"/><g filter="url(#bl)" style="mix-blend-mode:screen"><path d="M27.1 16.4h0M80.7 26.2h0M20.2 39.4h0M22.1 11.5h0M78.4 22.3h0M89.1 85.7h0M34.0 26.2h0M42.9 31.1h0M58.4 56.0h0M42.5 80.1h0M10.1 27.2h0M71.0 76.8h0M4.5 40.3h0M31.5 1.6h0M39.0 5.9h0M18.8 24.6h0M18.3 31.4h0M21.2 46.4h0M40.5 55.8h0M-1.2 17.6h0M54.1 10.2h0M6.1 56.1h0M82.1 73.4h0M70.0 2.2h0M69.5 44.1h0M64.9 52.6h0M10.0 69.2h0M69.1 18.4h0M13.6 50.3h0M35.4 9.8h0M41.5 10.4h0M11.8 77.9h0M39.3 3.1h0M13.8 7.5h0M15.3 34.6h0M37.5 77.8h0M47.4 74.8h0M36.0 53.3h0M39.0 38.9h0M60.6 54.7h0M71.2 27.6h0M59.4 69.4h0M33.3 37.4h0M74.2 33.9h0M21.4 24.7h0M11.6 0.4h0M56.0 7.6h0M11.1 54.3h0M-3.7 15.1h0M0.6 11.8h0M19.3 15.7h0M36.7 58.9h0M70.5 75.7h0M4.1 23.9h0M6.0 58.1h0M16.6 36.7h0M39.1 32.1h0M87.8 23.3h0M85.1 63.5h0M6.5 59.0h0M27.4 14.1h0M80.0 26.8h0M18.5 43.6h0M29.3 10.5h0M75.0 20.9h0M85.7 82.8h0M31.5 23.9h0M46.9 27.8h0M61.6 58.2h0M50.6 84.4h0M13.0 31.2h0M75.7 81.3h0M4.1 36.0h0" stroke="#32e040" stroke-width="2.7" stroke-linecap="round" stroke-opacity="0.45"/><path d="M51.4 17.0h0M23.9 61.8h0M27.3 18.2h0M68.2 41.7h0M81.4 35.5h0M45.1 8.5h0M66.3 8.9h0M29.0 81.1h0M19.7 58.1h0M8.1 37.6h0M43.5 62.9h0M0.3 60.1h0M74.5 49.6h0M8.6 22.8h0M40.1 54.3h0M34.2 16.0h0M8.5 23.9h0M72.5 14.3h0M82.0 43.2h0M70.5 54.8h0M70.4 10.2h0M58.8 10.0h0M49.1 81.4h0M36.6 71.5h0M28.5 56.7h0M3.6 24.6h0M43.3 30.2h0M6.3 14.5h0M69.9 39.8h0M18.2 21.1h0M3.5 66.5h0M81.8 25.2h0M65.1 71.6h0M59.2 19.9h0M40.3 67.9h0M71.0 44.1h0M12.1 48.1h0M33.5 35.3h0M4.6 81.9h0M59.5 33.8h0M7.5 18.6h0M18.5 82.6h0M15.4 38.3h0M53.8 27.1h0M-0.8 28.4h0M22.7 32.0h0M10.7 47.9h0M17.3 23.4h0M46.5 40.3h0M63.8 16.5h0M32.4 13.9h0M19.0 23.2h0M8.4 72.3h0M70.3 28.6h0M21.2 78.5h0M35.8 47.3h0M69.2 13.9h0M62.7 49.0h0M19.2 48.1h0M70.5 51.0h0M52.8 16.1h0M28.3 62.0h0M21.7 13.0h0M62.3 38.3h0M79.3 28.3h0M41.4 5.1h0M66.0 6.7h0M32.2 85.0h0M19.6 57.8h0M7.1 41.3h0M45.8 59.2h0M0.4 66.6h0M73.5 42.6h0" stroke="#32e040" stroke-width="2.7" stroke-linecap="round" stroke-opacity="0.7"/><path d="M49.0 42.6h0M14.6 23.0h0M11.8 -1.4h0M85.0 27.1h0M69.4 23.3h0M23.3 30.4h0M11.6 1.7h0M11.7 53.9h0M14.2 37.6h0M1.0 24.3h0M59.4 1.4h0M81.3 0.1h0M6.5 -0.8h0M59.5 28.2h0M26.6 18.4h0M19.9 77.4h0M53.6 74.5h0M7.3 56.6h0M2.3 15.8h0M42.3 18.4h0M22.1 15.2h0M35.1 76.0h0M47.4 53.1h0M54.5 51.0h0M10.5 68.6h0M20.8 68.2h0M67.0 62.3h0M15.8 76.1h0M25.7 0.6h0M78.5 51.3h0M38.3 33.3h0M20.4 36.9h0M65.4 38.0h0M34.5 73.2h0M8.7 62.6h0M34.3 66.0h0M20.3 -6.9h0M8.9 81.1h0M84.6 24.9h0M31.1 56.3h0M42.8 74.4h0M20.8 19.9h0M15.5 67.4h0M28.4 10.7h0M47.4 81.7h0M41.3 71.0h0M72.2 81.3h0M1.9 40.6h0M74.4 52.4h0M87.4 52.7h0M71.9 36.5h0M6.2 56.6h0M6.0 36.5h0M6.8 29.6h0M86.0 76.5h0M8.2 21.6h0M58.5 2.3h0M85.4 34.4h0M30.2 35.0h0M24.9 38.8h0M51.1 39.1h0M15.1 22.1h0M8.4 0.7h0M83.1 26.0h0M68.3 24.2h0M20.6 29.9h0M14.2 0.8h0M9.2 55.3h0M16.6 33.4h0M3.8 27.1h0M57.5 0.3h0M78.5 0.1h0M3.3 3.4h0" stroke="#32e040" stroke-width="2.7" stroke-linecap="round"/></g><path d="M64.1 78.1h19" stroke="#999" stroke-width="0.5"/><rect x="1.5" y="1.5" width="4" height="3" fill="none" stroke="#666" stroke-width="0.4"/></svg>
<svg x="370.3" y="300.2" width="86.4" height="80.6" viewBox="0 0 86.4 80.6" overflow="hidden"><rect width="86.4" height="80.6" fill="#030a05"/><g filter="url(#bl2)" style="mix-blend-mode:screen"><path d="M74.7 65.1h0M77.4 60.3h0M18.9 79.6h0M48.3 35.9h0M78.7 1.7h0M9.7 74.8h0M77.8 76.9h0M25.0 17.8h0M3.3 66.4h0M33.8 61.9h0M76.9 14.2h0M44.7 39.9h0M78.6 63.8h0M9.1 4.8h0M-0.4 42.0h0M21.1 49.9h0M18.3 71.2h0M7.5 61.4h0M21.1 29.4h0M9.8 36.9h0M73.2 0.6h0M23.0 36.0h0M28.6 41.7h0M62.6 35.4h0M63.7 13.8h0M10.4 5.9h0M77.8 44.8h0M52.7 45.8h0M75.7 15.5h0M32.7 74.8h0M20.3 27.2h0M86.1 42.4h0M20.4 8.6h0M15.9 58.5h0M30.9 9.6h0M68.7 67.7h0M79.7 25.0h0M25.7 8.6h0M37.8 2.5h0M82.5 24.0h0M22.4 74.4h0M71.7 60.5h0M80.7 15.2h0M44.4 9.1h0M29.4 56.5h0M33.7 72.8h0M53.1 56.7h0M73.3 37.8h0M57.1 47.7h0M77.3 38.7h0M72.9 21.3h0M66.8 9.1h0M2.6 67.0h0M36.1 68.9h0M19.1 26.6h0M15.6 50.2h0M42.0 67.9h0M86.4 39.3h0M19.1 65.3h0M14.8 26.5h0M49.2 0.6h0M59.6 29.3h0M34.3 14.0h0M30.9 58.8h0M46.5 29.2h0M13.9 57.9h0M74.0 31.9h0M16.9 71.2h0M81.9 18.5h0M29.3 56.9h0M60.7 54.0h0M86.8 80.0h0M59.7 28.0h0M13.3 65.1h0M4.3 54.1h0M51.6 51.9h0M10.3 65.6h0M2.3 69.1h0M53.8 36.0h0M25.3 51.3h0M41.4 8.5h0M17.2 73.5h0M15.3 26.9h0M81.3 66.0h0M24.7 28.0h0M62.3 59.5h0M33.3 26.7h0M57.5 2.7h0M60.1 56.4h0M64.5 57.9h0M52.1 28.6h0M10.7 69.5h0M54.0 80.9h0M74.5 21.2h0M41.1 78.0h0M17.7 34.5h0M25.8 48.4h0M43.3 30.6h0M75.7 1.3h0M46.6 71.0h0M36.9 12.1h0M79.4 48.0h0M31.5 80.1h0M37.1 38.9h0M47.3 36.5h0M23.5 68.3h0M74.1 75.4h0M10.4 45.8h0M25.3 80.4h0M47.0 42.0h0M37.1 75.6h0M8.3 60.3h0M0.7 78.0h0M3.8 16.6h0M66.7 64.8h0M87.1 35.8h0M52.3 5.3h0M61.7 52.7h0M41.1 3.6h0M48.2 52.7h0M66.4 4.3h0M57.8 69.5h0M69.3 66.9h0M86.9 73.1h0M56.4 75.2h0M20.9 63.7h0M1.0 66.4h0M66.7 33.5h0M21.2 62.8h0M59.3 60.7h0" stroke="#24a036" stroke-width="4.6" stroke-linecap="round" stroke-opacity="0.4"/><path d="M37.5 59.5h0M20.3 63.6h0M25.8 53.3h0M59.2 22.9h0M66.9 19.1h0M39.1 48.4h0M73.5 44.0h0M11.6 45.2h0M87.4 78.4h0M45.4 48.2h0M56.2 72.1h0M42.6 63.6h0M83.0 39.4h0M15.5 70.5h0M28.2 40.6h0M30.4 63.8h0M79.7 61.9h0M79.4 52.0h0M46.9 26.2h0M80.9 9.0h0M11.8 37.1h0M42.7 36.0h0M83.3 69.4h0M27.5 57.2h0M61.5 70.7h0M63.0 7.6h0M41.3 27.2h0M9.8 1.1h0M18.4 59.0h0M13.1 59.8h0M7.9 77.5h0M79.9 68.7h0M55.3 72.0h0M61.3 19.3h0M59.9 34.8h0M21.6 44.4h0M83.1 42.5h0M78.5 3.0h0M-0.0 44.3h0M26.0 9.0h0M5.6 16.3h0M28.4 14.0h0M13.4 52.1h0M6.5 81.3h0M53.2 32.9h0M66.8 59.8h0M69.9 51.2h0M0.1 75.3h0M5.2 35.9h0M72.5 5.0h0M53.9 70.2h0M31.9 79.0h0M81.1 26.0h0M23.4 52.2h0M53.5 44.5h0M4.1 23.6h0M45.0 24.8h0M23.0 44.4h0M70.4 12.8h0M66.4 3.7h0M83.2 41.1h0M57.6 16.4h0M74.7 57.6h0M1.3 51.1h0M29.9 43.0h0M73.1 75.8h0M9.0 43.7h0M71.4 42.9h0M57.8 -0.8h0M2.9 77.0h0M22.9 28.8h0M5.5 38.1h0M74.4 29.2h0M49.8 20.0h0M3.2 70.3h0M75.5 50.4h0M30.9 80.5h0M46.3 13.7h0M77.6 39.6h0M43.8 54.5h0M31.4 52.7h0M42.8 66.3h0M64.3 11.2h0M32.5 34.5h0M86.4 60.8h0M62.7 15.7h0M71.4 46.0h0M78.9 48.0h0M6.2 63.2h0M36.3 69.2h0M38.2 74.3h0M14.2 67.8h0M47.4 33.4h0M27.5 57.5h0M86.8 43.1h0M26.6 77.8h0M48.2 49.1h0M20.4 19.6h0M79.3 27.6h0M86.4 28.9h0M53.8 74.7h0M44.7 53.3h0M24.7 41.1h0M15.8 2.8h0M63.7 52.0h0M65.7 4.6h0M17.2 70.5h0M76.7 57.5h0M37.0 35.3h0M39.8 56.5h0M57.7 28.7h0M27.7 60.1h0M56.9 35.3h0M43.2 64.1h0M81.8 6.4h0M15.8 69.0h0M54.0 24.3h0M7.7 76.7h0M60.1 8.9h0M82.8 35.1h0M54.9 12.0h0M20.8 34.5h0M58.4 42.0h0M32.0 30.2h0M53.6 63.8h0M79.5 61.8h0M64.5 78.1h0M21.5 36.6h0M38.2 18.8h0M56.0 14.3h0" stroke="#24a036" stroke-width="4.6" stroke-linecap="round" stroke-opacity="0.6"/></g><g filter="url(#bl)" style="mix-blend-mode:screen"><path d="M6.9 38.4h0M1.9 4.3h0M42.5 14.2h0M71.1 39.8h0M62.5 10.0h0M1.3 3.9h0M47.8 7.6h0M85.1 41.1h0M20.4 52.1h0M43.6 69.4h0M59.2 39.6h0M47.3 3.3h0M78.1 73.4h0M37.6 19.9h0M38.3 34.5h0M84.4 64.6h0M8.2 27.2h0M45.5 72.0h0M43.1 61.4h0M34.0 77.3h0M44.6 63.9h0M6.9 27.4h0M41.6 65.0h0M68.0 50.2h0M55.3 24.7h0M41.1 14.3h0M82.4 41.7h0M35.7 67.6h0M68.1 7.9h0M18.1 79.6h0M79.8 42.3h0M78.1 11.3h0M20.5 51.4h0M64.7 11.7h0M84.4 60.0h0M40.7 7.2h0M46.6 13.3h0M32.3 74.0h0M28.6 51.7h0M7.5 64.2h0M78.2 39.7h0M13.2 27.6h0M19.2 75.7h0M54.3 14.7h0M38.9 6.9h0M13.8 49.0h0M71.0 34.5h0M55.3 41.5h0M86.8 67.8h0M85.1 32.5h0" stroke="#36d04a" stroke-width="2.8" stroke-linecap="round" stroke-opacity="0.5"/><path d="M61.9 44.5h0M62.0 8.4h0M63.9 34.1h0M57.1 44.1h0M31.5 22.1h0M66.8 9.3h0M2.1 30.1h0M43.6 43.7h0M40.2 71.5h0M41.2 57.5h0M39.9 29.7h0M24.4 56.5h0M56.3 41.8h0M49.9 6.1h0M66.6 57.1h0M56.2 16.4h0M52.9 42.9h0M31.7 54.5h0M3.6 39.8h0M85.0 10.9h0M51.9 77.5h0M55.3 63.5h0M37.0 53.1h0M51.1 39.2h0M12.5 69.4h0M78.7 69.1h0M68.3 20.4h0M31.6 51.5h0M22.1 34.7h0M54.9 20.3h0M86.9 3.3h0M61.6 73.6h0M47.3 51.6h0M12.9 15.1h0M7.0 51.1h0M14.5 78.4h0M48.9 59.0h0M84.7 76.2h0M24.3 57.3h0M19.3 62.6h0M24.3 17.1h0M36.4 50.5h0M44.9 5.7h0M18.0 67.9h0M31.5 61.3h0M-0.8 14.9h0M21.7 27.7h0M72.2 71.9h0M22.8 53.0h0M34.9 57.5h0" stroke="#36d04a" stroke-width="2.8" stroke-linecap="round" stroke-opacity="0.8"/></g><g filter="url(#bl)" style="mix-blend-mode:lighten"><path d="M85.2 51.9h0M29.6 11.4h0M21.3 35.3h0M7.2 50.6h0M26.5 2.6h0M63.1 79.9h0M70.4 55.2h0M70.1 72.5h0M6.2 7.0h0M2.9 71.4h0M7.0 70.5h0M20.0 39.6h0M38.5 36.4h0M76.1 11.4h0M9.9 19.4h0M8.5 -0.1h0M78.2 3.8h0M52.0 60.0h0M39.1 26.2h0M83.1 42.5h0M70.1 24.2h0M5.0 1.0h0M14.4 5.0h0M44.9 39.1h0M45.9 67.9h0M2.0 36.7h0M-0.7 1.8h0M55.8 52.1h0M42.1 28.2h0M35.0 27.2h0M71.5 61.3h0M60.4 30.7h0M37.8 28.6h0M23.2 46.2h0M40.2 6.1h0M19.7 31.2h0M4.1 77.1h0M76.9 16.5h0M13.8 54.0h0M3.3 59.8h0M42.1 20.6h0M81.8 40.9h0M28.1 51.0h0M32.7 20.6h0M76.6 36.2h0M12.3 40.2h0M6.6 42.6h0M0.5 55.1h0M57.7 48.6h0M28.6 57.9h0M50.8 39.6h0M63.6 67.2h0M85.1 -0.8h0M64.3 29.7h0M58.9 51.7h0M67.9 8.3h0M78.4 47.9h0M9.2 17.9h0M21.3 30.4h0M68.6 8.5h0M38.3 1.2h0M54.1 6.0h0M60.9 81.3h0M7.4 43.5h0M14.3 30.5h0M33.5 47.3h0M71.8 81.2h0M12.1 42.1h0M71.5 36.8h0M80.2 49.4h0M51.7 33.2h0M65.2 9.5h0M43.6 79.2h0M68.4 9.5h0M8.8 70.1h0M55.0 6.0h0M51.1 67.3h0M44.5 4.2h0M12.1 20.4h0M44.9 11.5h0M76.9 22.4h0M51.8 40.9h0M58.7 56.7h0M80.0 30.0h0M6.7 26.0h0M57.1 75.1h0M82.2 56.6h0M81.6 5.9h0M86.8 38.9h0M37.5 1.9h0M33.1 -0.5h0M41.0 23.4h0M0.2 73.0h0M78.9 79.2h0M77.2 64.5h0M49.6 72.0h0M57.1 25.6h0M63.6 67.1h0M58.7 33.7h0M72.1 45.7h0M62.6 44.6h0M65.9 25.6h0M44.3 50.3h0M33.1 23.5h0M33.1 35.7h0M66.7 26.5h0M42.6 42.1h0M64.5 19.7h0M30.1 27.2h0M8.6 3.9h0M19.1 39.1h0M46.0 16.6h0M47.8 26.5h0M69.6 56.4h0M57.1 50.6h0M30.3 64.1h0M32.2 40.4h0M10.5 72.4h0M69.8 78.7h0M70.8 11.8h0M31.8 80.8h0M-0.3 49.0h0M41.8 37.8h0M82.1 79.4h0M24.5 24.1h0M63.3 32.3h0M32.3 18.9h0M32.5 39.5h0M54.7 3.3h0M39.8 28.3h0M58.7 18.8h0M38.5 62.5h0M28.1 50.7h0M61.8 43.7h0M83.4 78.8h0M80.8 11.0h0M41.9 62.4h0M48.1 36.0h0M19.2 11.1h0M1.5 4.6h0M37.7 78.9h0M73.2 51.5h0M86.3 53.9h0M25.7 40.9h0M50.0 42.0h0M55.3 38.6h0M3.8 48.6h0M51.6 55.9h0M54.8 80.0h0M27.1 38.3h0M30.3 23.2h0M29.9 53.3h0M66.6 36.3h0M44.5 1.4h0M52.4 66.5h0M76.3 14.8h0M68.8 19.5h0M74.8 0.3h0M65.4 32.1h0M82.7 56.7h0M35.3 3.1h0M20.6 14.8h0M10.6 42.8h0M16.8 2.0h0M27.4 -0.3h0M52.1 36.7h0M20.6 70.9h0M31.1 8.0h0M40.4 52.7h0M29.6 7.0h0M52.2 1.9h0M16.7 62.0h0M3.8 17.4h0M71.6 5.4h0M36.0 15.4h0M54.3 4.2h0M3.5 -0.1h0M23.9 44.3h0M0.1 20.4h0M28.7 5.5h0M13.1 38.2h0M19.5 17.2h0M57.4 70.9h0M29.0 1.4h0M37.9 73.8h0M10.2 42.0h0M15.2 51.3h0M65.0 20.1h0M51.5 65.0h0M12.5 58.0h0M8.7 71.4h0M38.0 54.2h0M10.8 38.4h0M9.4 7.7h0M25.9 17.1h0M53.8 29.6h0M61.1 60.5h0M49.3 12.7h0M5.3 17.4h0M1.8 78.6h0M48.2 32.4h0M25.8 43.0h0M32.1 46.0h0M59.2 18.0h0M7.7 63.2h0M36.4 69.4h0M19.4 58.8h0M40.3 71.0h0M70.3 62.1h0M64.7 11.3h0M2.1 26.7h0M37.7 71.3h0M9.1 1.3h0M8.5 22.8h0M77.0 35.1h0M26.3 33.8h0M48.8 18.3h0M70.0 64.4h0M81.2 5.4h0M47.4 7.6h0M2.4 0.6h0M79.0 52.4h0M37.5 61.4h0M62.5 48.4h0M33.7 17.9h0M83.6 73.6h0M85.7 14.3h0M67.0 69.5h0M51.8 60.9h0M6.3 59.8h0M4.2 5.4h0M35.9 48.3h0M13.2 5.4h0M48.4 18.0h0M40.2 46.2h0M53.6 49.6h0M56.8 17.0h0M42.4 55.1h0M20.1 68.1h0M15.2 21.8h0M65.5 59.2h0M62.2 60.9h0M63.1 9.6h0M3.6 55.3h0M16.2 35.5h0M63.8 28.8h0M48.9 54.0h0M10.6 65.2h0M71.0 72.0h0M58.6 57.4h0M82.8 65.5h0M25.1 7.0h0M55.0 -0.1h0" stroke="#1a3cd0" stroke-width="2.3" stroke-linecap="round" stroke-opacity="0.55"/><path d="M66.1 75.7h0M54.2 61.4h0M26.7 75.6h0M85.8 27.9h0M60.5 60.5h0M54.3 25.6h0M54.1 4.0h0M72.9 37.6h0M50.3 48.0h0M30.0 33.9h0M81.2 38.8h0M57.1 24.1h0M42.2 14.2h0M5.1 24.8h0M55.7 42.5h0M38.9 71.0h0M19.4 14.1h0M41.3 54.0h0M40.6 50.7h0M61.0 39.1h0M30.3 27.5h0M48.7 36.5h0M75.1 35.7h0M47.2 33.8h0M56.1 79.9h0M66.3 47.3h0M19.0 13.7h0M20.6 76.5h0M32.2 7.0h0M34.6 57.2h0M-0.9 81.1h0M20.2 40.0h0M7.5 18.8h0M61.4 34.4h0M81.3 3.8h0M52.0 76.1h0M87.2 61.1h0M1.4 23.2h0M13.0 7.2h0M49.1 71.0h0M49.6 29.9h0M57.5 51.9h0M81.1 73.7h0M30.4 59.7h0M77.4 23.6h0M82.9 57.3h0M26.1 12.1h0M29.3 7.4h0M42.9 23.2h0M32.8 54.7h0M1.7 41.7h0M3.9 58.3h0M44.3 77.6h0M53.7 9.4h0M44.3 68.8h0M69.1 17.5h0M66.8 12.4h0M33.8 65.6h0M68.3 79.2h0M61.2 77.7h0M16.5 53.1h0M35.3 2.3h0M45.6 78.1h0M15.5 36.0h0M59.4 61.0h0M23.3 55.6h0M32.1 16.0h0M31.8 63.6h0M4.9 48.6h0M71.6 1.2h0M49.7 14.5h0M19.9 38.1h0M18.7 41.8h0M68.4 73.6h0M28.2 69.2h0M47.9 46.2h0M39.9 9.0h0M18.3 36.9h0M66.0 20.5h0M40.3 74.9h0M45.6 18.0h0M51.0 30.2h0M14.4 33.3h0M85.1 43.5h0M45.7 70.1h0M81.9 25.2h0M18.2 60.9h0M19.8 9.4h0M10.8 32.5h0M66.1 36.8h0M-0.2 22.8h0M84.6 54.2h0M84.8 59.4h0M80.0 10.8h0M84.4 22.4h0M4.1 36.5h0M72.2 38.4h0M22.9 58.1h0M63.3 53.3h0M11.5 8.7h0M66.4 34.4h0M6.3 38.0h0M-0.4 47.2h0M73.9 63.9h0M69.1 56.1h0M77.0 61.8h0M82.8 65.0h0M71.2 15.2h0M39.7 0.6h0M43.3 77.2h0M85.8 50.7h0M77.9 52.9h0M62.1 36.6h0M7.0 78.7h0M56.1 16.7h0M11.1 0.5h0M65.9 38.7h0M36.5 67.8h0M79.8 0.8h0M20.9 74.4h0M38.5 80.9h0M33.6 75.8h0M25.5 39.5h0M6.6 39.2h0M4.8 29.3h0M16.8 80.1h0M6.0 17.4h0M33.9 8.7h0M58.7 9.6h0M15.8 12.3h0M77.2 31.2h0M61.8 48.2h0M54.2 8.6h0M19.7 36.7h0M20.3 53.0h0M52.4 31.7h0M68.3 56.9h0M21.9 60.5h0M7.6 2.0h0M36.8 50.7h0M31.6 12.0h0M77.5 30.4h0M46.0 30.7h0M78.3 51.2h0M33.1 72.2h0M56.3 30.0h0M87.3 18.2h0M23.0 34.4h0M46.8 76.7h0M14.7 21.8h0M-0.2 56.4h0M29.8 27.1h0M54.8 56.3h0M2.5 45.6h0M15.8 7.2h0M56.7 81.5h0M35.9 78.7h0M55.7 44.7h0M83.5 62.6h0M83.1 44.6h0M34.1 41.6h0M52.9 67.6h0M0.8 24.3h0M40.8 11.7h0M8.4 25.7h0M-0.1 28.6h0M73.3 27.8h0M10.2 24.9h0M32.8 62.7h0M79.6 39.3h0M56.8 28.5h0M80.1 68.3h0M46.9 23.6h0M77.4 40.0h0M5.9 51.0h0M16.1 19.6h0M35.4 16.7h0M21.4 18.9h0M69.4 79.8h0M44.8 31.2h0M9.9 10.7h0M0.9 81.3h0M22.5 72.7h0M36.7 6.4h0M39.1 38.7h0M25.8 8.3h0M51.6 26.8h0M31.2 33.2h0M76.1 48.2h0M3.3 60.7h0M41.4 1.5h0M60.3 57.4h0M47.4 19.6h0M37.1 70.8h0M49.7 61.6h0M41.4 57.1h0M5.2 38.2h0M36.9 74.3h0M12.2 71.4h0M35.8 55.0h0M22.4 24.5h0M4.3 75.7h0M-0.4 32.0h0M40.3 5.2h0M81.0 44.1h0M67.9 38.0h0M33.1 76.1h0M84.3 29.3h0M31.6 10.7h0M55.0 72.9h0M45.0 53.3h0M31.8 59.2h0M29.4 63.7h0M76.2 68.4h0M33.5 24.1h0M6.7 76.4h0M40.1 45.8h0M22.7 14.9h0M81.2 14.5h0M66.2 37.6h0M77.8 31.2h0M1.7 47.8h0M34.8 55.6h0M26.9 17.0h0M3.8 4.1h0M60.3 75.1h0M13.8 32.0h0M6.9 3.3h0M57.2 3.8h0M28.9 6.3h0M30.0 24.7h0M55.6 29.7h0M0.6 18.6h0M29.4 27.6h0M62.7 35.9h0M43.5 18.9h0M85.6 30.6h0M45.0 5.7h0M65.5 24.7h0M82.2 6.8h0M28.0 -0.8h0M19.5 69.4h0M60.5 52.3h0M56.5 18.8h0M26.1 23.6h0M37.6 71.4h0M20.3 10.6h0M7.2 52.5h0M68.5 52.4h0M16.4 26.9h0M22.7 6.1h0M51.6 35.1h0M3.8 3.7h0" stroke="#1a3cd0" stroke-width="2.3" stroke-linecap="round" stroke-opacity="0.8"/><path d="M10.9 70.1h0M24.3 59.5h0M9.2 15.8h0M11.4 6.7h0M38.4 44.5h0M17.3 63.2h0M28.5 50.8h0M64.8 31.5h0M72.6 37.2h0M53.7 45.0h0M44.2 28.1h0M22.7 41.0h0M83.9 27.6h0M72.1 10.4h0M38.4 39.3h0M64.2 52.6h0M35.9 33.3h0M11.5 13.1h0M76.8 7.6h0M3.1 10.8h0M71.3 4.4h0M14.9 -0.5h0M15.3 50.9h0M27.2 39.8h0M8.5 50.5h0M15.9 53.1h0M77.4 38.3h0M11.8 47.8h0M81.7 4.0h0M28.5 6.5h0M28.7 34.0h0M42.4 4.4h0M55.5 9.1h0M73.5 47.0h0M62.2 43.8h0M83.4 23.5h0M13.5 34.6h0M52.7 32.8h0M47.1 37.0h0M59.0 27.1h0M40.9 11.3h0M16.5 42.3h0M5.0 74.5h0M29.8 23.0h0M5.8 7.7h0M54.5 81.5h0M67.0 31.8h0M2.0 64.7h0M33.8 77.7h0M70.7 22.8h0M71.5 8.1h0M76.1 42.9h0M39.2 33.9h0M12.8 75.8h0M69.1 28.2h0M57.3 57.9h0M1.0 69.8h0M15.7 68.2h0M34.4 31.2h0M78.0 55.6h0M32.7 6.8h0M65.2 8.4h0M82.3 36.9h0M24.2 34.4h0M54.6 16.9h0M39.3 35.4h0M3.1 25.4h0M77.0 30.2h0M83.4 69.8h0M16.2 1.2h0M7.8 63.0h0M83.0 77.1h0M47.7 36.9h0M49.3 38.1h0M0.3 50.4h0M54.5 80.1h0M14.6 81.2h0M65.7 72.9h0M45.3 31.2h0M1.7 75.7h0M4.0 20.9h0M19.6 49.9h0M21.6 8.0h0M31.1 42.2h0M33.2 26.7h0M11.7 6.5h0M7.0 80.9h0M26.7 73.4h0M39.1 80.7h0M35.3 20.9h0M18.2 21.0h0M42.8 46.0h0M36.6 28.6h0M47.2 17.6h0M55.8 4.3h0M26.2 43.3h0M80.2 12.8h0M29.3 72.4h0M28.8 13.2h0M29.4 22.7h0M20.2 69.2h0M39.3 49.7h0M72.0 78.1h0M10.8 25.8h0M18.1 80.1h0M54.8 26.9h0M37.8 10.3h0M50.5 16.4h0M32.6 30.8h0M10.0 9.9h0M73.6 4.3h0M37.9 60.2h0M14.9 30.1h0M80.5 34.0h0M13.3 9.8h0M41.3 28.3h0M64.4 38.7h0M78.0 30.4h0M49.0 30.7h0M10.5 67.2h0M65.1 2.1h0M39.2 48.9h0M19.9 18.9h0M78.2 37.8h0M65.1 47.7h0M7.2 62.0h0M73.8 11.2h0M74.0 65.9h0M14.6 63.9h0M49.5 79.8h0M33.5 41.4h0M49.0 19.4h0M49.8 63.6h0M47.0 51.6h0M0.1 32.7h0M51.4 24.3h0M17.4 54.5h0M73.5 6.9h0M14.3 59.2h0M19.9 32.3h0M54.0 42.2h0M30.0 78.1h0M36.9 71.7h0M14.8 -0.8h0M40.9 25.9h0M17.1 78.7h0M40.5 32.5h0M7.4 4.7h0M83.5 75.1h0M37.1 26.4h0M17.1 24.4h0M21.9 16.8h0M76.4 3.9h0M33.2 4.4h0M46.1 60.8h0M15.8 77.7h0M52.7 12.9h0M66.2 8.2h0M36.5 49.3h0M-0.7 16.3h0M50.9 32.3h0M50.2 51.5h0M10.7 25.8h0M58.9 32.9h0M80.7 75.7h0M39.5 69.2h0M19.4 63.5h0M52.6 34.0h0M39.7 21.3h0M73.4 78.9h0M86.2 51.3h0M28.4 6.3h0M31.1 1.9h0M69.7 71.9h0M75.0 29.4h0M73.6 10.3h0M59.1 18.9h0M51.8 24.1h0M39.5 8.2h0M20.9 50.7h0M50.3 79.5h0M2.7 9.3h0M22.6 46.3h0M19.5 75.0h0M76.3 73.4h0M27.4 35.7h0M67.5 78.9h0M4.8 53.9h0M9.9 43.3h0M75.9 11.7h0M70.5 61.3h0M57.2 14.8h0M31.4 6.7h0M0.9 23.1h0M20.5 64.8h0M15.4 10.3h0M38.2 50.4h0M20.4 7.0h0M43.8 30.6h0M4.2 67.6h0M16.6 34.2h0M9.0 55.1h0M51.3 74.2h0M2.5 75.7h0M10.0 69.3h0M70.2 17.6h0M14.0 33.0h0M59.6 36.7h0M10.0 79.8h0M55.2 24.8h0M-0.3 10.6h0M35.4 23.8h0M31.1 -0.2h0M37.2 18.5h0M4.8 13.0h0M43.7 23.8h0M22.0 62.4h0M35.5 3.7h0M30.1 18.8h0M13.7 52.3h0M36.7 39.8h0M53.7 38.5h0M32.3 10.8h0M11.3 68.2h0M59.3 63.5h0M20.7 39.9h0M32.6 14.1h0M86.5 59.1h0M24.3 1.3h0M7.9 7.2h0M66.4 47.8h0M71.4 74.7h0M65.3 49.1h0M40.4 47.4h0M27.6 29.7h0M75.7 29.1h0M80.0 77.9h0M58.2 58.2h0M22.9 6.7h0M40.5 34.9h0M40.9 27.2h0M43.3 69.6h0M5.8 20.7h0M48.5 77.3h0M36.1 45.5h0M10.8 60.9h0M81.3 66.8h0M1.6 33.0h0M1.5 80.2h0M39.3 51.8h0M-0.5 28.9h0M12.7 37.2h0M78.9 36.5h0" stroke="#1a3cd0" stroke-width="2.3" stroke-linecap="round"/></g><path d="M64.4 78.1h19" stroke="#999" stroke-width="0.5"/><rect x="1.5" y="1.5" width="4" height="3" fill="none" stroke="#666" stroke-width="0.4"/></svg>
<svg x="459.5" y="300.2" width="86.3" height="80.6" viewBox="0 0 86.3 80.6" overflow="hidden"><rect width="86.3" height="80.6" fill="#01040c"/><g filter="url(#bl)" style="mix-blend-mode:screen"><path d="M44.9 78.2h0M29.0 57.5h0M80.7 3.2h0M57.4 67.3h0M76.1 47.8h0M8.9 27.5h0M0.0 64.3h0M27.9 17.4h0M12.0 2.4h0M11.7 7.5h0M19.3 27.9h0M75.5 11.2h0M18.8 19.5h0M19.3 67.5h0M37.8 36.1h0M29.1 73.4h0M37.8 36.8h0M48.8 54.6h0M57.3 74.2h0M49.9 33.3h0M30.6 43.7h0M20.3 10.9h0M4.3 40.3h0M27.1 62.6h0M41.9 37.2h0M46.5 74.0h0M77.5 59.3h0M8.0 63.1h0M22.4 6.0h0M3.7 12.0h0M37.1 51.3h0M20.6 73.3h0M44.8 55.3h0M13.6 62.0h0M26.7 33.0h0M1.0 50.7h0M60.3 44.7h0M11.7 30.6h0M17.1 68.6h0M28.2 77.5h0M63.8 59.5h0M50.5 20.8h0M61.2 80.4h0M29.3 59.4h0M20.4 65.6h0M20.9 58.0h0M70.9 32.0h0M0.1 50.1h0M13.8 34.4h0M16.8 18.5h0M60.3 38.4h0M12.8 2.6h0M79.8 42.1h0M60.0 64.6h0M83.6 11.1h0M7.1 58.5h0M70.4 76.6h0M70.3 63.7h0M52.0 27.7h0M78.3 55.0h0M24.4 8.5h0M81.8 13.9h0M23.2 79.6h0M52.7 48.2h0M38.4 25.7h0M67.7 2.8h0M35.2 80.5h0M8.5 32.4h0M44.0 23.8h0M2.1 11.6h0M3.3 72.2h0M25.6 40.4h0M67.2 14.2h0M22.5 22.5h0M10.3 69.2h0M11.2 66.2h0M15.2 29.0h0M84.9 46.5h0M84.9 3.2h0M62.0 54.4h0M20.8 42.0h0M57.6 19.6h0M78.3 0.5h0M17.6 21.0h0M26.4 31.9h0M42.5 12.9h0M10.6 16.0h0M3.7 38.9h0M59.1 36.4h0M75.1 48.2h0M38.2 10.9h0M63.8 53.7h0M1.3 34.9h0M20.7 16.5h0M14.6 53.9h0M0.7 12.9h0M3.8 34.0h0M42.5 55.7h0M47.7 24.9h0M45.8 72.1h0M57.4 8.8h0M24.8 36.1h0M66.1 45.1h0M7.1 60.5h0M83.1 12.5h0M32.4 2.7h0M17.1 34.8h0M77.9 33.3h0M3.3 9.5h0M27.1 17.9h0M14.0 60.2h0M53.2 52.4h0M56.1 69.6h0M-0.0 59.5h0M41.7 36.7h0M16.1 18.4h0M73.5 35.0h0M69.8 56.8h0M16.8 59.4h0M48.9 60.1h0M24.9 0.6h0M11.9 25.0h0M27.6 50.9h0M40.1 57.2h0M13.0 40.4h0M63.3 62.5h0M19.6 56.3h0M28.4 76.9h0M49.5 75.3h0M26.5 34.4h0M40.2 74.5h0M41.4 21.0h0M72.5 76.8h0M73.2 57.4h0M55.2 72.1h0M79.7 33.3h0M43.5 16.0h0M59.7 22.2h0M45.9 48.4h0M55.7 60.5h0M77.3 79.5h0M67.0 48.1h0M82.9 69.7h0M15.4 61.8h0M65.3 55.7h0M56.1 59.8h0M12.4 13.8h0M18.9 0.8h0M76.0 44.9h0M66.7 53.5h0M57.6 51.0h0M64.1 40.9h0M20.6 5.1h0M22.5 30.4h0M23.0 15.4h0M47.5 81.3h0M35.3 21.8h0M7.8 65.3h0M73.4 63.3h0M62.5 15.5h0M4.6 22.3h0M0.3 52.0h0M51.7 4.3h0M71.0 44.9h0M31.2 51.1h0M52.1 26.1h0M7.1 50.5h0M57.1 60.2h0M11.9 8.1h0M75.5 23.0h0M38.3 56.3h0M47.4 29.6h0M72.9 46.4h0M52.9 4.9h0M54.7 50.8h0M25.5 57.4h0M11.1 12.7h0M52.2 34.3h0M39.6 80.5h0M19.8 32.5h0M6.8 71.3h0M62.0 48.8h0M83.7 31.9h0M68.3 37.5h0M56.5 2.4h0M1.7 2.8h0M38.1 2.7h0M28.8 2.7h0M17.7 27.7h0M31.0 75.2h0M82.1 32.2h0M14.4 25.9h0M41.9 39.8h0M47.9 72.7h0M27.3 73.8h0M49.2 29.6h0M73.9 81.2h0M31.5 71.8h0M23.8 77.8h0M20.1 44.8h0M57.5 27.2h0M20.8 15.7h0M1.3 22.4h0M52.5 1.7h0M74.6 16.0h0M54.4 25.7h0M33.7 59.4h0M47.2 54.6h0M31.9 50.7h0M50.1 81.5h0M39.0 43.4h0M6.7 68.6h0M2.3 18.2h0M17.6 41.2h0M80.9 1.7h0M25.4 66.9h0M25.8 25.3h0M65.5 50.6h0M47.9 51.0h0M49.6 69.4h0M25.8 52.3h0M82.0 18.6h0M49.9 46.5h0M17.2 74.7h0M80.6 67.4h0M51.6 24.5h0M80.8 58.3h0M71.7 42.2h0M44.3 34.7h0M42.9 70.5h0M39.6 12.6h0M57.3 73.8h0M82.3 31.9h0M42.7 66.1h0M8.2 28.5h0M8.6 75.2h0M35.5 37.0h0M79.1 52.2h0M68.6 73.4h0M7.5 78.9h0M60.6 81.4h0M22.2 79.7h0M27.5 21.0h0M84.1 33.5h0M51.8 22.8h0M75.0 27.8h0M-0.6 16.4h0M70.5 63.8h0M30.7 56.7h0M68.3 19.0h0M32.9 66.2h0M28.0 79.8h0M73.6 49.5h0M40.9 72.9h0M84.0 50.8h0M39.3 73.7h0M-1.0 41.5h0M7.9 31.6h0M58.6 15.2h0M24.2 68.1h0" stroke="#1a40d0" stroke-width="2.3" stroke-linecap="round" stroke-opacity="0.4"/><path d="M55.1 9.5h0M46.9 7.4h0M72.8 53.3h0M9.5 76.6h0M69.8 18.0h0M40.5 10.7h0M67.6 9.9h0M46.5 47.2h0M32.8 35.6h0M39.7 77.3h0M27.7 41.4h0M39.0 5.7h0M48.4 33.6h0M48.2 0.5h0M67.0 35.6h0M69.7 44.8h0M78.7 9.5h0M22.0 35.7h0M85.9 79.3h0M31.7 65.4h0M82.2 51.4h0M72.7 11.1h0M36.5 70.7h0M17.5 14.1h0M5.2 36.7h0M42.6 47.0h0M83.7 78.0h0M6.6 29.2h0M58.1 71.5h0M2.5 1.9h0M37.4 79.7h0M11.8 61.0h0M1.3 14.3h0M40.6 19.2h0M13.9 33.2h0M56.7 25.8h0M43.5 80.5h0M61.1 32.2h0M65.2 33.4h0M76.3 48.3h0M7.3 71.9h0M63.9 42.1h0M14.4 69.4h0M42.5 28.2h0M30.0 -0.5h0M82.0 19.0h0M67.7 4.8h0M87.2 2.9h0M83.5 11.0h0M6.9 81.3h0M7.8 50.9h0M0.1 16.7h0M26.5 27.4h0M37.8 69.0h0M79.2 17.5h0M57.0 32.9h0M58.7 18.3h0M40.3 52.4h0M74.7 24.5h0M14.2 2.3h0M28.6 31.5h0M59.5 69.3h0M37.1 12.4h0M55.8 76.5h0M34.5 73.5h0M77.0 13.0h0M55.1 18.2h0M21.9 61.1h0M14.5 37.0h0M53.7 9.7h0M2.0 33.0h0M18.6 62.9h0M32.8 71.7h0M18.3 25.9h0M20.7 14.9h0M47.8 73.2h0M13.9 -0.2h0M32.4 -0.3h0M13.6 10.5h0M14.4 21.3h0M63.9 81.2h0M39.4 78.4h0M66.1 50.0h0M21.7 22.6h0M2.0 58.8h0M18.7 29.2h0M51.8 68.3h0M45.9 27.7h0M64.0 40.1h0M48.2 74.3h0M82.5 50.6h0M39.9 36.4h0M36.3 2.6h0M1.9 0.6h0M46.2 57.3h0M27.4 71.8h0M26.5 14.7h0M69.8 69.5h0M47.2 62.2h0M76.4 20.8h0M23.2 41.5h0M2.3 72.2h0M71.2 3.4h0M18.8 30.0h0M24.4 37.8h0M71.1 45.0h0M36.0 23.0h0M65.0 7.5h0M66.4 57.7h0M14.2 19.5h0M13.5 71.9h0M34.7 61.1h0M65.7 57.1h0M71.2 17.5h0M68.2 74.7h0M86.0 32.6h0M10.5 73.3h0M24.8 67.6h0M5.4 47.2h0M22.6 38.4h0M80.9 35.2h0M16.4 31.0h0M34.7 8.7h0M51.1 13.3h0M63.3 56.0h0M74.6 22.6h0M65.8 23.8h0M19.5 42.9h0M55.5 53.2h0M-0.1 73.4h0M34.4 67.0h0M70.8 2.3h0M52.9 50.8h0M22.2 74.1h0M11.6 21.0h0M14.5 30.6h0M85.8 45.4h0M1.4 30.4h0M22.2 4.1h0M51.0 66.0h0M78.9 54.9h0M44.6 63.0h0M56.6 38.5h0M55.5 35.3h0M58.2 20.4h0M8.7 74.2h0M10.5 35.6h0M22.9 70.3h0M19.9 7.7h0M41.2 62.9h0M5.9 23.3h0M61.9 7.0h0M77.2 27.2h0M14.6 40.9h0M47.7 43.1h0M15.7 35.8h0M65.8 0.1h0M23.1 21.1h0M31.8 18.1h0M47.7 52.4h0M42.8 44.4h0M11.1 61.2h0M37.9 36.8h0M30.0 49.4h0M30.3 40.0h0M34.1 4.2h0M34.4 9.2h0M60.2 6.9h0M31.3 66.2h0M26.3 5.9h0M70.1 46.6h0M59.2 36.6h0M3.0 45.3h0M29.9 31.7h0M22.7 62.7h0M84.9 45.1h0M74.8 39.2h0M2.9 70.4h0M6.4 61.3h0M75.9 52.9h0M60.3 61.1h0M85.8 17.2h0M26.2 3.0h0M69.8 58.7h0M40.3 58.7h0M28.3 15.1h0M73.9 70.3h0M46.3 49.0h0M18.2 20.8h0M46.5 34.3h0M37.2 30.3h0M38.0 0.6h0M74.6 35.0h0M86.0 32.9h0M44.3 26.9h0M3.1 45.0h0M14.0 35.5h0M24.0 15.1h0M40.9 53.9h0M62.6 6.2h0M11.5 8.8h0M31.7 55.4h0M17.4 39.2h0M24.2 63.9h0M84.7 52.2h0M65.5 54.8h0M23.8 60.2h0M33.8 51.5h0M19.0 30.1h0M59.5 22.8h0M72.9 61.1h0M26.4 70.9h0M55.9 55.5h0M54.5 58.9h0M26.5 46.2h0M42.5 80.7h0M81.0 18.4h0M47.9 43.6h0M57.2 66.0h0M17.1 28.6h0M14.2 69.1h0M14.0 29.0h0M18.7 42.2h0M23.1 43.4h0M86.4 37.5h0M85.0 53.7h0M30.7 53.3h0M53.9 40.9h0M74.3 49.0h0M60.2 55.3h0M22.7 24.4h0M39.3 10.2h0M68.9 29.8h0M13.9 37.7h0M49.8 55.1h0M36.9 74.8h0M0.5 34.6h0M11.5 40.9h0M18.4 53.4h0M2.6 60.8h0M82.1 76.4h0M37.7 44.5h0M60.6 11.3h0M33.9 72.8h0M2.1 2.2h0M54.8 5.6h0M40.6 75.0h0M77.0 6.6h0M78.4 30.0h0M45.9 60.8h0M68.8 38.9h0M26.5 63.0h0M60.5 30.8h0M82.4 41.7h0M69.1 57.8h0M71.7 7.8h0M13.2 8.4h0M28.9 31.8h0M5.4 13.2h0M59.3 49.3h0" stroke="#1a40d0" stroke-width="2.3" stroke-linecap="round" stroke-opacity="0.6"/><path d="M42.8 38.3h0M50.3 58.4h0M86.2 7.9h0M60.2 15.4h0M80.9 17.5h0M83.6 10.7h0M9.2 54.4h0M78.8 4.4h0M30.0 4.9h0M43.4 33.0h0M61.0 33.6h0M14.5 67.3h0M-0.4 10.6h0M64.7 3.5h0M36.6 28.6h0M71.7 43.4h0M73.3 75.4h0M28.6 60.5h0M5.5 36.6h0M56.4 48.6h0M45.4 3.3h0M33.4 74.3h0M5.9 46.2h0M43.5 2.2h0M16.1 44.2h0M14.5 69.7h0M53.6 70.8h0M58.8 8.0h0M87.1 69.5h0M59.3 38.0h0M19.7 21.6h0M0.5 62.9h0M61.8 22.3h0M55.7 29.0h0M39.7 26.7h0M71.9 50.2h0M84.3 11.5h0M26.6 2.1h0M34.0 55.9h0M45.5 50.8h0M64.2 65.7h0M65.7 24.4h0M65.9 22.5h0M59.8 30.9h0M0.1 66.2h0M81.4 74.6h0M82.5 59.1h0M12.8 13.8h0M29.0 54.9h0M25.6 20.6h0M9.9 61.8h0M46.6 31.2h0M29.9 24.4h0M45.7 71.1h0M45.8 1.5h0M56.6 57.5h0M39.8 72.3h0M10.5 38.4h0M75.8 7.6h0M38.6 25.9h0M33.0 17.9h0M30.1 67.5h0M-0.9 17.2h0M32.1 56.7h0M33.1 73.0h0M70.0 3.6h0M44.7 24.2h0M58.7 58.0h0M44.9 21.2h0M16.1 19.5h0M84.9 50.2h0M13.1 -0.7h0M22.0 5.4h0M85.2 68.0h0M-0.8 42.5h0M8.0 29.0h0M73.7 25.1h0M24.7 32.4h0M22.3 63.5h0M76.5 53.4h0M50.5 17.5h0M70.2 4.4h0M74.2 80.3h0M31.1 19.8h0M15.6 76.0h0M55.4 -0.6h0M57.1 75.2h0M49.4 60.7h0M15.6 34.2h0M74.7 48.6h0M5.2 74.3h0M5.0 55.5h0M12.0 39.3h0M61.7 70.0h0M60.1 29.5h0M10.2 8.0h0M32.8 74.0h0M15.9 49.7h0M-0.2 53.8h0M21.4 9.4h0M85.8 7.1h0M72.9 40.0h0M5.4 74.8h0M40.5 19.3h0M43.7 20.1h0M72.1 39.5h0M76.0 0.7h0M3.8 24.2h0M85.1 75.9h0M71.7 80.9h0M77.8 49.5h0M66.2 43.1h0M52.3 69.3h0M57.1 66.8h0M5.9 55.2h0M18.8 9.2h0M82.5 61.7h0M69.5 71.9h0M59.9 -0.6h0M35.3 57.7h0M38.8 13.8h0M64.1 12.7h0M27.5 37.1h0M60.0 3.2h0M54.8 30.5h0M14.1 13.5h0M14.9 17.6h0M56.3 39.3h0M1.7 74.9h0M60.9 4.0h0M19.9 46.2h0M23.5 63.1h0M18.0 31.5h0M35.6 35.0h0M-0.4 14.9h0M45.6 28.3h0M83.4 30.7h0M21.7 5.3h0M73.4 61.7h0M75.8 5.3h0M86.1 29.3h0M74.2 1.6h0M81.7 75.9h0M21.7 75.7h0M65.1 43.5h0M33.7 41.7h0M4.3 64.9h0M40.5 42.6h0M44.3 72.3h0M77.5 72.0h0M19.0 51.2h0M18.3 55.1h0M82.7 14.6h0M28.3 27.9h0M51.9 36.1h0M71.5 78.0h0M69.3 30.4h0M80.5 76.4h0M19.7 24.6h0M0.7 26.0h0M38.8 24.5h0M37.7 45.5h0M53.7 42.4h0M75.0 78.5h0M1.7 80.9h0M49.3 10.0h0M66.0 21.8h0M64.9 37.7h0M26.8 50.2h0M41.0 1.9h0M55.7 78.8h0M42.4 40.0h0M55.9 55.4h0M14.6 53.7h0M78.3 43.6h0M39.4 18.4h0M85.3 35.2h0M27.4 60.7h0M25.7 17.7h0M7.1 70.5h0M78.1 46.4h0M21.3 -0.7h0M6.1 67.6h0M28.1 54.9h0M81.9 45.9h0M6.0 74.4h0M12.3 4.1h0M79.2 47.9h0M15.8 77.2h0M40.4 52.9h0M46.2 50.7h0M31.5 0.5h0M46.2 51.1h0M36.7 9.6h0M12.7 80.8h0M1.9 4.7h0M46.3 15.3h0M17.7 67.3h0M36.4 47.8h0M18.4 33.5h0M71.2 17.1h0M34.1 18.2h0M-0.2 48.5h0M45.0 46.2h0M45.6 7.2h0M37.5 69.9h0M65.0 53.8h0M27.6 73.5h0M-0.8 44.1h0M74.3 49.0h0M67.5 59.0h0M82.3 12.3h0M40.7 7.1h0M73.1 23.7h0M40.1 49.6h0M84.8 39.8h0M1.0 79.7h0M55.9 47.0h0M65.5 40.5h0M26.5 78.0h0M45.9 81.5h0M13.4 22.1h0M41.1 24.1h0M34.4 29.6h0M39.7 17.3h0M36.7 18.1h0M6.7 46.3h0M26.5 1.6h0M78.1 51.3h0M42.9 15.5h0M81.0 28.6h0M18.6 52.7h0M22.1 62.8h0M0.7 38.4h0M28.2 62.0h0M26.0 34.3h0M3.1 49.5h0M77.6 7.2h0M42.0 16.6h0M0.2 72.8h0M18.5 44.8h0M42.1 50.7h0M81.5 3.7h0M38.7 0.1h0M79.3 11.7h0M11.3 56.1h0M14.7 36.8h0M28.7 15.3h0M85.7 55.1h0M18.5 32.1h0M52.3 7.2h0M22.4 6.1h0M82.0 36.0h0M50.9 77.5h0M21.2 8.6h0M75.1 40.4h0M21.3 67.2h0M16.8 24.7h0M26.6 40.3h0M66.8 65.5h0" stroke="#1a40d0" stroke-width="2.3" stroke-linecap="round" stroke-opacity="0.85"/></g><g filter="url(#bl2)" style="mix-blend-mode:screen"><path d="M4.3 11.7h0M10.2 58.7h0M0.8 36.7h0M22.9 18.9h0M14.5 2.1h0M79.1 51.9h0M59.4 5.8h0M17.0 3.3h0M61.4 28.7h0M83.6 59.1h0M20.1 7.0h0M10.7 81.3h0M79.7 49.1h0M30.6 65.2h0M73.3 28.7h0M63.7 27.6h0M33.4 69.7h0M8.3 33.5h0M51.3 0.6h0M28.9 22.8h0M54.4 41.4h0M86.7 32.1h0M9.5 13.8h0M40.2 4.8h0M39.9 54.4h0M37.8 34.4h0M82.9 11.9h0M13.9 80.4h0M3.0 26.9h0M68.5 35.7h0" stroke="#1a7a28" stroke-width="4.0" stroke-linecap="round" stroke-opacity="0.4"/></g><g filter="url(#bl)" style="mix-blend-mode:screen"><path d="M50.2 33.9h0M74.4 65.8h0M43.1 12.2h0M70.3 34.8h0M83.5 44.3h0M85.5 78.4h0" stroke="#30d040" stroke-width="2.2" stroke-linecap="round" stroke-opacity="0.7"/></g><path d="M64.3 78.1h19" stroke="#999" stroke-width="0.5"/><rect x="1.5" y="1.5" width="4" height="3" fill="none" stroke="#666" stroke-width="0.4"/></svg>
<svg x="281.0" y="383.8" width="86.1" height="80.6" viewBox="0 0 86.1 80.6" overflow="hidden"><rect width="86.1" height="80.6" fill="#01040c"/><rect width="86.1" height="80.6" filter="url(#tf9)"/><g filter="url(#bl)" style="mix-blend-mode:screen"><path d="M12.5 40.9h0M14.6 5.1h0M53.6 58.4h0M66.2 49.4h0M41.8 11.0h0M85.1 5.4h0M39.4 55.9h0M71.2 39.8h0M28.4 32.8h0M14.4 68.4h0M48.1 54.8h0M68.4 61.9h0M77.2 32.5h0M7.2 43.2h0M10.8 76.9h0M67.9 75.5h0M61.5 31.8h0M58.0 78.1h0M5.1 43.5h0M4.3 0.6h0M41.7 44.5h0M3.1 25.2h0M56.2 17.3h0M43.6 0.8h0M41.8 0.4h0M0.0 59.3h0M4.3 17.3h0M58.5 -2.9h0M31.7 60.7h0M10.8 39.2h0M-4.8 27.0h0M55.2 62.2h0M44.5 23.8h0M15.3 22.2h0M4.9 31.8h0M47.9 59.0h0M40.3 19.8h0M82.2 34.3h0M7.8 22.7h0M56.2 54.7h0M22.6 6.1h0M10.2 67.3h0M40.2 37.9h0M-2.8 55.1h0M19.2 27.7h0M7.3 72.5h0M17.3 24.1h0M5.6 22.3h0M87.6 44.2h0M81.5 11.6h0M66.6 38.0h0M82.8 8.7h0M61.4 49.4h0M69.5 71.3h0M69.0 37.4h0M37.6 64.1h0M71.2 45.1h0M26.5 9.8h0M63.1 3.4h0M82.4 24.0h0M9.4 79.1h0M46.0 -3.6h0M6.9 38.9h0M72.1 28.1h0M17.3 1.7h0M55.7 29.9h0M41.2 20.5h0M50.7 48.0h0M67.9 34.2h0M54.6 66.4h0M20.1 25.0h0M38.0 49.3h0M45.8 29.4h0M18.1 46.8h0M80.6 14.8h0M9.6 23.5h0M29.5 42.3h0M37.3 66.5h0M16.8 8.8h0M80.0 0.3h0M59.8 16.6h0M63.8 67.7h0M73.9 72.9h0M52.6 52.8h0M-3.0 -1.3h0M80.8 60.8h0M78.2 70.8h0M84.2 74.7h0M32.2 56.1h0M43.2 80.0h0M13.5 36.2h0M18.4 7.4h0M52.0 55.7h0M62.9 45.9h0M43.3 11.3h0M87.0 8.5h0M42.2 67.5h0M72.2 37.2h0M30.3 37.1h0M15.9 66.3h0M45.5 54.7h0M70.9 63.9h0M78.3 37.3h0M6.6 41.5h0M9.9 71.9h0M65.8 70.4h0M67.3 34.5h0M51.4 75.1h0M6.5 44.4h0M4.0 3.0h0M42.2 42.3h0M5.2 20.5h0M55.7 11.1h0M41.2 -1.2h0M40.6 1.2h0M-1.2 58.4h0M8.7 16.3h0M59.0 -2.0h0M33.4 61.2h0M9.2 37.9h0M3.3 25.4h0M58.2 62.8h0M42.5 21.2h0M16.5 18.8h0M-0.0 30.1h0M49.2 54.8h0M37.4 28.6h0M76.5 34.7h0M6.9 18.9h0M61.3 46.4h0M22.7 7.5h0M10.1 59.3h0M47.2 41.1h0" stroke="#32e040" stroke-width="2.8" stroke-linecap="round" stroke-opacity="0.45"/><path d="M81.3 0.8h0M69.0 28.7h0M70.2 63.8h0M32.4 19.8h0M74.5 30.9h0M21.5 27.9h0M27.5 15.5h0M30.8 48.4h0M34.2 24.6h0M52.0 21.8h0M14.9 49.2h0M78.1 6.8h0M42.4 35.8h0M21.7 11.2h0M56.3 76.8h0M65.9 23.8h0M91.8 4.9h0M82.4 41.0h0M67.0 5.8h0M1.0 15.5h0M27.8 47.7h0M14.8 30.5h0M5.3 0.8h0M54.6 49.4h0M67.5 14.5h0M69.1 59.1h0M66.4 77.6h0M38.7 50.7h0M9.6 5.6h0M43.5 61.4h0M51.5 55.5h0M35.3 79.7h0M84.3 6.5h0M30.6 72.0h0M6.6 51.7h0M43.4 71.4h0M76.2 53.7h0M11.2 69.1h0M29.9 83.4h0M6.3 57.2h0M37.7 80.0h0M33.7 73.2h0M53.2 61.7h0M63.9 54.4h0M17.5 62.2h0M75.6 40.6h0M9.3 66.8h0M38.8 60.5h0M75.9 28.0h0M1.5 45.8h0M21.8 14.5h0M77.8 63.6h0M74.7 42.1h0M59.9 70.6h0M21.8 -2.5h0M43.8 5.3h0M69.6 25.9h0M36.3 42.7h0M11.6 19.5h0M-1.4 50.9h0M50.8 55.3h0M11.4 2.8h0M17.5 42.7h0M35.8 67.2h0M72.0 8.1h0M39.4 34.6h0M90.7 2.5h0M69.9 8.4h0M60.7 33.2h0M68.9 62.6h0M68.1 38.8h0M40.3 21.9h0M30.9 40.4h0M43.9 7.4h0M24.3 9.4h0M77.1 19.7h0M67.1 78.6h0M69.1 80.0h0M51.4 53.7h0M36.8 14.7h0M49.1 16.1h0M64.7 17.4h0M9.9 12.7h0M7.5 27.0h0M60.8 73.1h0M13.3 6.6h0M15.3 68.0h0M2.9 19.6h0M24.0 29.3h0M83.4 67.1h0M87.9 3.1h0M70.9 32.7h0M69.7 62.2h0M29.9 18.3h0M67.4 34.4h0M20.7 30.5h0M26.2 16.6h0M32.6 49.0h0M34.5 25.8h0M47.1 18.7h0M20.7 42.3h0M80.0 6.6h0M40.7 39.0h0M17.2 8.3h0M53.4 71.7h0M72.4 26.6h0M87.0 -0.1h0M86.6 36.2h0M70.6 8.8h0M3.9 12.4h0M29.5 47.9h0M13.4 25.9h0M10.9 5.3h0M51.8 57.3h0M69.4 8.8h0M65.5 51.4h0M71.0 77.6h0M43.2 50.7h0M7.4 9.7h0M45.0 63.4h0M56.0 53.7h0M37.2 76.6h0M80.6 11.1h0M29.4 73.9h0M11.1 52.2h0M45.9 71.3h0M74.8 48.1h0M15.8 70.9h0M27.2 82.4h0M0.8 60.8h0M42.9 79.1h0M33.5 70.9h0M56.3 55.1h0" stroke="#32e040" stroke-width="2.8" stroke-linecap="round" stroke-opacity="0.7"/><path d="M57.3 55.9h0M47.5 9.0h0M64.2 35.9h0M27.4 23.6h0M86.3 12.9h0M11.9 82.1h0M60.4 55.5h0M61.2 65.4h0M56.9 57.5h0M82.3 4.2h0M72.8 21.1h0M10.1 63.7h0M-3.5 48.2h0M71.7 64.5h0M71.1 18.1h0M9.2 23.7h0M52.6 34.3h0M3.3 81.1h0M80.3 8.6h0M87.2 23.7h0M0.8 10.3h0M16.6 10.8h0M2.9 6.0h0M82.7 49.5h0M30.6 60.5h0M47.8 19.8h0M1.8 14.9h0M32.6 28.9h0M61.0 75.1h0M4.9 56.1h0M31.6 48.3h0M15.2 51.5h0M26.6 38.8h0M51.9 12.3h0M-0.4 54.5h0M39.7 16.2h0M21.8 39.1h0M0.6 14.2h0M48.9 59.8h0M0.6 32.2h0M44.2 49.5h0M27.0 14.3h0M65.5 22.6h0M16.8 19.5h0M83.4 38.9h0M27.8 11.4h0M64.3 40.9h0M50.0 80.1h0M46.7 71.0h0M28.7 22.0h0M14.8 18.6h0M77.6 -4.3h0M44.6 6.1h0M35.3 17.0h0M20.4 35.4h0M80.7 71.7h0M3.6 66.8h0M78.2 53.1h0M70.2 33.2h0M33.9 7.2h0M37.6 48.6h0M25.6 52.9h0M42.0 38.5h0M10.2 66.6h0M64.0 4.8h0M50.5 54.6h0M38.9 45.3h0M22.1 26.1h0M17.4 37.2h0M25.0 7.6h0M18.1 4.4h0M54.7 38.9h0M65.4 56.1h0M43.0 50.8h0M91.5 72.2h0M33.5 35.7h0M83.1 63.0h0M54.1 13.2h0M52.2 61.6h0M17.4 21.7h0M0.8 51.6h0M82.8 50.1h0M33.5 51.0h0M51.6 73.8h0M66.4 33.2h0M34.7 41.4h0M75.0 4.2h0M32.7 40.7h0M17.1 15.9h0M13.0 5.1h0M54.8 60.2h0M41.1 5.9h0M66.9 35.0h0M30.6 28.0h0M81.9 6.7h0M16.0 79.9h0M60.9 58.0h0M58.7 63.1h0M61.3 57.3h0M81.2 6.5h0M74.2 22.4h0M15.3 60.3h0M-1.3 52.6h0M76.0 61.4h0M66.7 16.9h0M10.3 25.8h0M54.5 35.5h0M2.7 80.1h0M78.4 10.0h0M89.1 27.9h0M-0.2 16.9h0M16.9 10.9h0M2.6 5.2h0M81.9 44.6h0M30.5 57.2h0M50.8 16.2h0M7.9 13.4h0M30.3 24.7h0M60.2 78.7h0M1.1 50.1h0M29.5 53.1h0M18.4 53.4h0M30.1 38.2h0M59.5 12.3h0M-4.2 56.5h0M39.0 14.7h0M12.7 38.2h0M6.4 14.1h0M55.7 65.2h0M-1.3 37.9h0M50.8 50.3h0M23.2 13.7h0M64.0 28.8h0" stroke="#32e040" stroke-width="2.8" stroke-linecap="round"/></g><path d="M64.1 78.1h19" stroke="#999" stroke-width="0.5"/><rect x="1.5" y="1.5" width="4" height="3" fill="none" stroke="#666" stroke-width="0.4"/></svg>
<svg x="370.3" y="383.8" width="86.4" height="80.6" viewBox="0 0 86.4 80.6" overflow="hidden"><rect width="86.4" height="80.6" fill="#020604"/><g filter="url(#bl2)" style="mix-blend-mode:screen"><path d="M58.3 69.8h0M6.4 34.9h0M37.6 59.2h0M72.7 41.1h0M87.1 46.5h0M41.2 62.6h0M5.8 42.6h0M24.2 57.4h0M1.5 43.7h0M49.3 18.7h0M72.5 73.0h0M82.2 39.1h0M6.7 78.3h0M55.3 0.5h0M1.0 18.9h0M27.1 43.6h0M42.5 0.2h0M54.7 51.0h0M14.0 18.7h0M20.7 66.5h0M63.3 39.4h0M69.0 30.2h0M39.8 32.6h0M25.8 41.3h0M14.5 41.8h0M6.5 17.7h0M65.6 6.7h0M50.6 40.1h0M59.5 48.9h0M46.1 75.6h0M26.0 49.6h0M58.5 40.2h0M19.0 64.5h0M6.1 10.3h0M22.4 21.2h0M18.6 46.0h0M25.0 14.8h0M56.0 78.1h0M83.2 15.0h0M86.7 3.5h0M52.6 50.2h0M15.0 24.3h0M52.2 77.3h0M45.2 42.5h0M50.8 33.0h0M83.0 67.9h0M0.6 74.6h0M8.9 36.5h0M50.4 5.7h0M53.1 58.1h0M44.9 2.2h0M49.9 31.8h0M3.9 33.0h0M3.9 23.7h0M30.1 74.7h0M5.3 42.7h0M70.2 44.2h0M85.2 55.6h0M75.1 39.7h0M45.8 78.7h0M19.9 77.0h0M45.3 42.6h0M83.7 42.0h0M32.1 12.8h0M36.3 55.4h0M54.1 60.8h0M20.6 66.1h0M17.4 17.6h0M17.2 60.8h0M29.9 21.4h0M1.3 22.4h0M72.7 17.7h0M18.7 75.7h0M52.6 9.1h0M1.4 75.9h0M63.2 13.6h0M56.9 77.9h0M14.4 47.2h0M42.4 74.6h0M36.0 44.8h0M30.4 76.9h0M13.1 46.4h0M10.3 58.4h0M60.5 37.2h0M77.4 31.5h0M51.0 40.0h0M14.4 62.6h0M53.1 15.2h0M35.3 79.4h0M68.8 46.1h0M17.0 58.5h0M30.8 34.5h0M55.9 78.5h0M22.7 17.9h0M3.1 18.5h0M86.8 14.1h0M21.9 47.8h0M17.5 30.0h0M6.5 79.2h0M28.1 80.0h0M30.6 75.3h0M10.3 8.3h0M63.0 27.4h0M60.9 65.3h0M78.6 76.0h0M54.3 39.4h0M65.6 9.4h0M59.5 48.4h0M18.2 44.0h0M38.3 57.0h0" stroke="#1e9032" stroke-width="4.6" stroke-linecap="round" stroke-opacity="0.4"/><path d="M4.1 53.6h0M85.1 24.9h0M53.0 63.6h0M60.1 26.5h0M43.5 73.4h0M22.7 0.6h0M11.6 67.6h0M14.9 32.2h0M54.7 8.3h0M18.7 49.7h0M8.8 17.1h0M76.3 3.2h0M43.3 73.7h0M-0.4 46.2h0M21.1 60.4h0M47.9 55.1h0M46.4 11.7h0M57.0 63.9h0M9.0 75.7h0M22.3 55.1h0M21.8 20.1h0M23.7 59.8h0M49.4 60.6h0M44.5 77.0h0M85.3 7.2h0M2.7 3.6h0M59.4 70.6h0M74.8 78.4h0M52.7 56.5h0M13.7 58.6h0M63.2 80.8h0M24.1 58.9h0M66.7 40.1h0M20.8 38.3h0M41.1 74.6h0M18.3 39.6h0M79.2 16.8h0M18.0 46.2h0M13.2 48.4h0M42.2 79.4h0M33.7 77.1h0M3.7 40.0h0M74.2 62.7h0M65.7 71.5h0M19.2 5.0h0M48.4 72.3h0M34.5 33.8h0M81.7 2.0h0M62.2 -0.5h0M67.9 34.0h0M29.6 40.2h0M83.4 57.3h0M70.5 15.4h0M7.6 24.4h0M55.4 24.6h0M39.0 14.8h0M21.5 12.7h0M10.0 2.1h0M79.9 80.6h0M87.4 64.9h0M44.7 71.3h0M63.8 50.2h0M44.6 37.2h0M79.7 47.9h0M52.2 3.4h0M80.7 51.4h0M9.8 73.3h0M31.3 18.4h0M31.7 47.7h0M30.5 55.5h0M46.8 55.2h0M74.0 55.4h0M23.0 65.9h0M61.3 11.0h0M35.5 74.4h0M11.8 64.7h0M45.9 37.1h0M0.8 54.1h0M45.3 55.1h0M14.4 80.6h0M79.0 53.4h0M3.0 72.1h0M18.1 9.7h0M48.3 0.0h0M20.0 65.0h0M24.1 45.0h0M23.3 34.5h0M40.2 76.7h0M47.9 10.5h0M50.2 77.8h0M83.5 73.5h0M45.9 34.6h0M56.3 52.9h0M53.2 45.8h0M29.1 39.7h0M57.1 10.7h0M56.0 64.7h0M50.3 76.6h0M49.9 26.8h0M66.5 31.8h0M82.9 36.1h0M53.0 54.5h0M30.6 31.6h0M40.2 45.7h0M31.0 34.9h0M22.1 64.7h0M87.1 77.1h0M74.2 75.4h0M29.8 38.2h0M27.4 68.8h0" stroke="#1e9032" stroke-width="4.6" stroke-linecap="round" stroke-opacity="0.55"/></g><g filter="url(#bl)" style="mix-blend-mode:screen"><path d="M15.1 23.1h0M59.4 2.9h0M14.9 24.3h0M53.3 31.1h0M28.9 74.4h0M84.7 74.8h0M25.6 56.6h0M50.9 80.3h0M4.8 68.0h0M30.6 4.2h0M6.4 51.6h0M15.1 29.3h0M43.6 32.7h0M57.0 64.6h0M8.5 65.6h0M34.8 5.7h0M37.3 68.0h0M22.3 48.6h0M25.9 46.0h0M25.7 37.4h0M47.5 30.7h0M3.6 52.8h0M29.3 59.4h0M54.1 65.2h0M78.7 48.0h0M76.4 71.9h0M10.7 65.0h0M20.9 7.5h0M66.1 46.9h0M31.3 17.8h0M17.5 66.7h0M2.5 28.4h0M12.0 43.4h0M8.5 34.4h0M18.9 65.7h0" stroke="#32d044" stroke-width="2.7" stroke-linecap="round" stroke-opacity="0.5"/><path d="M69.0 67.0h0M79.4 33.9h0M59.3 2.9h0M14.3 25.8h0M25.3 49.1h0M68.7 66.4h0M82.3 40.8h0M15.8 73.3h0M40.6 8.6h0M3.1 66.3h0M43.5 70.5h0M73.9 79.8h0M21.1 34.6h0M36.0 8.9h0M76.6 46.8h0M37.6 13.7h0M18.7 7.5h0M40.0 32.4h0M74.2 60.0h0M35.1 61.0h0M51.1 80.2h0M49.2 9.8h0M36.6 33.2h0M16.1 8.4h0M37.5 81.4h0M86.7 23.2h0M74.7 44.5h0M69.4 39.7h0M59.3 56.7h0M60.9 60.5h0M76.8 74.3h0M79.9 67.2h0M71.7 11.4h0M72.6 43.2h0M65.9 28.5h0" stroke="#32d044" stroke-width="2.7" stroke-linecap="round" stroke-opacity="0.8"/></g><g filter="url(#bl)" style="mix-blend-mode:lighten"><path d="M87.3 37.5h0M20.9 8.1h0M47.5 28.6h0M71.9 32.4h0M46.7 12.7h0M56.8 60.5h0M38.2 49.0h0M4.3 -0.5h0M47.2 2.0h0M54.8 34.5h0M4.2 27.8h0M24.4 61.6h0M7.9 69.5h0M58.2 72.0h0M72.0 38.6h0M83.1 36.3h0M6.0 6.4h0M83.1 3.0h0M50.4 43.4h0M19.6 3.7h0M29.4 48.5h0M81.2 60.4h0M47.0 54.0h0M17.5 79.0h0M19.7 5.2h0M71.0 24.9h0M86.3 49.8h0M48.5 7.4h0M69.7 27.3h0M67.2 12.0h0M8.2 8.3h0M69.4 30.2h0M2.1 66.1h0M16.0 15.2h0M57.8 3.0h0M62.8 73.9h0M71.6 20.7h0M35.0 58.7h0M74.1 63.7h0M17.7 50.8h0M80.4 40.2h0M39.1 45.4h0M80.5 6.8h0M77.5 12.8h0M19.5 37.0h0M33.0 56.5h0M65.9 0.4h0M14.6 61.8h0M-0.2 21.9h0M40.3 7.1h0M41.1 19.4h0M28.8 1.7h0M79.7 7.0h0M3.7 60.7h0M35.5 49.4h0M29.6 49.0h0M55.0 69.4h0M10.7 21.1h0M79.4 37.3h0M58.0 20.7h0M27.2 18.0h0M63.4 25.6h0M0.9 20.6h0M43.2 13.0h0M82.3 78.5h0M32.4 16.0h0M29.7 54.5h0M5.4 73.3h0M78.5 76.4h0M63.2 33.6h0M40.6 39.5h0M64.1 4.9h0M38.3 9.4h0M85.2 54.1h0M4.2 76.9h0M54.1 17.4h0M82.6 34.9h0M61.0 39.4h0M8.5 49.6h0M65.0 1.1h0M36.5 58.9h0M23.0 30.9h0M8.8 70.2h0M39.2 3.7h0M13.2 25.0h0M16.0 64.1h0M59.1 61.9h0M52.8 73.0h0M35.2 20.3h0M5.6 6.8h0M42.6 70.4h0M34.8 51.2h0M38.5 31.6h0M45.1 59.7h0M62.4 36.2h0M86.4 -0.7h0M34.0 15.1h0M13.4 14.7h0M4.0 4.1h0M23.6 61.7h0M42.8 44.9h0M46.6 6.4h0M19.4 70.8h0M49.8 71.2h0M25.3 38.4h0M23.3 30.5h0M59.5 43.3h0M5.1 60.9h0M7.2 51.8h0M66.6 75.1h0M11.4 50.1h0M12.8 27.4h0M79.7 17.2h0M32.4 53.2h0M1.3 4.6h0M86.1 19.3h0M72.2 71.8h0M26.4 4.9h0M26.4 1.5h0M19.1 71.2h0M63.1 47.7h0M26.0 48.9h0M25.2 80.5h0M45.6 66.8h0M81.6 46.1h0M43.4 56.7h0M18.0 56.1h0M43.5 44.0h0M47.4 69.7h0M53.7 30.5h0M17.9 18.3h0M12.2 30.9h0M4.5 56.8h0M9.7 40.8h0M27.8 64.6h0M20.4 25.6h0M17.4 78.4h0M62.1 15.8h0M32.9 10.9h0M69.4 48.5h0M63.7 28.8h0M46.5 17.0h0M29.7 12.9h0M79.4 59.1h0M36.2 34.6h0M13.5 4.5h0M71.4 61.5h0M81.2 79.3h0M26.3 52.5h0M33.6 14.2h0M50.7 72.1h0M81.6 59.5h0M40.8 39.0h0M17.2 40.8h0M17.0 24.9h0M31.4 43.8h0M8.9 71.8h0M43.4 44.6h0M47.0 70.2h0M14.6 80.1h0M86.7 3.3h0M35.4 65.9h0M71.1 81.4h0M83.5 8.8h0M2.8 48.8h0M70.5 18.6h0M24.5 65.4h0M75.5 66.8h0M63.4 73.9h0M4.3 19.1h0M0.7 44.2h0M48.7 56.4h0M53.0 67.0h0M33.3 61.1h0M26.2 33.0h0M2.0 26.4h0M83.9 71.8h0M31.6 26.2h0M10.6 7.3h0M38.1 21.4h0M59.1 40.1h0M42.4 9.5h0M64.6 4.0h0M73.8 57.7h0M56.8 1.4h0M42.4 7.9h0M70.2 26.3h0M0.7 33.9h0M48.9 26.1h0M10.2 69.0h0M68.5 55.2h0M25.2 16.4h0M54.6 57.3h0M80.4 60.6h0M80.6 47.9h0M21.6 77.1h0M72.4 53.3h0M67.1 45.3h0M56.6 16.6h0M9.9 37.4h0M71.1 15.4h0M74.3 40.0h0M11.6 47.0h0M76.0 55.2h0M51.3 22.4h0M33.5 34.1h0M41.7 38.1h0M64.4 40.8h0M-0.9 53.5h0M32.2 49.4h0M50.5 14.3h0M22.5 38.8h0M65.9 -0.3h0M29.1 2.0h0M36.2 10.1h0M51.7 53.1h0M65.1 47.5h0M4.7 63.3h0M21.4 50.2h0M66.2 28.0h0M50.3 3.3h0M18.9 54.5h0M5.6 76.8h0M14.5 58.8h0M33.8 9.4h0M46.4 2.2h0M4.6 71.1h0M80.2 13.5h0M50.1 60.0h0M48.0 0.7h0M12.9 78.7h0M34.7 11.9h0M17.3 6.1h0M53.3 38.6h0M70.8 24.8h0M63.8 62.0h0M71.2 6.8h0M69.7 42.7h0M50.9 15.9h0M20.2 10.2h0M32.2 15.0h0M81.7 2.9h0M34.6 25.1h0M63.4 47.0h0M41.9 7.2h0M37.1 77.8h0M54.1 53.9h0M63.7 20.9h0M46.8 49.9h0M30.0 60.4h0M11.6 73.6h0M20.0 6.2h0M38.8 27.8h0M75.4 61.5h0M56.8 -1.0h0M22.9 16.1h0M36.4 41.1h0M80.3 62.4h0M59.7 22.1h0M79.8 44.3h0" stroke="#1a3cd0" stroke-width="2.3" stroke-linecap="round" stroke-opacity="0.5"/><path d="M30.3 50.1h0M27.0 33.9h0M39.9 70.8h0M21.1 48.8h0M23.5 55.7h0M77.0 6.5h0M86.5 14.8h0M47.9 16.9h0M19.3 34.1h0M37.2 42.1h0M40.6 7.0h0M83.2 49.8h0M68.4 56.6h0M22.2 8.7h0M81.2 12.7h0M30.3 61.4h0M25.8 25.4h0M40.7 7.2h0M27.9 2.3h0M82.3 55.5h0M80.9 69.3h0M79.9 47.1h0M15.8 72.9h0M28.4 59.2h0M43.9 8.8h0M82.5 3.0h0M-0.2 24.1h0M21.4 57.8h0M13.8 22.7h0M29.8 75.9h0M65.5 30.8h0M21.2 22.9h0M59.0 39.2h0M0.8 81.5h0M63.0 24.7h0M32.0 39.1h0M15.3 49.9h0M42.0 46.7h0M51.5 36.4h0M77.5 38.1h0M65.7 63.1h0M0.8 78.8h0M72.5 39.3h0M70.6 0.1h0M58.4 52.6h0M15.5 8.0h0M84.6 69.5h0M61.1 42.6h0M23.4 79.8h0M34.3 37.0h0M50.5 71.0h0M19.2 69.8h0M6.5 12.5h0M85.1 10.2h0M64.7 47.9h0M5.8 25.8h0M37.8 61.4h0M34.5 72.1h0M13.3 30.5h0M7.3 44.7h0M-0.7 79.5h0M36.9 78.7h0M78.3 49.7h0M10.2 55.6h0M0.1 58.4h0M43.6 79.0h0M7.2 2.5h0M67.5 77.8h0M33.3 57.2h0M80.3 51.8h0M56.3 22.0h0M14.7 7.2h0M26.9 26.1h0M67.5 42.8h0M64.8 52.3h0M20.9 76.6h0M34.4 19.6h0M59.1 5.3h0M15.7 1.3h0M28.3 32.6h0M58.2 13.2h0M70.2 13.1h0M20.6 7.0h0M16.6 61.8h0M60.2 45.7h0M81.4 74.0h0M84.8 62.4h0M70.4 2.7h0M66.4 43.8h0M66.2 63.6h0M11.9 4.7h0M3.6 26.7h0M73.7 2.7h0M5.7 63.7h0M68.8 48.2h0M46.6 55.5h0M1.4 77.5h0M81.0 45.2h0M71.4 41.4h0M62.1 59.8h0M45.9 34.5h0M79.2 49.6h0M45.2 5.1h0M3.5 38.2h0M44.7 70.5h0M69.9 41.7h0M80.0 26.9h0M71.6 4.4h0M6.5 16.0h0M20.7 69.2h0M65.1 3.4h0M10.3 18.5h0M29.4 73.2h0M72.8 66.9h0M25.4 52.7h0M58.1 68.1h0M23.0 60.6h0M45.8 23.5h0M58.9 25.7h0M40.1 67.8h0M4.2 51.1h0M81.8 16.9h0M53.7 75.7h0M31.6 42.6h0M23.5 9.1h0M0.4 45.5h0M85.8 41.2h0M2.8 47.3h0M82.2 75.8h0M72.4 2.2h0M17.6 57.3h0M28.9 48.2h0M59.1 6.4h0M22.8 43.1h0M82.1 14.0h0M22.6 33.3h0M51.1 68.5h0M34.2 62.9h0M63.2 70.4h0M9.7 81.4h0M33.9 37.1h0M52.0 49.4h0M41.0 18.3h0M7.5 10.6h0M16.8 74.1h0M38.4 36.9h0M19.6 54.2h0M80.8 39.5h0M19.7 79.2h0M9.6 40.5h0M38.7 45.8h0M15.0 18.2h0M46.8 60.0h0M53.2 4.0h0M4.4 25.3h0M59.1 11.4h0M24.9 75.7h0M13.4 38.0h0M21.1 32.5h0M20.1 1.6h0M71.4 23.2h0M15.4 7.5h0M15.3 63.8h0M33.0 80.9h0M55.0 66.0h0M42.4 57.8h0M41.3 42.2h0M36.6 13.0h0M76.9 30.3h0M78.7 10.0h0M34.5 16.6h0M30.8 26.3h0M53.2 1.5h0M56.8 25.0h0M74.3 80.2h0M22.7 42.7h0M56.9 15.4h0M7.5 28.9h0M7.2 80.7h0M28.2 67.9h0M37.5 42.2h0M8.2 24.3h0M83.0 54.3h0M63.3 35.7h0M60.6 54.2h0M28.7 10.9h0M64.5 37.7h0M68.5 46.2h0M79.3 74.7h0M34.4 41.9h0M70.3 42.3h0M52.8 52.8h0M40.7 32.0h0M12.3 25.1h0M73.9 0.9h0M84.3 26.6h0M74.3 28.4h0M4.1 60.7h0M41.1 69.3h0M0.9 21.1h0M35.9 69.5h0M77.0 18.8h0M61.2 71.4h0M53.7 62.6h0M15.8 23.6h0M34.2 65.1h0M36.6 33.6h0M76.8 20.2h0M52.6 35.9h0M67.3 14.4h0M80.4 3.4h0M81.5 40.1h0M18.9 43.1h0M51.9 31.2h0M7.4 63.1h0M33.9 41.0h0M22.4 53.1h0M42.9 59.0h0M8.8 5.9h0M34.5 64.3h0M78.4 38.9h0M-0.7 31.5h0M0.8 55.9h0M65.6 40.9h0M13.1 58.2h0M52.8 78.4h0M42.9 52.1h0M31.7 29.9h0M71.8 23.2h0M86.0 24.9h0M10.2 55.0h0M66.4 76.4h0M35.3 79.9h0M64.2 57.1h0M87.0 1.9h0M59.0 52.2h0M15.0 27.1h0M36.2 52.9h0M2.6 10.8h0M74.5 20.6h0M25.7 38.2h0M78.8 16.3h0M13.8 5.3h0M71.7 48.9h0M22.6 71.6h0M40.0 7.0h0M42.2 15.6h0M53.0 75.7h0M33.5 31.1h0M21.7 60.2h0M68.1 52.5h0M21.2 45.9h0M12.0 11.4h0M24.2 44.8h0M13.1 12.2h0M58.4 10.7h0M67.3 64.7h0M14.3 55.3h0M52.1 6.0h0M46.0 56.3h0" stroke="#1a3cd0" stroke-width="2.3" stroke-linecap="round" stroke-opacity="0.75"/><path d="M4.1 8.7h0M1.2 71.5h0M82.9 20.5h0M46.8 45.9h0M6.0 58.9h0M75.3 35.7h0M49.0 56.0h0M65.2 79.5h0M44.4 13.4h0M25.4 35.0h0M-0.6 63.4h0M15.9 42.9h0M24.8 76.2h0M69.6 31.0h0M0.7 19.3h0M49.2 22.4h0M71.6 24.2h0M15.0 64.5h0M31.7 55.4h0M60.3 49.2h0M80.9 42.1h0M46.2 46.7h0M50.6 75.6h0M35.8 8.1h0M2.5 54.8h0M75.5 40.6h0M28.7 73.0h0M66.5 63.4h0M87.0 21.3h0M59.4 59.5h0M62.5 34.7h0M43.9 20.0h0M72.8 8.6h0M32.3 48.3h0M56.9 60.0h0M25.0 18.2h0M46.7 72.6h0M72.1 19.9h0M25.0 44.7h0M35.6 76.1h0M70.2 28.1h0M13.7 38.6h0M5.9 51.3h0M80.5 8.8h0M42.1 20.1h0M12.4 75.8h0M31.4 7.5h0M87.0 13.8h0M62.6 43.2h0M73.4 13.4h0M8.4 29.1h0M17.5 26.3h0M59.4 50.0h0M73.0 68.5h0M81.3 53.8h0M34.4 27.6h0M1.5 40.4h0M27.3 31.2h0M11.2 60.8h0M3.9 18.4h0M55.6 63.8h0M47.2 52.8h0M48.1 31.9h0M17.9 40.6h0M82.7 19.8h0M37.7 55.5h0M23.3 0.8h0M27.3 76.5h0M56.4 66.6h0M36.1 40.8h0M52.1 11.5h0M16.4 24.7h0M60.2 45.2h0M30.9 40.0h0M54.8 31.7h0M15.5 60.7h0M66.6 62.1h0M26.4 46.6h0M45.3 58.6h0M67.3 75.9h0M10.7 24.2h0M36.0 73.9h0M25.7 26.0h0M43.8 11.2h0M49.0 34.6h0M2.1 1.1h0M30.9 50.0h0M48.1 40.8h0M62.3 55.0h0M64.6 49.6h0M87.2 59.4h0M78.3 67.0h0M54.3 57.0h0M14.0 65.8h0M8.8 70.6h0M50.2 16.3h0M42.6 20.5h0M64.3 65.4h0M36.8 21.7h0M49.9 66.5h0M61.2 60.4h0M60.4 68.5h0M16.4 31.3h0M52.4 74.5h0M23.0 35.7h0M72.4 81.1h0M52.4 65.4h0M36.1 77.1h0M76.0 41.7h0M1.6 46.6h0M13.1 59.2h0M50.2 80.1h0M47.4 76.9h0M9.2 58.0h0M0.5 58.8h0M86.7 2.7h0M35.6 30.3h0M81.9 66.9h0M57.0 72.1h0M21.1 41.5h0M21.1 11.9h0M40.6 11.2h0M32.4 14.2h0M24.9 19.2h0M71.9 30.8h0M50.2 4.4h0M72.7 80.5h0M52.5 1.0h0M3.4 24.2h0M10.3 36.8h0M35.9 60.6h0M10.3 11.1h0M12.3 6.6h0M54.4 45.2h0M83.8 48.1h0M66.9 47.7h0M67.4 50.8h0M54.8 40.0h0M86.3 48.0h0M66.8 66.7h0M71.6 48.8h0M28.3 4.6h0M32.4 50.4h0M1.6 63.9h0M27.7 53.5h0M29.1 56.9h0M9.7 1.1h0M60.5 53.6h0M9.9 41.3h0M62.3 71.8h0M37.8 37.1h0M40.2 27.9h0M58.5 17.2h0M43.0 44.7h0M56.2 41.3h0M86.1 46.9h0M9.0 56.5h0M43.5 16.1h0M7.8 35.5h0M4.1 11.1h0M20.0 4.5h0M5.0 1.5h0M80.6 33.9h0M41.8 30.7h0M65.9 52.6h0M68.9 20.2h0M36.1 15.5h0M5.9 23.5h0M75.5 31.0h0M35.3 30.3h0M9.6 28.1h0M80.1 12.0h0M56.3 4.9h0M67.4 68.9h0M43.4 32.6h0M38.1 11.9h0M82.0 65.5h0M55.4 41.2h0M82.9 42.1h0M31.7 62.1h0M10.7 78.3h0M25.2 81.5h0M17.2 6.6h0M54.6 8.8h0M6.4 67.8h0M56.6 21.7h0M67.4 38.8h0M46.2 21.8h0M41.7 73.9h0M46.3 43.4h0M83.7 37.6h0M19.9 11.0h0M84.2 71.2h0M59.8 17.9h0M67.6 12.2h0M55.5 8.1h0M64.9 26.2h0M1.9 42.2h0M35.9 41.6h0M84.3 59.7h0M18.9 74.2h0M71.6 73.2h0M48.6 73.7h0M62.4 66.9h0M76.7 40.9h0M10.1 20.9h0M46.1 8.3h0M77.3 0.1h0M12.7 17.6h0M80.0 66.7h0M75.9 52.8h0M63.5 59.1h0M2.4 79.5h0M82.4 19.0h0M15.4 29.8h0M62.4 67.0h0M78.6 57.8h0M38.7 23.3h0M13.5 32.3h0M50.5 63.8h0M54.5 21.2h0M41.5 67.9h0M65.8 50.8h0M32.9 43.0h0M57.6 12.8h0M41.4 50.4h0M19.6 35.7h0M65.9 41.9h0M45.9 22.3h0M83.8 19.0h0M78.9 19.9h0M55.0 43.2h0M22.4 39.9h0M41.4 19.5h0M55.4 68.3h0M62.4 74.0h0M38.3 41.9h0M38.7 77.8h0M74.2 14.8h0M50.6 15.4h0M76.9 66.9h0M74.9 8.1h0M19.2 56.0h0M10.6 54.0h0M62.8 76.9h0M55.6 50.6h0M73.8 46.4h0M55.9 71.2h0M66.7 26.4h0M85.3 72.2h0M81.0 77.1h0M59.7 25.8h0M83.9 56.2h0M9.5 41.1h0M34.6 60.6h0M71.7 16.0h0M9.9 3.3h0M53.4 53.8h0M64.6 56.4h0M9.6 43.4h0" stroke="#1a3cd0" stroke-width="2.3" stroke-linecap="round" stroke-opacity="0.95"/></g><path d="M64.4 78.1h19" stroke="#999" stroke-width="0.5"/><rect x="1.5" y="1.5" width="4" height="3" fill="none" stroke="#666" stroke-width="0.4"/></svg>
<svg x="459.5" y="383.8" width="86.3" height="80.6" viewBox="0 0 86.3 80.6" overflow="hidden"><rect width="86.3" height="80.6" fill="#01040c"/><g filter="url(#bl)" style="mix-blend-mode:screen"><path d="M31.4 1.5h0M14.7 35.5h0M68.2 35.6h0M43.6 13.7h0M40.1 23.5h0M69.3 30.4h0M53.5 8.3h0M17.7 34.5h0M49.3 38.4h0M0.7 68.3h0M72.1 43.2h0M59.4 42.8h0M13.6 58.2h0M7.5 76.2h0M19.7 70.7h0M84.0 9.8h0M61.8 6.5h0M35.3 20.0h0M15.5 41.3h0M74.4 37.8h0M3.9 12.7h0M10.8 11.0h0M12.4 14.7h0M45.8 20.4h0M15.7 72.7h0M2.3 36.2h0M5.0 15.6h0M26.3 10.2h0M41.9 35.6h0M25.7 27.2h0M28.6 35.9h0M66.5 7.4h0M85.4 62.8h0M54.6 5.5h0M12.6 15.8h0M2.4 80.8h0M49.4 33.0h0M45.5 64.3h0M19.4 24.8h0M27.0 35.8h0M11.4 35.9h0M72.9 62.0h0M41.5 12.7h0M12.4 72.4h0M27.4 78.6h0M20.6 28.7h0M83.0 22.4h0M8.7 50.2h0M33.8 47.0h0M27.2 3.1h0M69.7 57.5h0M25.1 52.3h0M0.9 48.0h0M44.6 33.2h0M79.6 80.0h0M61.9 14.1h0M21.1 59.6h0M31.8 48.1h0M27.4 66.0h0M20.9 9.6h0M51.9 66.7h0M63.9 5.2h0M66.5 71.5h0M67.1 40.2h0M46.7 68.4h0M54.5 47.9h0M31.9 3.4h0M23.6 67.6h0M58.2 72.0h0M29.9 34.7h0M75.3 29.8h0M43.7 59.9h0M75.8 -0.2h0M9.8 29.5h0M20.7 1.9h0M67.0 39.4h0M82.3 77.9h0M22.9 79.4h0M7.5 20.6h0M27.1 66.2h0M38.2 67.1h0M6.9 35.2h0M73.6 43.9h0M62.4 67.2h0M4.7 21.9h0M59.5 10.9h0M64.5 5.1h0M33.7 47.8h0M76.9 30.6h0M25.1 36.4h0M9.6 -0.6h0M74.9 80.0h0M27.9 17.0h0M-0.4 14.0h0M18.1 4.0h0M29.2 30.7h0M49.4 11.7h0M14.4 26.1h0M26.5 50.9h0M41.8 42.0h0M26.7 35.0h0M7.6 11.6h0M77.4 71.9h0M24.6 68.9h0M34.3 0.3h0M64.6 4.1h0M40.5 58.4h0M42.4 18.6h0M52.8 57.0h0M80.2 3.8h0M39.0 13.8h0M84.0 58.3h0M38.6 53.0h0M35.7 79.0h0M44.9 18.6h0M70.1 41.2h0M43.1 52.0h0M75.1 64.2h0M23.8 54.0h0M66.7 52.7h0M75.4 13.5h0M71.2 5.0h0M55.9 61.3h0M65.5 71.0h0M14.5 54.0h0M59.8 53.7h0M65.8 25.1h0M61.0 19.1h0M24.9 25.2h0M51.0 80.9h0M69.6 59.5h0M60.9 30.6h0M22.0 15.3h0M79.6 56.8h0M1.0 9.4h0M6.0 19.7h0M9.8 4.4h0M27.1 36.1h0M21.4 70.5h0M49.3 5.6h0M76.8 -0.2h0M64.4 2.0h0M13.6 66.5h0M30.8 42.2h0M0.6 6.7h0M48.4 32.3h0M48.3 20.6h0M67.7 -0.4h0M51.9 45.1h0M71.1 59.9h0M17.2 25.6h0M67.4 61.8h0M4.8 -0.9h0M83.4 42.8h0M9.8 17.8h0M30.3 62.9h0M66.4 2.1h0M47.4 33.4h0M37.6 1.8h0M72.4 9.3h0M67.8 28.3h0M58.7 62.2h0M51.9 41.6h0M72.1 73.6h0M30.6 37.0h0M51.0 14.0h0M22.3 43.4h0M20.1 15.3h0M11.6 34.1h0M42.7 64.4h0M33.1 73.7h0M8.3 78.5h0M6.3 20.3h0M20.8 72.5h0M19.0 12.1h0M35.9 37.6h0M72.5 75.4h0M18.8 41.4h0M17.9 74.1h0M40.7 48.4h0M42.4 15.2h0M19.0 5.6h0M69.5 41.2h0M59.8 35.3h0M79.8 12.8h0M61.7 72.0h0M7.6 47.8h0M75.4 33.6h0M87.2 17.8h0M67.9 58.1h0M66.5 79.3h0M52.4 74.0h0M80.3 26.0h0M50.5 30.5h0M44.2 7.6h0M76.1 38.0h0M6.0 29.5h0M17.4 42.2h0M42.2 20.4h0M36.3 24.2h0M4.7 54.2h0M26.7 9.5h0M3.2 79.1h0M64.1 77.2h0M55.7 73.6h0M82.2 63.3h0M39.5 5.9h0M18.0 1.1h0M17.8 43.0h0M33.0 25.0h0M5.7 18.1h0M56.8 42.5h0M58.0 59.9h0M41.4 50.6h0M67.1 64.0h0M19.3 44.4h0M17.5 16.5h0M68.9 4.9h0M19.6 4.1h0M6.1 37.7h0M71.1 1.6h0M69.1 74.7h0M82.1 44.4h0M42.4 63.6h0M53.2 76.9h0M79.2 66.1h0M29.0 51.6h0M20.1 48.6h0M3.6 42.1h0M7.2 67.8h0M86.7 12.3h0M2.6 50.3h0M70.6 39.3h0M76.7 8.0h0M60.9 55.9h0M87.2 54.7h0M57.6 26.2h0M41.5 27.8h0M77.0 78.1h0M54.8 23.9h0M37.6 75.2h0M46.2 45.1h0M36.1 9.3h0M4.1 47.1h0M34.5 79.2h0M19.1 14.2h0M35.2 28.8h0M56.9 43.0h0M17.3 51.8h0M67.6 45.3h0M41.1 74.0h0M44.9 72.9h0M21.0 42.2h0M10.6 18.2h0M79.7 51.4h0M13.0 30.6h0M47.7 56.8h0M6.0 56.6h0M77.2 30.3h0M38.4 36.7h0" stroke="#1a40d0" stroke-width="2.3" stroke-linecap="round" stroke-opacity="0.4"/><path d="M68.6 61.1h0M48.9 62.0h0M67.7 51.4h0M71.7 32.8h0M17.2 50.0h0M12.4 65.5h0M2.0 0.9h0M29.2 79.1h0M26.3 62.5h0M50.8 5.0h0M19.7 34.6h0M21.5 43.5h0M39.8 9.0h0M55.8 45.7h0M66.3 -0.9h0M32.1 9.8h0M70.8 41.3h0M40.4 10.3h0M40.0 44.2h0M8.1 42.0h0M38.1 49.2h0M18.7 12.2h0M11.3 35.1h0M82.5 13.9h0M22.1 4.7h0M-1.0 38.5h0M2.8 58.9h0M11.5 52.2h0M21.2 13.9h0M7.0 30.1h0M70.7 43.9h0M20.6 39.0h0M58.4 58.6h0M68.4 54.4h0M20.4 61.1h0M17.3 47.7h0M47.4 31.9h0M46.0 33.9h0M38.5 54.6h0M60.4 23.6h0M48.3 11.6h0M12.3 69.9h0M82.2 5.1h0M75.4 4.6h0M83.3 12.9h0M71.2 50.2h0M38.7 32.5h0M5.6 44.2h0M85.3 22.0h0M29.2 58.2h0M71.3 58.3h0M82.3 20.4h0M82.1 13.9h0M44.3 64.4h0M72.7 26.2h0M72.7 76.4h0M39.8 26.4h0M11.1 56.9h0M85.6 80.0h0M73.9 35.7h0M78.9 10.4h0M17.5 47.7h0M56.1 69.1h0M55.4 62.8h0M73.4 16.6h0M14.0 37.7h0M74.1 62.1h0M50.8 49.6h0M83.4 22.8h0M64.4 79.3h0M71.1 52.4h0M83.4 75.4h0M61.6 16.4h0M37.4 34.6h0M62.0 78.0h0M14.8 6.7h0M33.5 77.1h0M73.8 52.7h0M81.8 72.1h0M74.2 25.9h0M45.7 29.3h0M74.8 44.0h0M48.9 67.3h0M62.9 41.3h0M30.6 66.7h0M29.0 69.1h0M44.1 30.6h0M47.6 12.9h0M81.4 26.3h0M55.1 7.6h0M77.4 1.1h0M52.2 9.3h0M87.0 43.3h0M37.9 36.0h0M45.9 9.5h0M10.4 65.4h0M58.2 9.3h0M81.4 4.4h0M83.1 50.6h0M46.9 50.8h0M25.9 49.8h0M26.5 72.2h0M0.8 81.3h0M44.3 28.7h0M74.5 8.5h0M26.6 58.2h0M57.0 11.3h0M18.6 77.2h0M62.5 54.3h0M58.9 61.2h0M81.0 49.1h0M44.0 24.5h0M1.0 43.3h0M70.9 74.7h0M60.1 54.3h0M25.3 76.8h0M48.5 4.7h0M16.3 26.8h0M70.0 60.7h0M86.1 45.1h0M34.0 4.7h0M0.1 60.9h0M34.7 16.1h0M57.9 16.8h0M54.9 61.7h0M77.0 -0.0h0M83.0 20.4h0M17.5 77.5h0M79.7 33.2h0M42.3 57.2h0M12.4 69.2h0M8.6 46.2h0M23.5 40.0h0M13.4 67.4h0M27.7 18.4h0M18.8 20.0h0M74.1 74.3h0M79.5 36.1h0M66.5 39.4h0M42.6 55.8h0M9.8 3.4h0M66.1 76.6h0M50.1 8.7h0M3.0 20.2h0M70.3 26.1h0M4.8 29.6h0M77.0 27.7h0M69.8 12.9h0M65.5 55.7h0M57.1 63.3h0M78.2 30.9h0M73.2 58.5h0M38.4 31.2h0M50.1 28.0h0M7.7 73.4h0M19.8 51.2h0M40.4 29.8h0M20.9 66.7h0M37.0 74.1h0M52.9 70.7h0M3.4 28.0h0M51.0 48.4h0M14.9 73.5h0M29.9 67.0h0M49.9 21.2h0M32.0 33.1h0M20.7 38.8h0M29.6 53.2h0M61.4 18.9h0M20.3 8.7h0M54.7 60.6h0M59.8 23.5h0M11.7 11.2h0M77.9 34.1h0M39.7 5.7h0M0.7 54.8h0M39.7 23.4h0M66.6 74.9h0M65.3 36.6h0M77.5 40.8h0M60.6 13.5h0M76.9 39.3h0M47.1 35.1h0M37.3 3.9h0M43.2 31.6h0M18.4 28.2h0M3.4 52.8h0M58.5 46.2h0M52.6 13.4h0M48.1 0.9h0M5.5 29.7h0M37.5 39.2h0M55.7 23.2h0M70.8 16.0h0M18.6 63.8h0M6.9 9.2h0M53.7 6.3h0M22.4 42.9h0M64.5 40.1h0M41.9 62.1h0M82.4 6.1h0M0.6 58.1h0M9.8 71.3h0M8.9 76.0h0M5.5 40.5h0M77.2 17.9h0M63.5 65.7h0M64.7 73.5h0M40.9 49.6h0M47.5 39.9h0M65.7 23.8h0M50.1 61.8h0M37.6 58.0h0M86.5 59.3h0M72.6 61.7h0M41.1 19.2h0M81.8 33.0h0M19.2 80.2h0M54.9 42.0h0M76.5 3.9h0M34.3 41.9h0M18.9 77.8h0M48.9 1.4h0M64.5 18.1h0M9.3 47.7h0M39.8 1.3h0M7.1 55.6h0M16.5 69.6h0M68.0 6.5h0M17.7 60.4h0M25.8 20.6h0M11.4 27.4h0M29.8 27.6h0M31.9 47.4h0M21.5 56.4h0M34.5 45.9h0M5.4 26.1h0M79.1 49.3h0M74.2 12.6h0M57.2 52.1h0M50.5 18.9h0M46.5 43.6h0M20.2 0.5h0M6.1 57.8h0M61.0 50.4h0M32.1 66.6h0M5.1 3.3h0M32.4 76.9h0M32.4 61.5h0M11.3 43.7h0M56.6 2.3h0M68.7 75.8h0M78.4 7.1h0M77.4 70.3h0M65.5 43.5h0M66.6 26.3h0M1.0 16.7h0M7.8 30.4h0M3.8 73.7h0M23.4 18.5h0" stroke="#1a40d0" stroke-width="2.3" stroke-linecap="round" stroke-opacity="0.6"/><path d="M62.1 65.6h0M46.5 9.6h0M57.2 15.7h0M64.3 6.0h0M25.6 25.4h0M27.2 21.2h0M60.2 43.8h0M14.9 59.8h0M64.9 6.1h0M33.9 71.4h0M55.6 63.0h0M72.3 39.1h0M60.7 37.8h0M86.4 24.5h0M64.6 43.7h0M55.3 30.5h0M31.1 43.7h0M66.6 66.5h0M33.2 19.1h0M9.6 24.4h0M41.7 23.2h0M13.3 33.5h0M64.6 53.5h0M10.7 43.0h0M62.2 39.9h0M71.7 66.6h0M77.3 39.5h0M61.1 25.0h0M49.1 67.9h0M51.9 48.6h0M49.8 42.2h0M-0.7 56.7h0M12.0 8.3h0M60.0 30.0h0M64.4 44.8h0M79.6 51.2h0M11.9 12.9h0M64.8 13.0h0M84.9 58.6h0M58.5 63.1h0M68.7 70.3h0M75.7 61.1h0M25.5 53.7h0M85.6 21.0h0M-0.5 2.3h0M14.1 11.1h0M17.5 19.2h0M74.7 18.1h0M15.3 60.2h0M41.2 39.5h0M40.2 -0.4h0M73.9 42.1h0M70.2 71.3h0M31.9 70.9h0M7.1 -0.3h0M1.4 47.5h0M81.3 38.6h0M86.8 71.4h0M26.5 11.7h0M48.7 65.3h0M9.7 46.8h0M16.2 29.5h0M55.4 78.4h0M41.0 66.3h0M79.7 3.3h0M12.0 41.3h0M42.5 34.4h0M80.4 48.2h0M60.7 44.7h0M44.8 29.3h0M25.2 64.0h0M51.6 64.1h0M17.2 26.4h0M78.8 21.7h0M75.2 63.2h0M4.0 54.7h0M2.7 75.7h0M32.7 13.9h0M53.1 69.0h0M40.8 76.5h0M29.6 0.2h0M81.8 74.2h0M3.8 17.0h0M52.9 4.9h0M57.5 73.7h0M51.6 69.9h0M81.8 41.9h0M3.4 14.7h0M48.8 69.4h0M67.5 32.9h0M20.5 78.0h0M9.6 42.9h0M4.0 68.9h0M58.6 69.1h0M64.3 30.1h0M83.7 46.3h0M29.6 23.6h0M30.4 66.3h0M19.7 68.0h0M84.5 5.0h0M56.9 40.0h0M42.0 8.9h0M57.5 80.3h0M24.2 50.9h0M41.7 30.3h0M41.9 25.2h0M86.9 34.8h0M42.1 57.9h0M25.2 59.7h0M51.1 15.7h0M62.6 34.6h0M13.3 9.5h0M63.8 50.1h0M5.1 33.0h0M0.7 64.7h0M33.2 61.8h0M78.6 78.9h0M14.6 61.9h0M25.8 41.0h0M62.2 11.2h0M20.7 63.0h0M45.0 15.2h0M32.2 45.9h0M72.5 30.5h0M13.8 51.5h0M65.3 51.9h0M51.0 24.0h0M3.3 44.8h0M1.6 38.8h0M2.3 43.3h0M1.4 20.7h0M81.8 43.1h0M4.5 39.0h0M1.5 2.3h0M49.9 2.3h0M46.1 40.2h0M32.2 1.0h0M15.6 28.2h0M18.6 25.1h0M34.6 24.0h0M25.9 52.4h0M16.4 47.4h0M43.3 25.4h0M18.9 -0.0h0M63.7 40.9h0M22.1 19.7h0M38.9 7.0h0M23.5 29.9h0M20.2 44.7h0M31.2 65.8h0M52.8 13.2h0M65.4 70.2h0M19.5 41.9h0M14.4 56.4h0M36.0 17.1h0M2.3 55.2h0M18.7 68.8h0M72.5 59.3h0M20.9 21.2h0M45.4 25.8h0M57.9 43.4h0M34.3 74.7h0M64.5 54.2h0M73.2 31.8h0M24.4 57.8h0M32.2 53.1h0M80.5 55.9h0M70.3 68.1h0M0.2 78.3h0M13.1 15.5h0M56.4 54.5h0M10.7 0.3h0M11.7 32.2h0M13.3 2.7h0M72.5 61.2h0M67.8 73.5h0M42.8 52.5h0M9.9 70.9h0M44.9 49.8h0M37.7 3.7h0M72.7 78.8h0M44.4 23.0h0M74.0 20.3h0M40.3 55.5h0M14.1 64.7h0M3.1 78.0h0M13.4 30.2h0M86.2 32.7h0M21.1 74.0h0M85.8 77.9h0M50.8 61.3h0M39.4 1.1h0M19.7 0.9h0M1.6 70.0h0M15.7 6.2h0M13.5 78.5h0M62.3 25.7h0M67.4 15.8h0M57.3 55.8h0M57.8 71.5h0M37.3 38.8h0M34.3 42.8h0M36.1 24.6h0M43.4 15.9h0M36.1 5.8h0M82.9 31.2h0M11.3 6.0h0M44.2 28.1h0M15.4 44.6h0M28.9 46.5h0M51.2 26.0h0M82.4 41.2h0M37.5 33.8h0M6.6 23.6h0M86.7 21.4h0M49.5 40.8h0M39.4 13.5h0M71.1 24.4h0M70.5 53.0h0M22.2 75.4h0M35.3 2.7h0M9.7 22.0h0M65.2 32.4h0M76.7 53.3h0M54.3 15.4h0M2.9 12.7h0M52.6 70.0h0M62.9 44.4h0M46.3 79.9h0M8.2 30.8h0M55.7 69.9h0M35.8 19.0h0M52.5 52.8h0M42.3 36.1h0M60.3 68.8h0M85.3 16.3h0M86.7 27.6h0M65.8 49.9h0M74.4 40.6h0M55.9 81.5h0M85.7 48.7h0M56.6 17.5h0M28.8 51.9h0M48.5 11.0h0M72.8 39.8h0M46.8 11.4h0M20.7 17.3h0M22.8 32.1h0M70.4 77.9h0M57.8 15.8h0M0.1 19.5h0M35.4 31.8h0M45.2 54.7h0M55.5 76.3h0M55.4 65.4h0M2.8 38.4h0M15.5 43.9h0M34.8 35.1h0M58.4 21.6h0M51.3 21.0h0" stroke="#1a40d0" stroke-width="2.3" stroke-linecap="round" stroke-opacity="0.85"/></g><g filter="url(#bl2)" style="mix-blend-mode:screen"><path d="M66.2 62.8h0M25.7 43.6h0M65.7 73.2h0M67.5 74.0h0M37.1 46.2h0M38.1 79.1h0M10.6 45.7h0M73.8 21.5h0M47.9 -0.2h0M82.2 51.3h0M35.9 70.5h0M25.7 61.3h0M72.6 34.6h0M65.0 38.0h0M4.5 58.9h0M34.4 26.6h0M69.4 39.3h0M31.4 44.0h0M47.4 65.8h0M80.5 58.8h0M11.8 27.8h0M40.7 53.3h0M61.5 10.2h0M54.7 29.9h0M67.9 39.2h0M13.7 61.9h0M34.7 6.1h0M78.5 38.9h0M46.5 70.6h0M21.6 60.2h0M41.5 32.4h0M54.5 65.0h0M9.2 16.2h0M17.3 50.7h0M58.0 40.2h0M20.1 30.7h0M23.1 29.0h0M71.0 62.7h0M55.3 59.5h0M24.9 60.9h0M36.6 64.8h0M25.7 59.5h0M40.7 22.2h0M8.1 51.3h0M32.3 64.9h0M3.8 45.9h0M15.9 44.8h0M65.5 46.5h0M3.1 53.5h0M17.4 8.1h0M70.0 54.0h0M38.8 48.9h0M50.2 58.1h0M71.9 62.1h0M62.6 32.5h0M0.0 43.9h0M35.0 35.7h0M27.8 25.5h0M74.4 21.0h0M23.9 37.3h0" stroke="#1a8a2a" stroke-width="4.0" stroke-linecap="round" stroke-opacity="0.45"/></g><g filter="url(#bl)" style="mix-blend-mode:screen"><path d="M47.1 70.4h0M43.5 60.1h0M51.8 6.9h0M6.8 72.6h0M15.2 67.8h0M19.2 47.6h0M22.1 57.0h0M5.6 14.4h0M70.0 0.2h0M43.4 33.8h0M5.5 20.1h0M85.9 45.8h0M82.4 52.6h0M23.5 65.5h0" stroke="#30d040" stroke-width="2.2" stroke-linecap="round" stroke-opacity="0.7"/></g><path d="M64.3 78.1h19" stroke="#999" stroke-width="0.5"/><rect x="1.5" y="1.5" width="4" height="3" fill="none" stroke="#666" stroke-width="0.4"/></svg>
</svg>
</body></html>
